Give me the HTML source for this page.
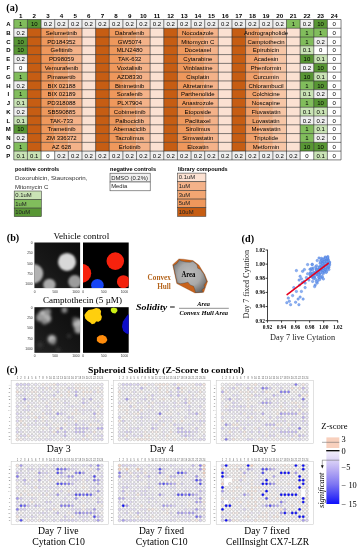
<!DOCTYPE html>
<html lang="en">
<head>
<meta charset="utf-8">
<title>Spheroid solidity screening figure</title>
<style>
html,body{margin:0;padding:0;background:#fff;}
svg{display:block;}
.s{font-family:"Liberation Sans",sans-serif;}
.r{font-family:"Liberation Serif",serif;}
</style>
</head>
<body>
<svg width="359" height="550" viewBox="0 0 359 550">
<rect width="359" height="550" fill="#fff"/>
<g id="panel-a">
<text x="6.30" y="10.60" class="r" font-size="10.2" font-weight="bold" fill="#000">(a)</text>
<text x="20.62" y="17.90" class="s" font-size="6.2" font-weight="bold" text-anchor="middle">1</text>
<text x="34.25" y="17.90" class="s" font-size="6.2" font-weight="bold" text-anchor="middle">2</text>
<text x="47.89" y="17.90" class="s" font-size="6.2" font-weight="bold" text-anchor="middle">3</text>
<text x="61.52" y="17.90" class="s" font-size="6.2" font-weight="bold" text-anchor="middle">4</text>
<text x="75.16" y="17.90" class="s" font-size="6.2" font-weight="bold" text-anchor="middle">5</text>
<text x="88.79" y="17.90" class="s" font-size="6.2" font-weight="bold" text-anchor="middle">6</text>
<text x="102.43" y="17.90" class="s" font-size="6.2" font-weight="bold" text-anchor="middle">7</text>
<text x="116.06" y="17.90" class="s" font-size="6.2" font-weight="bold" text-anchor="middle">8</text>
<text x="129.70" y="17.90" class="s" font-size="6.2" font-weight="bold" text-anchor="middle">9</text>
<text x="143.33" y="17.90" class="s" font-size="6.2" font-weight="bold" text-anchor="middle">10</text>
<text x="156.97" y="17.90" class="s" font-size="6.2" font-weight="bold" text-anchor="middle">11</text>
<text x="170.60" y="17.90" class="s" font-size="6.2" font-weight="bold" text-anchor="middle">12</text>
<text x="184.24" y="17.90" class="s" font-size="6.2" font-weight="bold" text-anchor="middle">13</text>
<text x="197.87" y="17.90" class="s" font-size="6.2" font-weight="bold" text-anchor="middle">14</text>
<text x="211.51" y="17.90" class="s" font-size="6.2" font-weight="bold" text-anchor="middle">15</text>
<text x="225.14" y="17.90" class="s" font-size="6.2" font-weight="bold" text-anchor="middle">16</text>
<text x="238.78" y="17.90" class="s" font-size="6.2" font-weight="bold" text-anchor="middle">17</text>
<text x="252.41" y="17.90" class="s" font-size="6.2" font-weight="bold" text-anchor="middle">18</text>
<text x="266.05" y="17.90" class="s" font-size="6.2" font-weight="bold" text-anchor="middle">19</text>
<text x="279.68" y="17.90" class="s" font-size="6.2" font-weight="bold" text-anchor="middle">20</text>
<text x="293.32" y="17.90" class="s" font-size="6.2" font-weight="bold" text-anchor="middle">21</text>
<text x="306.95" y="17.90" class="s" font-size="6.2" font-weight="bold" text-anchor="middle">22</text>
<text x="320.59" y="17.90" class="s" font-size="6.2" font-weight="bold" text-anchor="middle">23</text>
<text x="334.22" y="17.90" class="s" font-size="6.2" font-weight="bold" text-anchor="middle">24</text>
<text x="8.30" y="26.14" class="s" font-size="6.0" font-weight="bold" text-anchor="middle">A</text>
<text x="8.30" y="34.91" class="s" font-size="6.0" font-weight="bold" text-anchor="middle">B</text>
<text x="8.30" y="43.69" class="s" font-size="6.0" font-weight="bold" text-anchor="middle">C</text>
<text x="8.30" y="52.46" class="s" font-size="6.0" font-weight="bold" text-anchor="middle">D</text>
<text x="8.30" y="61.24" class="s" font-size="6.0" font-weight="bold" text-anchor="middle">E</text>
<text x="8.30" y="70.01" class="s" font-size="6.0" font-weight="bold" text-anchor="middle">F</text>
<text x="8.30" y="78.79" class="s" font-size="6.0" font-weight="bold" text-anchor="middle">G</text>
<text x="8.30" y="87.56" class="s" font-size="6.0" font-weight="bold" text-anchor="middle">H</text>
<text x="8.30" y="96.34" class="s" font-size="6.0" font-weight="bold" text-anchor="middle">I</text>
<text x="8.30" y="105.11" class="s" font-size="6.0" font-weight="bold" text-anchor="middle">J</text>
<text x="8.30" y="113.89" class="s" font-size="6.0" font-weight="bold" text-anchor="middle">K</text>
<text x="8.30" y="122.66" class="s" font-size="6.0" font-weight="bold" text-anchor="middle">L</text>
<text x="8.30" y="131.44" class="s" font-size="6.0" font-weight="bold" text-anchor="middle">M</text>
<text x="8.30" y="140.21" class="s" font-size="6.0" font-weight="bold" text-anchor="middle">N</text>
<text x="8.30" y="148.99" class="s" font-size="6.0" font-weight="bold" text-anchor="middle">O</text>
<text x="8.30" y="157.76" class="s" font-size="6.0" font-weight="bold" text-anchor="middle">P</text>
<rect x="13.80" y="19.50" width="13.69" height="8.83" fill="#81bd5c"/>
<rect x="27.44" y="19.50" width="13.69" height="8.83" fill="#589634"/>
<rect x="41.07" y="19.50" width="13.69" height="8.83" fill="#efefef"/>
<rect x="54.70" y="19.50" width="13.69" height="8.83" fill="#efefef"/>
<rect x="68.34" y="19.50" width="13.69" height="8.83" fill="#efefef"/>
<rect x="81.97" y="19.50" width="13.69" height="8.83" fill="#efefef"/>
<rect x="95.61" y="19.50" width="13.69" height="8.83" fill="#efefef"/>
<rect x="109.24" y="19.50" width="13.69" height="8.83" fill="#efefef"/>
<rect x="122.88" y="19.50" width="13.69" height="8.83" fill="#efefef"/>
<rect x="136.52" y="19.50" width="13.69" height="8.83" fill="#efefef"/>
<rect x="150.15" y="19.50" width="13.69" height="8.83" fill="#efefef"/>
<rect x="163.78" y="19.50" width="13.69" height="8.83" fill="#efefef"/>
<rect x="177.42" y="19.50" width="13.69" height="8.83" fill="#efefef"/>
<rect x="191.06" y="19.50" width="13.69" height="8.83" fill="#efefef"/>
<rect x="204.69" y="19.50" width="13.69" height="8.83" fill="#efefef"/>
<rect x="218.33" y="19.50" width="13.69" height="8.83" fill="#efefef"/>
<rect x="231.96" y="19.50" width="13.69" height="8.83" fill="#efefef"/>
<rect x="245.59" y="19.50" width="13.69" height="8.83" fill="#efefef"/>
<rect x="259.23" y="19.50" width="13.69" height="8.83" fill="#efefef"/>
<rect x="272.87" y="19.50" width="13.69" height="8.83" fill="#efefef"/>
<rect x="286.50" y="19.50" width="13.69" height="8.83" fill="#81bd5c"/>
<rect x="300.13" y="19.50" width="13.69" height="8.83" fill="#efefef"/>
<rect x="313.77" y="19.50" width="13.69" height="8.83" fill="#589634"/>
<rect x="327.41" y="19.50" width="13.69" height="8.83" fill="#ffffff"/>
<rect x="13.80" y="28.27" width="13.69" height="8.83" fill="#efefef"/>
<rect x="27.44" y="28.27" width="13.69" height="8.83" fill="#c65d13"/>
<rect x="41.07" y="28.27" width="13.69" height="8.83" fill="#ef985c"/>
<rect x="54.70" y="28.27" width="13.69" height="8.83" fill="#f2a672"/>
<rect x="68.34" y="28.27" width="13.69" height="8.83" fill="#f4b289"/>
<rect x="81.97" y="28.27" width="13.69" height="8.83" fill="#fbe1d2"/>
<rect x="95.61" y="28.27" width="13.69" height="8.83" fill="#c65d13"/>
<rect x="109.24" y="28.27" width="13.69" height="8.83" fill="#ef985c"/>
<rect x="122.88" y="28.27" width="13.69" height="8.83" fill="#f2a672"/>
<rect x="136.52" y="28.27" width="13.69" height="8.83" fill="#f4b289"/>
<rect x="150.15" y="28.27" width="13.69" height="8.83" fill="#fbe1d2"/>
<rect x="163.78" y="28.27" width="13.69" height="8.83" fill="#c65d13"/>
<rect x="177.42" y="28.27" width="13.69" height="8.83" fill="#ef985c"/>
<rect x="191.06" y="28.27" width="13.69" height="8.83" fill="#f2a672"/>
<rect x="204.69" y="28.27" width="13.69" height="8.83" fill="#f4b289"/>
<rect x="218.33" y="28.27" width="13.69" height="8.83" fill="#fbe1d2"/>
<rect x="231.96" y="28.27" width="13.69" height="8.83" fill="#c65d13"/>
<rect x="245.59" y="28.27" width="13.69" height="8.83" fill="#f0a06a"/>
<rect x="259.23" y="28.27" width="13.69" height="8.83" fill="#f4b48a"/>
<rect x="272.87" y="28.27" width="13.69" height="8.83" fill="#f7c6a6"/>
<rect x="286.50" y="28.27" width="13.69" height="8.83" fill="#fbe1d2"/>
<rect x="300.13" y="28.27" width="13.69" height="8.83" fill="#81bd5c"/>
<rect x="313.77" y="28.27" width="13.69" height="8.83" fill="#81bd5c"/>
<rect x="327.41" y="28.27" width="13.69" height="8.83" fill="#ffffff"/>
<rect x="13.80" y="37.05" width="13.69" height="8.83" fill="#589634"/>
<rect x="27.44" y="37.05" width="13.69" height="8.83" fill="#c65d13"/>
<rect x="41.07" y="37.05" width="13.69" height="8.83" fill="#ef985c"/>
<rect x="54.70" y="37.05" width="13.69" height="8.83" fill="#f2a672"/>
<rect x="68.34" y="37.05" width="13.69" height="8.83" fill="#f4b289"/>
<rect x="81.97" y="37.05" width="13.69" height="8.83" fill="#fbe1d2"/>
<rect x="95.61" y="37.05" width="13.69" height="8.83" fill="#c65d13"/>
<rect x="109.24" y="37.05" width="13.69" height="8.83" fill="#ef985c"/>
<rect x="122.88" y="37.05" width="13.69" height="8.83" fill="#f2a672"/>
<rect x="136.52" y="37.05" width="13.69" height="8.83" fill="#f4b289"/>
<rect x="150.15" y="37.05" width="13.69" height="8.83" fill="#fbe1d2"/>
<rect x="163.78" y="37.05" width="13.69" height="8.83" fill="#c65d13"/>
<rect x="177.42" y="37.05" width="13.69" height="8.83" fill="#ef985c"/>
<rect x="191.06" y="37.05" width="13.69" height="8.83" fill="#f2a672"/>
<rect x="204.69" y="37.05" width="13.69" height="8.83" fill="#f4b289"/>
<rect x="218.33" y="37.05" width="13.69" height="8.83" fill="#fbe1d2"/>
<rect x="231.96" y="37.05" width="13.69" height="8.83" fill="#c65d13"/>
<rect x="245.59" y="37.05" width="13.69" height="8.83" fill="#f0a06a"/>
<rect x="259.23" y="37.05" width="13.69" height="8.83" fill="#f4b48a"/>
<rect x="272.87" y="37.05" width="13.69" height="8.83" fill="#f7c6a6"/>
<rect x="286.50" y="37.05" width="13.69" height="8.83" fill="#fbe1d2"/>
<rect x="300.13" y="37.05" width="13.69" height="8.83" fill="#81bd5c"/>
<rect x="313.77" y="37.05" width="13.69" height="8.83" fill="#efefef"/>
<rect x="327.41" y="37.05" width="13.69" height="8.83" fill="#ffffff"/>
<rect x="13.80" y="45.83" width="13.69" height="8.83" fill="#589634"/>
<rect x="27.44" y="45.83" width="13.69" height="8.83" fill="#c65d13"/>
<rect x="41.07" y="45.83" width="13.69" height="8.83" fill="#ef985c"/>
<rect x="54.70" y="45.83" width="13.69" height="8.83" fill="#f2a672"/>
<rect x="68.34" y="45.83" width="13.69" height="8.83" fill="#f4b289"/>
<rect x="81.97" y="45.83" width="13.69" height="8.83" fill="#fbe1d2"/>
<rect x="95.61" y="45.83" width="13.69" height="8.83" fill="#c65d13"/>
<rect x="109.24" y="45.83" width="13.69" height="8.83" fill="#ef985c"/>
<rect x="122.88" y="45.83" width="13.69" height="8.83" fill="#f2a672"/>
<rect x="136.52" y="45.83" width="13.69" height="8.83" fill="#f4b289"/>
<rect x="150.15" y="45.83" width="13.69" height="8.83" fill="#fbe1d2"/>
<rect x="163.78" y="45.83" width="13.69" height="8.83" fill="#c65d13"/>
<rect x="177.42" y="45.83" width="13.69" height="8.83" fill="#ef985c"/>
<rect x="191.06" y="45.83" width="13.69" height="8.83" fill="#f2a672"/>
<rect x="204.69" y="45.83" width="13.69" height="8.83" fill="#f4b289"/>
<rect x="218.33" y="45.83" width="13.69" height="8.83" fill="#fbe1d2"/>
<rect x="231.96" y="45.83" width="13.69" height="8.83" fill="#c65d13"/>
<rect x="245.59" y="45.83" width="13.69" height="8.83" fill="#f0a06a"/>
<rect x="259.23" y="45.83" width="13.69" height="8.83" fill="#f4b48a"/>
<rect x="272.87" y="45.83" width="13.69" height="8.83" fill="#f7c6a6"/>
<rect x="286.50" y="45.83" width="13.69" height="8.83" fill="#fbe1d2"/>
<rect x="300.13" y="45.83" width="13.69" height="8.83" fill="#c9e3b5"/>
<rect x="313.77" y="45.83" width="13.69" height="8.83" fill="#ffffff"/>
<rect x="327.41" y="45.83" width="13.69" height="8.83" fill="#ffffff"/>
<rect x="13.80" y="54.60" width="13.69" height="8.83" fill="#efefef"/>
<rect x="27.44" y="54.60" width="13.69" height="8.83" fill="#c65d13"/>
<rect x="41.07" y="54.60" width="13.69" height="8.83" fill="#ef985c"/>
<rect x="54.70" y="54.60" width="13.69" height="8.83" fill="#f2a672"/>
<rect x="68.34" y="54.60" width="13.69" height="8.83" fill="#f4b289"/>
<rect x="81.97" y="54.60" width="13.69" height="8.83" fill="#fbe1d2"/>
<rect x="95.61" y="54.60" width="13.69" height="8.83" fill="#c65d13"/>
<rect x="109.24" y="54.60" width="13.69" height="8.83" fill="#ef985c"/>
<rect x="122.88" y="54.60" width="13.69" height="8.83" fill="#f2a672"/>
<rect x="136.52" y="54.60" width="13.69" height="8.83" fill="#f4b289"/>
<rect x="150.15" y="54.60" width="13.69" height="8.83" fill="#fbe1d2"/>
<rect x="163.78" y="54.60" width="13.69" height="8.83" fill="#c65d13"/>
<rect x="177.42" y="54.60" width="13.69" height="8.83" fill="#ef985c"/>
<rect x="191.06" y="54.60" width="13.69" height="8.83" fill="#f2a672"/>
<rect x="204.69" y="54.60" width="13.69" height="8.83" fill="#f4b289"/>
<rect x="218.33" y="54.60" width="13.69" height="8.83" fill="#fbe1d2"/>
<rect x="231.96" y="54.60" width="13.69" height="8.83" fill="#c65d13"/>
<rect x="245.59" y="54.60" width="13.69" height="8.83" fill="#f0a06a"/>
<rect x="259.23" y="54.60" width="13.69" height="8.83" fill="#f4b48a"/>
<rect x="272.87" y="54.60" width="13.69" height="8.83" fill="#f7c6a6"/>
<rect x="286.50" y="54.60" width="13.69" height="8.83" fill="#fbe1d2"/>
<rect x="300.13" y="54.60" width="13.69" height="8.83" fill="#589634"/>
<rect x="313.77" y="54.60" width="13.69" height="8.83" fill="#c9e3b5"/>
<rect x="327.41" y="54.60" width="13.69" height="8.83" fill="#ffffff"/>
<rect x="13.80" y="63.38" width="13.69" height="8.83" fill="#ffffff"/>
<rect x="27.44" y="63.38" width="13.69" height="8.83" fill="#c65d13"/>
<rect x="41.07" y="63.38" width="13.69" height="8.83" fill="#ef985c"/>
<rect x="54.70" y="63.38" width="13.69" height="8.83" fill="#f2a672"/>
<rect x="68.34" y="63.38" width="13.69" height="8.83" fill="#f4b289"/>
<rect x="81.97" y="63.38" width="13.69" height="8.83" fill="#fbe1d2"/>
<rect x="95.61" y="63.38" width="13.69" height="8.83" fill="#c65d13"/>
<rect x="109.24" y="63.38" width="13.69" height="8.83" fill="#ef985c"/>
<rect x="122.88" y="63.38" width="13.69" height="8.83" fill="#f2a672"/>
<rect x="136.52" y="63.38" width="13.69" height="8.83" fill="#f4b289"/>
<rect x="150.15" y="63.38" width="13.69" height="8.83" fill="#fbe1d2"/>
<rect x="163.78" y="63.38" width="13.69" height="8.83" fill="#c65d13"/>
<rect x="177.42" y="63.38" width="13.69" height="8.83" fill="#ef985c"/>
<rect x="191.06" y="63.38" width="13.69" height="8.83" fill="#f2a672"/>
<rect x="204.69" y="63.38" width="13.69" height="8.83" fill="#f4b289"/>
<rect x="218.33" y="63.38" width="13.69" height="8.83" fill="#fbe1d2"/>
<rect x="231.96" y="63.38" width="13.69" height="8.83" fill="#c65d13"/>
<rect x="245.59" y="63.38" width="13.69" height="8.83" fill="#f0a06a"/>
<rect x="259.23" y="63.38" width="13.69" height="8.83" fill="#f4b48a"/>
<rect x="272.87" y="63.38" width="13.69" height="8.83" fill="#f7c6a6"/>
<rect x="286.50" y="63.38" width="13.69" height="8.83" fill="#fbe1d2"/>
<rect x="300.13" y="63.38" width="13.69" height="8.83" fill="#efefef"/>
<rect x="313.77" y="63.38" width="13.69" height="8.83" fill="#589634"/>
<rect x="327.41" y="63.38" width="13.69" height="8.83" fill="#ffffff"/>
<rect x="13.80" y="72.15" width="13.69" height="8.83" fill="#81bd5c"/>
<rect x="27.44" y="72.15" width="13.69" height="8.83" fill="#c65d13"/>
<rect x="41.07" y="72.15" width="13.69" height="8.83" fill="#ef985c"/>
<rect x="54.70" y="72.15" width="13.69" height="8.83" fill="#f2a672"/>
<rect x="68.34" y="72.15" width="13.69" height="8.83" fill="#f4b289"/>
<rect x="81.97" y="72.15" width="13.69" height="8.83" fill="#fbe1d2"/>
<rect x="95.61" y="72.15" width="13.69" height="8.83" fill="#c65d13"/>
<rect x="109.24" y="72.15" width="13.69" height="8.83" fill="#ef985c"/>
<rect x="122.88" y="72.15" width="13.69" height="8.83" fill="#f2a672"/>
<rect x="136.52" y="72.15" width="13.69" height="8.83" fill="#f4b289"/>
<rect x="150.15" y="72.15" width="13.69" height="8.83" fill="#fbe1d2"/>
<rect x="163.78" y="72.15" width="13.69" height="8.83" fill="#c65d13"/>
<rect x="177.42" y="72.15" width="13.69" height="8.83" fill="#ef985c"/>
<rect x="191.06" y="72.15" width="13.69" height="8.83" fill="#f2a672"/>
<rect x="204.69" y="72.15" width="13.69" height="8.83" fill="#f4b289"/>
<rect x="218.33" y="72.15" width="13.69" height="8.83" fill="#fbe1d2"/>
<rect x="231.96" y="72.15" width="13.69" height="8.83" fill="#c65d13"/>
<rect x="245.59" y="72.15" width="13.69" height="8.83" fill="#f0a06a"/>
<rect x="259.23" y="72.15" width="13.69" height="8.83" fill="#f4b48a"/>
<rect x="272.87" y="72.15" width="13.69" height="8.83" fill="#f7c6a6"/>
<rect x="286.50" y="72.15" width="13.69" height="8.83" fill="#fbe1d2"/>
<rect x="300.13" y="72.15" width="13.69" height="8.83" fill="#589634"/>
<rect x="313.77" y="72.15" width="13.69" height="8.83" fill="#c9e3b5"/>
<rect x="327.41" y="72.15" width="13.69" height="8.83" fill="#ffffff"/>
<rect x="13.80" y="80.93" width="13.69" height="8.83" fill="#efefef"/>
<rect x="27.44" y="80.93" width="13.69" height="8.83" fill="#c65d13"/>
<rect x="41.07" y="80.93" width="13.69" height="8.83" fill="#ef985c"/>
<rect x="54.70" y="80.93" width="13.69" height="8.83" fill="#f2a672"/>
<rect x="68.34" y="80.93" width="13.69" height="8.83" fill="#f4b289"/>
<rect x="81.97" y="80.93" width="13.69" height="8.83" fill="#fbe1d2"/>
<rect x="95.61" y="80.93" width="13.69" height="8.83" fill="#c65d13"/>
<rect x="109.24" y="80.93" width="13.69" height="8.83" fill="#ef985c"/>
<rect x="122.88" y="80.93" width="13.69" height="8.83" fill="#f2a672"/>
<rect x="136.52" y="80.93" width="13.69" height="8.83" fill="#f4b289"/>
<rect x="150.15" y="80.93" width="13.69" height="8.83" fill="#fbe1d2"/>
<rect x="163.78" y="80.93" width="13.69" height="8.83" fill="#c65d13"/>
<rect x="177.42" y="80.93" width="13.69" height="8.83" fill="#ef985c"/>
<rect x="191.06" y="80.93" width="13.69" height="8.83" fill="#f2a672"/>
<rect x="204.69" y="80.93" width="13.69" height="8.83" fill="#f4b289"/>
<rect x="218.33" y="80.93" width="13.69" height="8.83" fill="#fbe1d2"/>
<rect x="231.96" y="80.93" width="13.69" height="8.83" fill="#c65d13"/>
<rect x="245.59" y="80.93" width="13.69" height="8.83" fill="#f0a06a"/>
<rect x="259.23" y="80.93" width="13.69" height="8.83" fill="#f4b48a"/>
<rect x="272.87" y="80.93" width="13.69" height="8.83" fill="#f7c6a6"/>
<rect x="286.50" y="80.93" width="13.69" height="8.83" fill="#fbe1d2"/>
<rect x="300.13" y="80.93" width="13.69" height="8.83" fill="#81bd5c"/>
<rect x="313.77" y="80.93" width="13.69" height="8.83" fill="#589634"/>
<rect x="327.41" y="80.93" width="13.69" height="8.83" fill="#ffffff"/>
<rect x="13.80" y="89.70" width="13.69" height="8.83" fill="#81bd5c"/>
<rect x="27.44" y="89.70" width="13.69" height="8.83" fill="#c65d13"/>
<rect x="41.07" y="89.70" width="13.69" height="8.83" fill="#ef985c"/>
<rect x="54.70" y="89.70" width="13.69" height="8.83" fill="#f2a672"/>
<rect x="68.34" y="89.70" width="13.69" height="8.83" fill="#f4b289"/>
<rect x="81.97" y="89.70" width="13.69" height="8.83" fill="#fbe1d2"/>
<rect x="95.61" y="89.70" width="13.69" height="8.83" fill="#c65d13"/>
<rect x="109.24" y="89.70" width="13.69" height="8.83" fill="#ef985c"/>
<rect x="122.88" y="89.70" width="13.69" height="8.83" fill="#f2a672"/>
<rect x="136.52" y="89.70" width="13.69" height="8.83" fill="#f4b289"/>
<rect x="150.15" y="89.70" width="13.69" height="8.83" fill="#fbe1d2"/>
<rect x="163.78" y="89.70" width="13.69" height="8.83" fill="#c65d13"/>
<rect x="177.42" y="89.70" width="13.69" height="8.83" fill="#ef985c"/>
<rect x="191.06" y="89.70" width="13.69" height="8.83" fill="#f2a672"/>
<rect x="204.69" y="89.70" width="13.69" height="8.83" fill="#f4b289"/>
<rect x="218.33" y="89.70" width="13.69" height="8.83" fill="#fbe1d2"/>
<rect x="231.96" y="89.70" width="13.69" height="8.83" fill="#c65d13"/>
<rect x="245.59" y="89.70" width="13.69" height="8.83" fill="#f0a06a"/>
<rect x="259.23" y="89.70" width="13.69" height="8.83" fill="#f4b48a"/>
<rect x="272.87" y="89.70" width="13.69" height="8.83" fill="#f7c6a6"/>
<rect x="286.50" y="89.70" width="13.69" height="8.83" fill="#fbe1d2"/>
<rect x="300.13" y="89.70" width="13.69" height="8.83" fill="#c9e3b5"/>
<rect x="313.77" y="89.70" width="13.69" height="8.83" fill="#efefef"/>
<rect x="327.41" y="89.70" width="13.69" height="8.83" fill="#ffffff"/>
<rect x="13.80" y="98.48" width="13.69" height="8.83" fill="#c9e3b5"/>
<rect x="27.44" y="98.48" width="13.69" height="8.83" fill="#c65d13"/>
<rect x="41.07" y="98.48" width="13.69" height="8.83" fill="#ef985c"/>
<rect x="54.70" y="98.48" width="13.69" height="8.83" fill="#f2a672"/>
<rect x="68.34" y="98.48" width="13.69" height="8.83" fill="#f4b289"/>
<rect x="81.97" y="98.48" width="13.69" height="8.83" fill="#fbe1d2"/>
<rect x="95.61" y="98.48" width="13.69" height="8.83" fill="#c65d13"/>
<rect x="109.24" y="98.48" width="13.69" height="8.83" fill="#ef985c"/>
<rect x="122.88" y="98.48" width="13.69" height="8.83" fill="#f2a672"/>
<rect x="136.52" y="98.48" width="13.69" height="8.83" fill="#f4b289"/>
<rect x="150.15" y="98.48" width="13.69" height="8.83" fill="#fbe1d2"/>
<rect x="163.78" y="98.48" width="13.69" height="8.83" fill="#c65d13"/>
<rect x="177.42" y="98.48" width="13.69" height="8.83" fill="#ef985c"/>
<rect x="191.06" y="98.48" width="13.69" height="8.83" fill="#f2a672"/>
<rect x="204.69" y="98.48" width="13.69" height="8.83" fill="#f4b289"/>
<rect x="218.33" y="98.48" width="13.69" height="8.83" fill="#fbe1d2"/>
<rect x="231.96" y="98.48" width="13.69" height="8.83" fill="#c65d13"/>
<rect x="245.59" y="98.48" width="13.69" height="8.83" fill="#f0a06a"/>
<rect x="259.23" y="98.48" width="13.69" height="8.83" fill="#f4b48a"/>
<rect x="272.87" y="98.48" width="13.69" height="8.83" fill="#f7c6a6"/>
<rect x="286.50" y="98.48" width="13.69" height="8.83" fill="#fbe1d2"/>
<rect x="300.13" y="98.48" width="13.69" height="8.83" fill="#81bd5c"/>
<rect x="313.77" y="98.48" width="13.69" height="8.83" fill="#589634"/>
<rect x="327.41" y="98.48" width="13.69" height="8.83" fill="#ffffff"/>
<rect x="13.80" y="107.25" width="13.69" height="8.83" fill="#efefef"/>
<rect x="27.44" y="107.25" width="13.69" height="8.83" fill="#c65d13"/>
<rect x="41.07" y="107.25" width="13.69" height="8.83" fill="#ef985c"/>
<rect x="54.70" y="107.25" width="13.69" height="8.83" fill="#f2a672"/>
<rect x="68.34" y="107.25" width="13.69" height="8.83" fill="#f4b289"/>
<rect x="81.97" y="107.25" width="13.69" height="8.83" fill="#fbe1d2"/>
<rect x="95.61" y="107.25" width="13.69" height="8.83" fill="#c65d13"/>
<rect x="109.24" y="107.25" width="13.69" height="8.83" fill="#ef985c"/>
<rect x="122.88" y="107.25" width="13.69" height="8.83" fill="#f2a672"/>
<rect x="136.52" y="107.25" width="13.69" height="8.83" fill="#f4b289"/>
<rect x="150.15" y="107.25" width="13.69" height="8.83" fill="#fbe1d2"/>
<rect x="163.78" y="107.25" width="13.69" height="8.83" fill="#c65d13"/>
<rect x="177.42" y="107.25" width="13.69" height="8.83" fill="#ef985c"/>
<rect x="191.06" y="107.25" width="13.69" height="8.83" fill="#f2a672"/>
<rect x="204.69" y="107.25" width="13.69" height="8.83" fill="#f4b289"/>
<rect x="218.33" y="107.25" width="13.69" height="8.83" fill="#fbe1d2"/>
<rect x="231.96" y="107.25" width="13.69" height="8.83" fill="#c65d13"/>
<rect x="245.59" y="107.25" width="13.69" height="8.83" fill="#f0a06a"/>
<rect x="259.23" y="107.25" width="13.69" height="8.83" fill="#f4b48a"/>
<rect x="272.87" y="107.25" width="13.69" height="8.83" fill="#f7c6a6"/>
<rect x="286.50" y="107.25" width="13.69" height="8.83" fill="#fbe1d2"/>
<rect x="300.13" y="107.25" width="13.69" height="8.83" fill="#c9e3b5"/>
<rect x="313.77" y="107.25" width="13.69" height="8.83" fill="#c9e3b5"/>
<rect x="327.41" y="107.25" width="13.69" height="8.83" fill="#ffffff"/>
<rect x="13.80" y="116.03" width="13.69" height="8.83" fill="#c9e3b5"/>
<rect x="27.44" y="116.03" width="13.69" height="8.83" fill="#c65d13"/>
<rect x="41.07" y="116.03" width="13.69" height="8.83" fill="#ef985c"/>
<rect x="54.70" y="116.03" width="13.69" height="8.83" fill="#f2a672"/>
<rect x="68.34" y="116.03" width="13.69" height="8.83" fill="#f4b289"/>
<rect x="81.97" y="116.03" width="13.69" height="8.83" fill="#fbe1d2"/>
<rect x="95.61" y="116.03" width="13.69" height="8.83" fill="#c65d13"/>
<rect x="109.24" y="116.03" width="13.69" height="8.83" fill="#ef985c"/>
<rect x="122.88" y="116.03" width="13.69" height="8.83" fill="#f2a672"/>
<rect x="136.52" y="116.03" width="13.69" height="8.83" fill="#f4b289"/>
<rect x="150.15" y="116.03" width="13.69" height="8.83" fill="#fbe1d2"/>
<rect x="163.78" y="116.03" width="13.69" height="8.83" fill="#c65d13"/>
<rect x="177.42" y="116.03" width="13.69" height="8.83" fill="#ef985c"/>
<rect x="191.06" y="116.03" width="13.69" height="8.83" fill="#f2a672"/>
<rect x="204.69" y="116.03" width="13.69" height="8.83" fill="#f4b289"/>
<rect x="218.33" y="116.03" width="13.69" height="8.83" fill="#fbe1d2"/>
<rect x="231.96" y="116.03" width="13.69" height="8.83" fill="#c65d13"/>
<rect x="245.59" y="116.03" width="13.69" height="8.83" fill="#f0a06a"/>
<rect x="259.23" y="116.03" width="13.69" height="8.83" fill="#f4b48a"/>
<rect x="272.87" y="116.03" width="13.69" height="8.83" fill="#f7c6a6"/>
<rect x="286.50" y="116.03" width="13.69" height="8.83" fill="#fbe1d2"/>
<rect x="300.13" y="116.03" width="13.69" height="8.83" fill="#efefef"/>
<rect x="313.77" y="116.03" width="13.69" height="8.83" fill="#efefef"/>
<rect x="327.41" y="116.03" width="13.69" height="8.83" fill="#ffffff"/>
<rect x="13.80" y="124.80" width="13.69" height="8.83" fill="#589634"/>
<rect x="27.44" y="124.80" width="13.69" height="8.83" fill="#c65d13"/>
<rect x="41.07" y="124.80" width="13.69" height="8.83" fill="#ef985c"/>
<rect x="54.70" y="124.80" width="13.69" height="8.83" fill="#f2a672"/>
<rect x="68.34" y="124.80" width="13.69" height="8.83" fill="#f4b289"/>
<rect x="81.97" y="124.80" width="13.69" height="8.83" fill="#fbe1d2"/>
<rect x="95.61" y="124.80" width="13.69" height="8.83" fill="#c65d13"/>
<rect x="109.24" y="124.80" width="13.69" height="8.83" fill="#ef985c"/>
<rect x="122.88" y="124.80" width="13.69" height="8.83" fill="#f2a672"/>
<rect x="136.52" y="124.80" width="13.69" height="8.83" fill="#f4b289"/>
<rect x="150.15" y="124.80" width="13.69" height="8.83" fill="#fbe1d2"/>
<rect x="163.78" y="124.80" width="13.69" height="8.83" fill="#c65d13"/>
<rect x="177.42" y="124.80" width="13.69" height="8.83" fill="#ef985c"/>
<rect x="191.06" y="124.80" width="13.69" height="8.83" fill="#f2a672"/>
<rect x="204.69" y="124.80" width="13.69" height="8.83" fill="#f4b289"/>
<rect x="218.33" y="124.80" width="13.69" height="8.83" fill="#fbe1d2"/>
<rect x="231.96" y="124.80" width="13.69" height="8.83" fill="#c65d13"/>
<rect x="245.59" y="124.80" width="13.69" height="8.83" fill="#f0a06a"/>
<rect x="259.23" y="124.80" width="13.69" height="8.83" fill="#f4b48a"/>
<rect x="272.87" y="124.80" width="13.69" height="8.83" fill="#f7c6a6"/>
<rect x="286.50" y="124.80" width="13.69" height="8.83" fill="#fbe1d2"/>
<rect x="300.13" y="124.80" width="13.69" height="8.83" fill="#81bd5c"/>
<rect x="313.77" y="124.80" width="13.69" height="8.83" fill="#c9e3b5"/>
<rect x="327.41" y="124.80" width="13.69" height="8.83" fill="#ffffff"/>
<rect x="13.80" y="133.57" width="13.69" height="8.83" fill="#efefef"/>
<rect x="27.44" y="133.57" width="13.69" height="8.83" fill="#c65d13"/>
<rect x="41.07" y="133.57" width="13.69" height="8.83" fill="#ef985c"/>
<rect x="54.70" y="133.57" width="13.69" height="8.83" fill="#f2a672"/>
<rect x="68.34" y="133.57" width="13.69" height="8.83" fill="#f4b289"/>
<rect x="81.97" y="133.57" width="13.69" height="8.83" fill="#fbe1d2"/>
<rect x="95.61" y="133.57" width="13.69" height="8.83" fill="#c65d13"/>
<rect x="109.24" y="133.57" width="13.69" height="8.83" fill="#ef985c"/>
<rect x="122.88" y="133.57" width="13.69" height="8.83" fill="#f2a672"/>
<rect x="136.52" y="133.57" width="13.69" height="8.83" fill="#f4b289"/>
<rect x="150.15" y="133.57" width="13.69" height="8.83" fill="#fbe1d2"/>
<rect x="163.78" y="133.57" width="13.69" height="8.83" fill="#c65d13"/>
<rect x="177.42" y="133.57" width="13.69" height="8.83" fill="#ef985c"/>
<rect x="191.06" y="133.57" width="13.69" height="8.83" fill="#f2a672"/>
<rect x="204.69" y="133.57" width="13.69" height="8.83" fill="#f4b289"/>
<rect x="218.33" y="133.57" width="13.69" height="8.83" fill="#fbe1d2"/>
<rect x="231.96" y="133.57" width="13.69" height="8.83" fill="#c65d13"/>
<rect x="245.59" y="133.57" width="13.69" height="8.83" fill="#f0a06a"/>
<rect x="259.23" y="133.57" width="13.69" height="8.83" fill="#f4b48a"/>
<rect x="272.87" y="133.57" width="13.69" height="8.83" fill="#f7c6a6"/>
<rect x="286.50" y="133.57" width="13.69" height="8.83" fill="#fbe1d2"/>
<rect x="300.13" y="133.57" width="13.69" height="8.83" fill="#81bd5c"/>
<rect x="313.77" y="133.57" width="13.69" height="8.83" fill="#efefef"/>
<rect x="327.41" y="133.57" width="13.69" height="8.83" fill="#ffffff"/>
<rect x="13.80" y="142.35" width="13.69" height="8.83" fill="#81bd5c"/>
<rect x="27.44" y="142.35" width="13.69" height="8.83" fill="#c65d13"/>
<rect x="41.07" y="142.35" width="13.69" height="8.83" fill="#ef985c"/>
<rect x="54.70" y="142.35" width="13.69" height="8.83" fill="#f2a672"/>
<rect x="68.34" y="142.35" width="13.69" height="8.83" fill="#f4b289"/>
<rect x="81.97" y="142.35" width="13.69" height="8.83" fill="#fbe1d2"/>
<rect x="95.61" y="142.35" width="13.69" height="8.83" fill="#c65d13"/>
<rect x="109.24" y="142.35" width="13.69" height="8.83" fill="#ef985c"/>
<rect x="122.88" y="142.35" width="13.69" height="8.83" fill="#f2a672"/>
<rect x="136.52" y="142.35" width="13.69" height="8.83" fill="#f4b289"/>
<rect x="150.15" y="142.35" width="13.69" height="8.83" fill="#fbe1d2"/>
<rect x="163.78" y="142.35" width="13.69" height="8.83" fill="#c65d13"/>
<rect x="177.42" y="142.35" width="13.69" height="8.83" fill="#ef985c"/>
<rect x="191.06" y="142.35" width="13.69" height="8.83" fill="#f2a672"/>
<rect x="204.69" y="142.35" width="13.69" height="8.83" fill="#f4b289"/>
<rect x="218.33" y="142.35" width="13.69" height="8.83" fill="#fbe1d2"/>
<rect x="231.96" y="142.35" width="13.69" height="8.83" fill="#c65d13"/>
<rect x="245.59" y="142.35" width="13.69" height="8.83" fill="#f0a06a"/>
<rect x="259.23" y="142.35" width="13.69" height="8.83" fill="#f4b48a"/>
<rect x="272.87" y="142.35" width="13.69" height="8.83" fill="#f7c6a6"/>
<rect x="286.50" y="142.35" width="13.69" height="8.83" fill="#fbe1d2"/>
<rect x="300.13" y="142.35" width="13.69" height="8.83" fill="#589634"/>
<rect x="313.77" y="142.35" width="13.69" height="8.83" fill="#589634"/>
<rect x="327.41" y="142.35" width="13.69" height="8.83" fill="#ffffff"/>
<rect x="13.80" y="151.12" width="13.69" height="8.83" fill="#c9e3b5"/>
<rect x="27.44" y="151.12" width="13.69" height="8.83" fill="#c9e3b5"/>
<rect x="41.07" y="151.12" width="13.69" height="8.83" fill="#ffffff"/>
<rect x="54.70" y="151.12" width="13.69" height="8.83" fill="#efefef"/>
<rect x="68.34" y="151.12" width="13.69" height="8.83" fill="#efefef"/>
<rect x="81.97" y="151.12" width="13.69" height="8.83" fill="#efefef"/>
<rect x="95.61" y="151.12" width="13.69" height="8.83" fill="#efefef"/>
<rect x="109.24" y="151.12" width="13.69" height="8.83" fill="#efefef"/>
<rect x="122.88" y="151.12" width="13.69" height="8.83" fill="#efefef"/>
<rect x="136.52" y="151.12" width="13.69" height="8.83" fill="#efefef"/>
<rect x="150.15" y="151.12" width="13.69" height="8.83" fill="#efefef"/>
<rect x="163.78" y="151.12" width="13.69" height="8.83" fill="#efefef"/>
<rect x="177.42" y="151.12" width="13.69" height="8.83" fill="#efefef"/>
<rect x="191.06" y="151.12" width="13.69" height="8.83" fill="#efefef"/>
<rect x="204.69" y="151.12" width="13.69" height="8.83" fill="#efefef"/>
<rect x="218.33" y="151.12" width="13.69" height="8.83" fill="#efefef"/>
<rect x="231.96" y="151.12" width="13.69" height="8.83" fill="#efefef"/>
<rect x="245.59" y="151.12" width="13.69" height="8.83" fill="#efefef"/>
<rect x="259.23" y="151.12" width="13.69" height="8.83" fill="#efefef"/>
<rect x="272.87" y="151.12" width="13.69" height="8.83" fill="#efefef"/>
<rect x="286.50" y="151.12" width="13.69" height="8.83" fill="#efefef"/>
<rect x="300.13" y="151.12" width="13.69" height="8.83" fill="#ffffff"/>
<rect x="313.77" y="151.12" width="13.69" height="8.83" fill="#c9e3b5"/>
<rect x="327.41" y="151.12" width="13.69" height="8.83" fill="#ffffff"/>
<path d="M13.80 19.50H341.04M13.80 28.27H341.04M13.80 37.05H341.04M13.80 45.83H341.04M13.80 54.60H341.04M13.80 63.38H341.04M13.80 72.15H341.04M13.80 80.93H341.04M13.80 89.70H341.04M13.80 98.48H341.04M13.80 107.25H341.04M13.80 116.03H341.04M13.80 124.80H341.04M13.80 133.57H341.04M13.80 142.35H341.04M13.80 151.12H341.04M13.80 159.90H341.04M13.80 19.50V159.90M27.44 19.50V159.90M41.07 19.50V159.90M54.70 19.50V28.27M54.70 151.12V159.90M68.34 19.50V28.27M68.34 151.12V159.90M81.97 19.50V159.90M95.61 19.50V159.90M109.24 19.50V159.90M122.88 19.50V28.27M122.88 151.12V159.90M136.52 19.50V28.27M136.52 151.12V159.90M150.15 19.50V159.90M163.78 19.50V159.90M177.42 19.50V159.90M191.06 19.50V28.27M191.06 151.12V159.90M204.69 19.50V28.27M204.69 151.12V159.90M218.33 19.50V159.90M231.96 19.50V159.90M245.59 19.50V159.90M259.23 19.50V28.27M259.23 151.12V159.90M272.87 19.50V28.27M272.87 151.12V159.90M286.50 19.50V159.90M300.13 19.50V159.90M313.77 19.50V159.90M327.41 19.50V159.90M341.04 19.50V159.90" stroke="#2a2a2a" stroke-width="0.6" fill="none"/>
<text x="20.62" y="26.09" class="s" font-size="6.0" text-anchor="middle">1</text>
<text x="34.25" y="26.09" class="s" font-size="6.0" text-anchor="middle">10</text>
<text x="47.89" y="26.09" class="s" font-size="6.0" text-anchor="middle">0.2</text>
<text x="61.52" y="26.09" class="s" font-size="6.0" text-anchor="middle">0.2</text>
<text x="75.16" y="26.09" class="s" font-size="6.0" text-anchor="middle">0.2</text>
<text x="88.79" y="26.09" class="s" font-size="6.0" text-anchor="middle">0.2</text>
<text x="102.43" y="26.09" class="s" font-size="6.0" text-anchor="middle">0.2</text>
<text x="116.06" y="26.09" class="s" font-size="6.0" text-anchor="middle">0.2</text>
<text x="129.70" y="26.09" class="s" font-size="6.0" text-anchor="middle">0.2</text>
<text x="143.33" y="26.09" class="s" font-size="6.0" text-anchor="middle">0.2</text>
<text x="156.97" y="26.09" class="s" font-size="6.0" text-anchor="middle">0.2</text>
<text x="170.60" y="26.09" class="s" font-size="6.0" text-anchor="middle">0.2</text>
<text x="184.24" y="26.09" class="s" font-size="6.0" text-anchor="middle">0.2</text>
<text x="197.87" y="26.09" class="s" font-size="6.0" text-anchor="middle">0.2</text>
<text x="211.51" y="26.09" class="s" font-size="6.0" text-anchor="middle">0.2</text>
<text x="225.14" y="26.09" class="s" font-size="6.0" text-anchor="middle">0.2</text>
<text x="238.78" y="26.09" class="s" font-size="6.0" text-anchor="middle">0.2</text>
<text x="252.41" y="26.09" class="s" font-size="6.0" text-anchor="middle">0.2</text>
<text x="266.05" y="26.09" class="s" font-size="6.0" text-anchor="middle">0.2</text>
<text x="279.68" y="26.09" class="s" font-size="6.0" text-anchor="middle">0.2</text>
<text x="293.32" y="26.09" class="s" font-size="6.0" text-anchor="middle">1</text>
<text x="306.95" y="26.09" class="s" font-size="6.0" text-anchor="middle">0.2</text>
<text x="320.59" y="26.09" class="s" font-size="6.0" text-anchor="middle">10</text>
<text x="334.22" y="26.09" class="s" font-size="6.0" text-anchor="middle">0</text>
<text x="20.62" y="34.86" class="s" font-size="6.0" text-anchor="middle">0.2</text>
<text x="306.95" y="34.86" class="s" font-size="6.0" text-anchor="middle">1</text>
<text x="320.59" y="34.86" class="s" font-size="6.0" text-anchor="middle">1</text>
<text x="334.22" y="34.86" class="s" font-size="6.0" text-anchor="middle">0</text>
<text x="20.62" y="43.64" class="s" font-size="6.0" text-anchor="middle">10</text>
<text x="306.95" y="43.64" class="s" font-size="6.0" text-anchor="middle">1</text>
<text x="320.59" y="43.64" class="s" font-size="6.0" text-anchor="middle">0.2</text>
<text x="334.22" y="43.64" class="s" font-size="6.0" text-anchor="middle">0</text>
<text x="20.62" y="52.41" class="s" font-size="6.0" text-anchor="middle">10</text>
<text x="306.95" y="52.41" class="s" font-size="6.0" text-anchor="middle">0.1</text>
<text x="320.59" y="52.41" class="s" font-size="6.0" text-anchor="middle">0</text>
<text x="334.22" y="52.41" class="s" font-size="6.0" text-anchor="middle">0</text>
<text x="20.62" y="61.19" class="s" font-size="6.0" text-anchor="middle">0.2</text>
<text x="306.95" y="61.19" class="s" font-size="6.0" text-anchor="middle">10</text>
<text x="320.59" y="61.19" class="s" font-size="6.0" text-anchor="middle">0.1</text>
<text x="334.22" y="61.19" class="s" font-size="6.0" text-anchor="middle">0</text>
<text x="20.62" y="69.96" class="s" font-size="6.0" text-anchor="middle">0</text>
<text x="306.95" y="69.96" class="s" font-size="6.0" text-anchor="middle">0.2</text>
<text x="320.59" y="69.96" class="s" font-size="6.0" text-anchor="middle">10</text>
<text x="334.22" y="69.96" class="s" font-size="6.0" text-anchor="middle">0</text>
<text x="20.62" y="78.74" class="s" font-size="6.0" text-anchor="middle">1</text>
<text x="306.95" y="78.74" class="s" font-size="6.0" text-anchor="middle">10</text>
<text x="320.59" y="78.74" class="s" font-size="6.0" text-anchor="middle">0.1</text>
<text x="334.22" y="78.74" class="s" font-size="6.0" text-anchor="middle">0</text>
<text x="20.62" y="87.51" class="s" font-size="6.0" text-anchor="middle">0.2</text>
<text x="306.95" y="87.51" class="s" font-size="6.0" text-anchor="middle">1</text>
<text x="320.59" y="87.51" class="s" font-size="6.0" text-anchor="middle">10</text>
<text x="334.22" y="87.51" class="s" font-size="6.0" text-anchor="middle">0</text>
<text x="20.62" y="96.29" class="s" font-size="6.0" text-anchor="middle">1</text>
<text x="306.95" y="96.29" class="s" font-size="6.0" text-anchor="middle">0.1</text>
<text x="320.59" y="96.29" class="s" font-size="6.0" text-anchor="middle">0.2</text>
<text x="334.22" y="96.29" class="s" font-size="6.0" text-anchor="middle">0</text>
<text x="20.62" y="105.06" class="s" font-size="6.0" text-anchor="middle">0.1</text>
<text x="306.95" y="105.06" class="s" font-size="6.0" text-anchor="middle">1</text>
<text x="320.59" y="105.06" class="s" font-size="6.0" text-anchor="middle">10</text>
<text x="334.22" y="105.06" class="s" font-size="6.0" text-anchor="middle">0</text>
<text x="20.62" y="113.84" class="s" font-size="6.0" text-anchor="middle">0.2</text>
<text x="306.95" y="113.84" class="s" font-size="6.0" text-anchor="middle">0.1</text>
<text x="320.59" y="113.84" class="s" font-size="6.0" text-anchor="middle">0.1</text>
<text x="334.22" y="113.84" class="s" font-size="6.0" text-anchor="middle">0</text>
<text x="20.62" y="122.61" class="s" font-size="6.0" text-anchor="middle">0.1</text>
<text x="306.95" y="122.61" class="s" font-size="6.0" text-anchor="middle">0.2</text>
<text x="320.59" y="122.61" class="s" font-size="6.0" text-anchor="middle">0.2</text>
<text x="334.22" y="122.61" class="s" font-size="6.0" text-anchor="middle">0</text>
<text x="20.62" y="131.39" class="s" font-size="6.0" text-anchor="middle">10</text>
<text x="306.95" y="131.39" class="s" font-size="6.0" text-anchor="middle">1</text>
<text x="320.59" y="131.39" class="s" font-size="6.0" text-anchor="middle">0.1</text>
<text x="334.22" y="131.39" class="s" font-size="6.0" text-anchor="middle">0</text>
<text x="20.62" y="140.16" class="s" font-size="6.0" text-anchor="middle">0.2</text>
<text x="306.95" y="140.16" class="s" font-size="6.0" text-anchor="middle">1</text>
<text x="320.59" y="140.16" class="s" font-size="6.0" text-anchor="middle">0.2</text>
<text x="334.22" y="140.16" class="s" font-size="6.0" text-anchor="middle">0</text>
<text x="20.62" y="148.94" class="s" font-size="6.0" text-anchor="middle">1</text>
<text x="306.95" y="148.94" class="s" font-size="6.0" text-anchor="middle">10</text>
<text x="320.59" y="148.94" class="s" font-size="6.0" text-anchor="middle">10</text>
<text x="334.22" y="148.94" class="s" font-size="6.0" text-anchor="middle">0</text>
<text x="20.62" y="157.71" class="s" font-size="6.0" text-anchor="middle">0.1</text>
<text x="34.25" y="157.71" class="s" font-size="6.0" text-anchor="middle">0.1</text>
<text x="47.89" y="157.71" class="s" font-size="6.0" text-anchor="middle">0</text>
<text x="61.52" y="157.71" class="s" font-size="6.0" text-anchor="middle">0.2</text>
<text x="75.16" y="157.71" class="s" font-size="6.0" text-anchor="middle">0.2</text>
<text x="88.79" y="157.71" class="s" font-size="6.0" text-anchor="middle">0.2</text>
<text x="102.43" y="157.71" class="s" font-size="6.0" text-anchor="middle">0.2</text>
<text x="116.06" y="157.71" class="s" font-size="6.0" text-anchor="middle">0.2</text>
<text x="129.70" y="157.71" class="s" font-size="6.0" text-anchor="middle">0.2</text>
<text x="143.33" y="157.71" class="s" font-size="6.0" text-anchor="middle">0.2</text>
<text x="156.97" y="157.71" class="s" font-size="6.0" text-anchor="middle">0.2</text>
<text x="170.60" y="157.71" class="s" font-size="6.0" text-anchor="middle">0.2</text>
<text x="184.24" y="157.71" class="s" font-size="6.0" text-anchor="middle">0.2</text>
<text x="197.87" y="157.71" class="s" font-size="6.0" text-anchor="middle">0.2</text>
<text x="211.51" y="157.71" class="s" font-size="6.0" text-anchor="middle">0.2</text>
<text x="225.14" y="157.71" class="s" font-size="6.0" text-anchor="middle">0.2</text>
<text x="238.78" y="157.71" class="s" font-size="6.0" text-anchor="middle">0.2</text>
<text x="252.41" y="157.71" class="s" font-size="6.0" text-anchor="middle">0.2</text>
<text x="266.05" y="157.71" class="s" font-size="6.0" text-anchor="middle">0.2</text>
<text x="279.68" y="157.71" class="s" font-size="6.0" text-anchor="middle">0.2</text>
<text x="293.32" y="157.71" class="s" font-size="6.0" text-anchor="middle">0.2</text>
<text x="306.95" y="157.71" class="s" font-size="6.0" text-anchor="middle">0</text>
<text x="320.59" y="157.71" class="s" font-size="6.0" text-anchor="middle">0.1</text>
<text x="334.22" y="157.71" class="s" font-size="6.0" text-anchor="middle">0</text>
<text x="61.52" y="34.86" class="s" font-size="6.0" text-anchor="middle">Selumetinib</text>
<text x="61.52" y="43.64" class="s" font-size="6.0" text-anchor="middle">PD184352</text>
<text x="61.52" y="52.41" class="s" font-size="6.0" text-anchor="middle">Gefitinib</text>
<text x="61.52" y="61.19" class="s" font-size="6.0" text-anchor="middle">PD98059</text>
<text x="61.52" y="69.96" class="s" font-size="6.0" text-anchor="middle">Vemurafenib</text>
<text x="61.52" y="78.74" class="s" font-size="6.0" text-anchor="middle">Pimasertib</text>
<text x="61.52" y="87.51" class="s" font-size="6.0" text-anchor="middle">BIX 02188</text>
<text x="61.52" y="96.29" class="s" font-size="6.0" text-anchor="middle">BIX 02189</text>
<text x="61.52" y="105.06" class="s" font-size="6.0" text-anchor="middle">PD318088</text>
<text x="61.52" y="113.84" class="s" font-size="6.0" text-anchor="middle">SB590885</text>
<text x="61.52" y="122.61" class="s" font-size="6.0" text-anchor="middle">TAK-733</text>
<text x="61.52" y="131.39" class="s" font-size="6.0" text-anchor="middle">Trametinib</text>
<text x="61.52" y="140.16" class="s" font-size="6.0" text-anchor="middle">ZM 336372</text>
<text x="61.52" y="148.94" class="s" font-size="6.0" text-anchor="middle">AZ 628</text>
<text x="129.70" y="34.86" class="s" font-size="6.0" text-anchor="middle">Dabrafenib</text>
<text x="129.70" y="43.64" class="s" font-size="6.0" text-anchor="middle">GW5074</text>
<text x="129.70" y="52.41" class="s" font-size="6.0" text-anchor="middle">MLN2480</text>
<text x="129.70" y="61.19" class="s" font-size="6.0" text-anchor="middle">TAK-632</text>
<text x="129.70" y="69.96" class="s" font-size="6.0" text-anchor="middle">Voxtalisib</text>
<text x="129.70" y="78.74" class="s" font-size="6.0" text-anchor="middle">AZD8330</text>
<text x="129.70" y="87.51" class="s" font-size="6.0" text-anchor="middle">Binimetinib</text>
<text x="129.70" y="96.29" class="s" font-size="6.0" text-anchor="middle">Sorafenib</text>
<text x="129.70" y="105.06" class="s" font-size="6.0" text-anchor="middle">PLX7904</text>
<text x="129.70" y="113.84" class="s" font-size="6.0" text-anchor="middle">Cobimetinib</text>
<text x="129.70" y="122.61" class="s" font-size="6.0" text-anchor="middle">Palbociclib</text>
<text x="129.70" y="131.39" class="s" font-size="6.0" text-anchor="middle">Abemaciclib</text>
<text x="129.70" y="140.16" class="s" font-size="6.0" text-anchor="middle">Tacrolimus</text>
<text x="129.70" y="148.94" class="s" font-size="6.0" text-anchor="middle">Erlotinib</text>
<text x="197.87" y="34.86" class="s" font-size="6.0" text-anchor="middle">Nocodazole</text>
<text x="197.87" y="43.64" class="s" font-size="6.0" text-anchor="middle">Mitomycin C</text>
<text x="197.87" y="52.41" class="s" font-size="6.0" text-anchor="middle">Docetaxel</text>
<text x="197.87" y="61.19" class="s" font-size="6.0" text-anchor="middle">Cytarabine</text>
<text x="197.87" y="69.96" class="s" font-size="6.0" text-anchor="middle">Vinblastine</text>
<text x="197.87" y="78.74" class="s" font-size="6.0" text-anchor="middle">Cisplatin</text>
<text x="197.87" y="87.51" class="s" font-size="6.0" text-anchor="middle">Altretamine</text>
<text x="197.87" y="96.29" class="s" font-size="6.0" text-anchor="middle">Parthenolide</text>
<text x="197.87" y="105.06" class="s" font-size="6.0" text-anchor="middle">Anastrozole</text>
<text x="197.87" y="113.84" class="s" font-size="6.0" text-anchor="middle">Etoposide</text>
<text x="197.87" y="122.61" class="s" font-size="6.0" text-anchor="middle">Paclitaxel</text>
<text x="197.87" y="131.39" class="s" font-size="6.0" text-anchor="middle">Sirolimus</text>
<text x="197.87" y="140.16" class="s" font-size="6.0" text-anchor="middle">Simvastatin</text>
<text x="197.87" y="148.94" class="s" font-size="6.0" text-anchor="middle">Eloxatin</text>
<text x="266.05" y="34.86" class="s" font-size="6.0" text-anchor="middle">Andrographolide</text>
<text x="266.05" y="43.64" class="s" font-size="6.0" text-anchor="middle">Camptothecin</text>
<text x="266.05" y="52.41" class="s" font-size="6.0" text-anchor="middle">Epirubicin</text>
<text x="266.05" y="61.19" class="s" font-size="6.0" text-anchor="middle">Acadesin</text>
<text x="266.05" y="69.96" class="s" font-size="6.0" text-anchor="middle">Phenformin</text>
<text x="266.05" y="78.74" class="s" font-size="6.0" text-anchor="middle">Curcumin</text>
<text x="266.05" y="87.51" class="s" font-size="6.0" text-anchor="middle">Chlorambucil</text>
<text x="266.05" y="96.29" class="s" font-size="6.0" text-anchor="middle">Colchicine</text>
<text x="266.05" y="105.06" class="s" font-size="6.0" text-anchor="middle">Noscapine</text>
<text x="266.05" y="113.84" class="s" font-size="6.0" text-anchor="middle">Fluvastatin</text>
<text x="266.05" y="122.61" class="s" font-size="6.0" text-anchor="middle">Lovastatin</text>
<text x="266.05" y="131.39" class="s" font-size="6.0" text-anchor="middle">Mevastatin</text>
<text x="266.05" y="140.16" class="s" font-size="6.0" text-anchor="middle">Triptolide</text>
<text x="266.05" y="148.94" class="s" font-size="6.0" text-anchor="middle">Metformin</text>
</g>
<g id="legends">
<text x="15.00" y="171.20" class="s" font-size="5.9" font-weight="bold" textLength="44.2" lengthAdjust="spacingAndGlyphs">positive controls</text>
<text x="15.00" y="179.80" class="s" font-size="5.9" fill="#333" textLength="72.5" lengthAdjust="spacingAndGlyphs">Doxorubicin, Staurosporin,</text>
<text x="15.00" y="188.80" class="s" font-size="5.9" fill="#333" textLength="33.5" lengthAdjust="spacingAndGlyphs">Mitomycin C</text>
<rect x="14.2" y="191.00" width="27.2" height="8.55" fill="#c9e3b5" stroke="#3a3a3a" stroke-width="0.55"/>
<text x="15.30" y="197.33" class="s" font-size="5.9" fill="#222">0.1uM</text>
<rect x="14.2" y="199.55" width="27.2" height="8.55" fill="#81bd5c" stroke="#3a3a3a" stroke-width="0.55"/>
<text x="15.30" y="205.88" class="s" font-size="5.9" fill="#222">1uM</text>
<rect x="14.2" y="208.10" width="27.2" height="8.55" fill="#589634" stroke="#3a3a3a" stroke-width="0.55"/>
<text x="15.30" y="214.43" class="s" font-size="5.9" fill="#222">10uM</text>
<text x="110.00" y="171.20" class="s" font-size="5.9" font-weight="bold" textLength="46.0" lengthAdjust="spacingAndGlyphs">negative controls</text>
<rect x="110" y="173.20" width="40.2" height="8.8" fill="#f1f1f1" stroke="#3a3a3a" stroke-width="0.55"/>
<text x="111.20" y="179.65" class="s" font-size="5.9" fill="#222">DMSO (0.2%)</text>
<rect x="110" y="182.00" width="40.2" height="8.8" fill="#ffffff" stroke="#3a3a3a" stroke-width="0.55"/>
<text x="111.20" y="188.45" class="s" font-size="5.9" fill="#222">Media</text>
<text x="178.00" y="171.20" class="s" font-size="5.9" font-weight="bold" textLength="49.7" lengthAdjust="spacingAndGlyphs">library compounds</text>
<rect x="177.6" y="173.10" width="28.3" height="8.66" fill="#fbe1d2" stroke="#3a3a3a" stroke-width="0.55"/>
<text x="178.80" y="179.48" class="s" font-size="5.9" fill="#222">0.1uM</text>
<rect x="177.6" y="181.76" width="28.3" height="8.66" fill="#f4b289" stroke="#3a3a3a" stroke-width="0.55"/>
<text x="178.80" y="188.14" class="s" font-size="5.9" fill="#222">1uM</text>
<rect x="177.6" y="190.42" width="28.3" height="8.66" fill="#f2a672" stroke="#3a3a3a" stroke-width="0.55"/>
<text x="178.80" y="196.80" class="s" font-size="5.9" fill="#222">3uM</text>
<rect x="177.6" y="199.08" width="28.3" height="8.66" fill="#ef985c" stroke="#3a3a3a" stroke-width="0.55"/>
<text x="178.80" y="205.46" class="s" font-size="5.9" fill="#222">5uM</text>
<rect x="177.6" y="207.74" width="28.3" height="8.66" fill="#c65d13" stroke="#3a3a3a" stroke-width="0.55"/>
<text x="178.80" y="214.12" class="s" font-size="5.9" fill="#222">10uM</text>
</g>
<g id="panel-b">
<text x="6.80" y="240.60" class="r" font-size="10.2" font-weight="bold" fill="#000">(b)</text>
<text x="81.30" y="238.90" class="r" font-size="8.6" text-anchor="middle" textLength="55.8" lengthAdjust="spacingAndGlyphs">Vehicle control</text>
<text x="82.40" y="302.60" class="r" font-size="8.6" text-anchor="middle" textLength="79.0" lengthAdjust="spacingAndGlyphs">Camptothecin (5 µM)</text>
<defs>
<filter id="b1" x="-30%" y="-30%" width="160%" height="160%"><feGaussianBlur stdDeviation="0.9"/></filter>
<filter id="b2" x="-30%" y="-30%" width="160%" height="160%"><feGaussianBlur stdDeviation="1.4"/></filter>
<filter id="b0" x="-30%" y="-30%" width="160%" height="160%"><feGaussianBlur stdDeviation="0.35"/></filter>
<linearGradient id="bg" x1="1" y1="0" x2="0" y2="1"><stop offset="0" stop-color="#0c0c0c"/><stop offset="0.6" stop-color="#171717"/><stop offset="1" stop-color="#242424"/></linearGradient>
<clipPath id="c1"><rect x="34.4" y="242.5" width="45.7" height="45.6"/></clipPath>
<clipPath id="c2"><rect x="83.0" y="242.5" width="45.7" height="45.6"/></clipPath>
<clipPath id="c3"><rect x="34.4" y="307.2" width="45.7" height="45.6"/></clipPath>
<clipPath id="c4"><rect x="83.0" y="307.2" width="45.7" height="45.6"/></clipPath>
</defs>
<rect x="34.4" y="242.5" width="45.7" height="45.6" fill="url(#bg)"/>
<g clip-path="url(#c1)"><g filter="url(#b1)">
<circle cx="67.0" cy="261.9" r="9.0" fill="#d8d8d8"/>
<circle cx="33.6" cy="273.6" r="9.6" fill="#b2b2b2"/>
<circle cx="49.4" cy="284.9" r="6.2" fill="#aaaaaa"/>
<circle cx="74.8" cy="281.7" r="6.6" fill="#9c9c9c"/>
</g></g>
<rect x="83.0" y="242.5" width="45.7" height="45.6" fill="#000"/>
<g clip-path="url(#c2)" filter="url(#b0)">
<circle cx="115.3" cy="261.1" r="8.8" fill="#f7200f"/>
<circle cx="81.6" cy="273.3" r="9.6" fill="#f7200f"/>
<circle cx="97.4" cy="285.2" r="6.3" fill="#1444f5"/>
<circle cx="123.4" cy="281.7" r="6.5" fill="#f2200f"/>
</g>
<rect x="34.4" y="307.2" width="45.7" height="45.6" fill="url(#bg)"/>
<g clip-path="url(#c3)"><g filter="url(#b2)">
<circle cx="43.6" cy="315.2" r="5.2" fill="#c4c4c4"/>
<circle cx="46.6" cy="318.6" r="4.6" fill="#b4b4b4"/>
<circle cx="40.2" cy="317.6" r="4.0" fill="#9a9a9a"/>
<circle cx="47.5" cy="311.8" r="3.4" fill="#8e8e8e"/>
<circle cx="44.5" cy="321.5" r="3.0" fill="#8a8a8a"/>
<circle cx="64.5" cy="310.0" r="2.9" fill="#8c8c8c"/>
<circle cx="77.6" cy="323.6" r="5.0" fill="#b8b8b8"/>
<circle cx="78.4" cy="329.4" r="4.0" fill="#a0a0a0"/>
<circle cx="75.0" cy="319.5" r="2.6" fill="#6c6c6c"/>
<circle cx="51.9" cy="339.3" r="4.2" fill="#bcbcbc"/>
<circle cx="53.0" cy="341.8" r="2.8" fill="#8c8c8c"/>
<circle cx="69" cy="336" r="2.0" fill="#363636"/>
<circle cx="58" cy="350" r="2.4" fill="#343434"/>
<circle cx="40" cy="345" r="3.0" fill="#303030"/>
</g></g>
<rect x="83.0" y="307.2" width="45.7" height="45.6" fill="#000"/>
<g clip-path="url(#c4)" filter="url(#b0)">
<path d="M86.0 312.5 L88.5 310.0 L92.7 309.2 L96.1 308.0 L99.4 308.7 L101.1 310.9 L100.7 314.2 L101.9 316.7 L101.1 320.1 L98.6 321.7 L96.1 321.4 L94.7 323.4 L91.9 324.2 L90.2 322.6 L87.7 320.9 L85.2 318.4 L84.4 315.1 Z" fill="#ffcf0a"/>
<path d="M110.8 308.4 L113.6 307.5 L117.0 308.4 L117.5 310.9 L115.3 313.4 L112.5 313.0 L110.8 310.9 Z" fill="#cdf014"/>
<path d="M126.2 316.7 L128.2 314.2 L130.3 314.2 L130.3 334.3 L126.2 333.4 L123.2 330.9 L122.0 326.8 L122.8 321.7 L124.5 319.2 Z" fill="#0c0cc8"/>
<path d="M96.9 337.6 L99.4 335.5 L102.8 335.1 L106.1 336.8 L107.4 340.1 L105.8 342.6 L102.8 343.8 L99.4 343.1 L96.9 341.0 Z" fill="#ff8c0a"/>
</g>
<text x="32.70" y="243.90" class="s" font-size="3.3" text-anchor="end" fill="#333">0</text>
<text x="32.70" y="254.20" class="s" font-size="3.3" text-anchor="end" fill="#333">250</text>
<text x="32.70" y="264.50" class="s" font-size="3.3" text-anchor="end" fill="#333">500</text>
<text x="32.70" y="274.80" class="s" font-size="3.3" text-anchor="end" fill="#333">750</text>
<text x="32.70" y="285.10" class="s" font-size="3.3" text-anchor="end" fill="#333">1000</text>
<text x="34.60" y="292.70" class="s" font-size="3.3" text-anchor="middle" fill="#333">0</text>
<text x="55.20" y="292.70" class="s" font-size="3.3" text-anchor="middle" fill="#333">500</text>
<text x="75.80" y="292.70" class="s" font-size="3.3" text-anchor="middle" fill="#333">1000</text>
<text x="83.20" y="292.70" class="s" font-size="3.3" text-anchor="middle" fill="#333">0</text>
<text x="103.80" y="292.70" class="s" font-size="3.3" text-anchor="middle" fill="#333">500</text>
<text x="124.40" y="292.70" class="s" font-size="3.3" text-anchor="middle" fill="#333">1000</text>
<text x="32.70" y="308.60" class="s" font-size="3.3" text-anchor="end" fill="#333">0</text>
<text x="32.70" y="318.90" class="s" font-size="3.3" text-anchor="end" fill="#333">250</text>
<text x="32.70" y="329.20" class="s" font-size="3.3" text-anchor="end" fill="#333">500</text>
<text x="32.70" y="339.50" class="s" font-size="3.3" text-anchor="end" fill="#333">750</text>
<text x="32.70" y="349.80" class="s" font-size="3.3" text-anchor="end" fill="#333">1000</text>
<text x="34.60" y="357.40" class="s" font-size="3.3" text-anchor="middle" fill="#333">0</text>
<text x="55.20" y="357.40" class="s" font-size="3.3" text-anchor="middle" fill="#333">500</text>
<text x="75.80" y="357.40" class="s" font-size="3.3" text-anchor="middle" fill="#333">1000</text>
<text x="83.20" y="357.40" class="s" font-size="3.3" text-anchor="middle" fill="#333">0</text>
<text x="103.80" y="357.40" class="s" font-size="3.3" text-anchor="middle" fill="#333">500</text>
<text x="124.40" y="357.40" class="s" font-size="3.3" text-anchor="middle" fill="#333">1000</text>
<defs><radialGradient id="gr" cx="0.48" cy="0.45" r="0.62"><stop offset="0" stop-color="#bcbcbc"/><stop offset="0.55" stop-color="#a9a9a9"/><stop offset="1" stop-color="#676767"/></radialGradient></defs>
<g filter="url(#b0)">
<path d="M178.9 258.9 L183.1 259.2 L192.9 260.6 L198.8 265.0 L204.7 274.5 L207.5 281.5 L203.7 292.3 L194.9 292.9 L176.8 283.6 L172.7 264.7 Z" fill="#c8621a" stroke="#7a3a10" stroke-width="0.3"/>
<path d="M179.5 259.7 L180.9 260.8 L185.9 262.0 L190.1 262.2 L192.9 261.3 L197.0 264.7 L197.7 268.2 L200.5 269.6 L202.6 272.4 L203.7 273.8 L206.6 281.2 L206.1 282.3 L204.0 284.9 L204.7 287.7 L201.9 289.8 L202.6 292.2 L195.5 292.5 L194.9 289.8 L193.6 286.3 L190.1 284.9 L188.0 282.2 L184.5 283.0 L180.3 283.7 L177.3 283.0 L173.4 265.6 L176.8 263.6 Z" fill="url(#gr)" stroke="#3c3c3c" stroke-width="0.35"/>
</g>
<text x="188.40" y="276.90" class="r" font-size="7.2" font-weight="bold" text-anchor="middle" fill="#000" textLength="14.0" lengthAdjust="spacingAndGlyphs">Area</text>
<text x="170.80" y="279.80" class="r" font-size="7.6" font-weight="bold" text-anchor="end" fill="#b5651d" textLength="23.2" lengthAdjust="spacingAndGlyphs">Convex</text>
<text x="170.80" y="288.60" class="r" font-size="7.6" font-weight="bold" text-anchor="end" fill="#b5651d" textLength="13.6" lengthAdjust="spacingAndGlyphs">Hull</text>
<text x="136.00" y="310.30" class="r" font-size="8.2" font-weight="bold" font-style="italic" textLength="39.3" lengthAdjust="spacingAndGlyphs">Solidity =</text>
<text x="203.60" y="306.20" class="r" font-size="5.4" font-weight="bold" font-style="italic" text-anchor="middle" textLength="12.6" lengthAdjust="spacingAndGlyphs">Area</text>
<path d="M179 308.3H228.8" stroke="#222" stroke-width="0.5"/>
<text x="203.80" y="315.20" class="r" font-size="5.4" font-weight="bold" font-style="italic" text-anchor="middle" textLength="48.6" lengthAdjust="spacingAndGlyphs">Convex Hull Area</text>
</g>
<g id="panel-d">
<text x="241.60" y="241.60" class="r" font-size="10.2" font-weight="bold" fill="#000">(d)</text>
<g fill="#729fee" fill-opacity="0.82" stroke="#4778dc" stroke-width="0.4" stroke-opacity="0.9"><circle cx="286.8" cy="302.7" r="1.25"/><circle cx="289.3" cy="301.2" r="1.25"/><circle cx="290.6" cy="304.7" r="1.25"/><circle cx="288.3" cy="298.1" r="1.25"/><circle cx="292.6" cy="295.6" r="1.25"/><circle cx="295.6" cy="302.2" r="1.25"/><circle cx="298.9" cy="304.7" r="1.25"/><circle cx="298.1" cy="299.1" r="1.25"/><circle cx="300.1" cy="297.1" r="1.25"/><circle cx="303.1" cy="299.1" r="1.25"/><circle cx="296.4" cy="291.4" r="1.25"/><circle cx="301.4" cy="291.4" r="1.25"/><circle cx="293.8" cy="287.6" r="1.25"/><circle cx="299.6" cy="285.1" r="1.25"/><circle cx="305.1" cy="287.6" r="1.25"/><circle cx="296.4" cy="270.6" r="1.25"/><circle cx="302.6" cy="271.3" r="1.25"/><circle cx="307.6" cy="264.6" r="1.25"/><circle cx="304.4" cy="269.6" r="1.25"/><circle cx="300.1" cy="276.3" r="1.25"/><circle cx="301.4" cy="278.8" r="1.25"/><circle cx="303.9" cy="281.4" r="1.25"/><circle cx="306.4" cy="277.6" r="1.25"/><circle cx="308.9" cy="280.1" r="1.25"/><circle cx="307.6" cy="273.8" r="1.25"/><circle cx="310.6" cy="272.6" r="1.25"/><circle cx="311.4" cy="276.3" r="1.25"/><circle cx="312.6" cy="281.4" r="1.25"/><circle cx="315.2" cy="285.1" r="1.25"/><circle cx="314.6" cy="286.6" r="1.25"/><circle cx="317.2" cy="283.1" r="1.25"/><circle cx="319.7" cy="279.6" r="1.25"/><circle cx="322.2" cy="277.6" r="1.25"/><circle cx="299.1" cy="280.1" r="1.25"/><circle cx="302.1" cy="282.6" r="1.25"/><circle cx="305.1" cy="283.1" r="1.25"/><circle cx="321.9" cy="271.1" r="1.25"/><circle cx="310.3" cy="273.0" r="1.25"/><circle cx="311.9" cy="275.0" r="1.25"/><circle cx="321.6" cy="269.0" r="1.25"/><circle cx="320.4" cy="269.4" r="1.25"/><circle cx="310.0" cy="269.3" r="1.25"/><circle cx="319.0" cy="258.0" r="1.25"/><circle cx="313.0" cy="278.1" r="1.25"/><circle cx="317.0" cy="274.8" r="1.25"/><circle cx="329.6" cy="262.1" r="1.25"/><circle cx="322.6" cy="261.3" r="1.25"/><circle cx="314.7" cy="277.0" r="1.25"/><circle cx="323.0" cy="261.5" r="1.25"/><circle cx="321.2" cy="263.1" r="1.25"/><circle cx="325.1" cy="262.3" r="1.25"/><circle cx="317.2" cy="260.6" r="1.25"/><circle cx="326.6" cy="258.5" r="1.25"/><circle cx="311.1" cy="269.4" r="1.25"/><circle cx="314.1" cy="272.7" r="1.25"/><circle cx="323.3" cy="265.9" r="1.25"/><circle cx="327.7" cy="257.8" r="1.25"/><circle cx="320.1" cy="263.3" r="1.25"/><circle cx="329.6" cy="264.8" r="1.25"/><circle cx="328.8" cy="267.5" r="1.25"/><circle cx="328.9" cy="269.6" r="1.25"/><circle cx="315.7" cy="266.7" r="1.25"/><circle cx="310.2" cy="275.0" r="1.25"/><circle cx="318.9" cy="277.9" r="1.25"/><circle cx="315.5" cy="273.0" r="1.25"/><circle cx="324.7" cy="271.1" r="1.25"/><circle cx="328.2" cy="259.5" r="1.25"/><circle cx="322.2" cy="276.3" r="1.25"/><circle cx="316.4" cy="273.7" r="1.25"/><circle cx="313.2" cy="268.1" r="1.25"/><circle cx="319.9" cy="274.0" r="1.25"/><circle cx="312.2" cy="264.2" r="1.25"/><circle cx="321.0" cy="260.2" r="1.25"/><circle cx="328.2" cy="267.1" r="1.25"/><circle cx="319.0" cy="267.5" r="1.25"/><circle cx="324.9" cy="265.5" r="1.25"/><circle cx="318.2" cy="272.8" r="1.25"/><circle cx="314.0" cy="277.4" r="1.25"/><circle cx="313.5" cy="274.0" r="1.25"/><circle cx="326.2" cy="260.2" r="1.25"/><circle cx="316.4" cy="269.1" r="1.25"/><circle cx="316.3" cy="281.8" r="1.25"/><circle cx="319.9" cy="266.3" r="1.25"/><circle cx="313.3" cy="272.7" r="1.25"/><circle cx="327.5" cy="261.7" r="1.25"/><circle cx="327.4" cy="258.4" r="1.25"/><circle cx="325.7" cy="269.3" r="1.25"/><circle cx="316.6" cy="269.7" r="1.25"/><circle cx="321.3" cy="258.3" r="1.25"/><circle cx="321.2" cy="268.9" r="1.25"/><circle cx="326.0" cy="262.4" r="1.25"/><circle cx="321.7" cy="266.0" r="1.25"/><circle cx="312.2" cy="275.3" r="1.25"/><circle cx="327.3" cy="266.9" r="1.25"/><circle cx="320.2" cy="268.9" r="1.25"/><circle cx="318.3" cy="272.2" r="1.25"/><circle cx="328.7" cy="263.2" r="1.25"/><circle cx="324.1" cy="265.2" r="1.25"/><circle cx="327.2" cy="269.3" r="1.25"/><circle cx="324.2" cy="261.1" r="1.25"/><circle cx="325.7" cy="258.2" r="1.25"/><circle cx="327.8" cy="256.6" r="1.25"/><circle cx="328.0" cy="260.2" r="1.25"/><circle cx="319.5" cy="275.6" r="1.25"/><circle cx="327.2" cy="258.8" r="1.25"/><circle cx="322.9" cy="266.3" r="1.25"/><circle cx="326.3" cy="258.6" r="1.25"/><circle cx="328.3" cy="261.4" r="1.25"/><circle cx="319.4" cy="269.5" r="1.25"/><circle cx="316.2" cy="269.8" r="1.25"/><circle cx="327.5" cy="257.7" r="1.25"/><circle cx="324.6" cy="268.5" r="1.25"/><circle cx="325.2" cy="257.0" r="1.25"/><circle cx="324.9" cy="269.3" r="1.25"/><circle cx="320.3" cy="277.6" r="1.25"/><circle cx="311.4" cy="268.5" r="1.25"/><circle cx="322.3" cy="263.4" r="1.25"/><circle cx="322.3" cy="266.8" r="1.25"/><circle cx="323.5" cy="265.1" r="1.25"/><circle cx="322.7" cy="259.1" r="1.25"/><circle cx="327.7" cy="265.8" r="1.25"/><circle cx="320.3" cy="261.9" r="1.25"/><circle cx="322.1" cy="260.2" r="1.25"/><circle cx="324.4" cy="271.8" r="1.25"/><circle cx="329.4" cy="263.2" r="1.25"/><circle cx="326.6" cy="271.5" r="1.25"/><circle cx="317.4" cy="275.1" r="1.25"/><circle cx="313.5" cy="275.0" r="1.25"/><circle cx="323.4" cy="267.6" r="1.25"/><circle cx="312.5" cy="274.1" r="1.25"/><circle cx="317.9" cy="280.8" r="1.25"/><circle cx="318.5" cy="275.0" r="1.25"/><circle cx="326.2" cy="272.4" r="1.25"/><circle cx="312.7" cy="269.8" r="1.25"/><circle cx="320.3" cy="269.7" r="1.25"/><circle cx="328.8" cy="266.6" r="1.25"/><circle cx="323.0" cy="270.3" r="1.25"/><circle cx="322.7" cy="263.9" r="1.25"/><circle cx="328.3" cy="263.7" r="1.25"/><circle cx="314.0" cy="274.2" r="1.25"/><circle cx="326.6" cy="261.7" r="1.25"/><circle cx="323.3" cy="273.6" r="1.25"/><circle cx="322.5" cy="273.0" r="1.25"/><circle cx="322.0" cy="265.8" r="1.25"/><circle cx="310.5" cy="275.7" r="1.25"/><circle cx="315.8" cy="279.4" r="1.25"/><circle cx="313.8" cy="278.3" r="1.25"/><circle cx="312.2" cy="264.7" r="1.25"/><circle cx="320.5" cy="272.5" r="1.25"/><circle cx="318.3" cy="272.5" r="1.25"/><circle cx="314.0" cy="275.7" r="1.25"/><circle cx="317.2" cy="271.4" r="1.25"/><circle cx="323.5" cy="267.2" r="1.25"/><circle cx="311.6" cy="276.7" r="1.25"/><circle cx="323.7" cy="261.7" r="1.25"/><circle cx="322.1" cy="268.7" r="1.25"/><circle cx="324.6" cy="258.4" r="1.25"/><circle cx="325.5" cy="258.2" r="1.25"/><circle cx="327.0" cy="266.4" r="1.25"/><circle cx="324.6" cy="262.0" r="1.25"/><circle cx="319.7" cy="267.8" r="1.25"/><circle cx="319.0" cy="277.2" r="1.25"/><circle cx="318.0" cy="271.6" r="1.25"/><circle cx="328.7" cy="265.4" r="1.25"/><circle cx="318.6" cy="270.1" r="1.25"/><circle cx="323.4" cy="268.3" r="1.25"/><circle cx="323.4" cy="278.9" r="1.25"/><circle cx="325.4" cy="263.7" r="1.25"/><circle cx="318.1" cy="270.2" r="1.25"/><circle cx="316.6" cy="265.7" r="1.25"/><circle cx="315.7" cy="272.2" r="1.25"/></g>
<path d="M287.1 294.6L328.2 263.3" stroke="#e6001e" stroke-width="1.6" stroke-linecap="round"/>
<path d="M267.5 249.70V320.7H338.00M267.5 320.70h-2M267.50 320.7v2M267.5 306.56h-2M281.54 320.7v2M267.5 292.42h-2M295.58 320.7v2M267.5 278.28h-2M309.62 320.7v2M267.5 264.14h-2M323.66 320.7v2M267.5 250.00h-2M337.70 320.7v2" stroke="#111" stroke-width="0.8" fill="none"/>
<text x="264.90" y="322.50" class="r" font-size="5.4" font-weight="bold" text-anchor="end">0.92</text>
<text x="267.50" y="329.00" class="r" font-size="5.4" font-weight="bold" text-anchor="middle">0.92</text>
<text x="264.90" y="308.36" class="r" font-size="5.4" font-weight="bold" text-anchor="end">0.94</text>
<text x="281.54" y="329.00" class="r" font-size="5.4" font-weight="bold" text-anchor="middle">0.94</text>
<text x="264.90" y="294.22" class="r" font-size="5.4" font-weight="bold" text-anchor="end">0.96</text>
<text x="295.58" y="329.00" class="r" font-size="5.4" font-weight="bold" text-anchor="middle">0.96</text>
<text x="264.90" y="280.08" class="r" font-size="5.4" font-weight="bold" text-anchor="end">0.98</text>
<text x="309.62" y="329.00" class="r" font-size="5.4" font-weight="bold" text-anchor="middle">0.98</text>
<text x="264.90" y="265.94" class="r" font-size="5.4" font-weight="bold" text-anchor="end">1.00</text>
<text x="323.66" y="329.00" class="r" font-size="5.4" font-weight="bold" text-anchor="middle">1.00</text>
<text x="264.90" y="251.80" class="r" font-size="5.4" font-weight="bold" text-anchor="end">1.02</text>
<text x="337.70" y="329.00" class="r" font-size="5.4" font-weight="bold" text-anchor="middle">1.02</text>
<text x="302.60" y="340.40" class="r" font-size="8.3" text-anchor="middle" fill="#222" textLength="65.0" lengthAdjust="spacingAndGlyphs">Day 7 live Cytation</text>
<g transform="translate(248.6 284.2) rotate(-90)">
<text x="0.00" y="0.00" class="r" font-size="8.3" text-anchor="middle" fill="#222" textLength="68.5" lengthAdjust="spacingAndGlyphs">Day 7 fixed Cytation</text>
</g>
</g>
<g id="panel-c">
<text x="6.40" y="372.80" class="r" font-size="10.2" font-weight="bold" fill="#000">(c)</text>
<text x="166.00" y="372.80" class="r" font-size="9" font-weight="bold" text-anchor="middle" fill="#000" textLength="156.0" lengthAdjust="spacingAndGlyphs">Spheroid Solidity (Z-Score to control)</text>
<rect x="11.15" y="380.30" width="97.1" height="63.2" fill="#fff" stroke="#c4c4c4" stroke-width="0.5"/>
<g stroke="#a4a4a4" stroke-width="0.44">
<g fill="#dad2f6"><circle cx="17.40" cy="384.60" r="1.45"/><circle cx="21.07" cy="384.60" r="1.45"/><circle cx="24.74" cy="384.60" r="1.45"/><circle cx="28.41" cy="384.60" r="1.45"/><circle cx="57.77" cy="391.90" r="1.45"/><circle cx="54.10" cy="395.55" r="1.45"/><circle cx="83.46" cy="399.20" r="1.45"/><circle cx="61.44" cy="413.80" r="1.45"/><circle cx="68.78" cy="417.45" r="1.45"/><circle cx="83.46" cy="435.70" r="1.45"/></g>
<g fill="#f9f7fd"><circle cx="32.08" cy="384.60" r="1.45"/><circle cx="39.42" cy="384.60" r="1.45"/><circle cx="61.44" cy="406.50" r="1.45"/><circle cx="21.07" cy="428.40" r="1.45"/><circle cx="72.45" cy="435.70" r="1.45"/></g>
<g fill="#ebe6f9"><circle cx="35.75" cy="384.60" r="1.45"/><circle cx="39.42" cy="388.25" r="1.45"/><circle cx="57.77" cy="402.85" r="1.45"/><circle cx="68.78" cy="406.50" r="1.45"/><circle cx="90.80" cy="428.40" r="1.45"/><circle cx="21.07" cy="432.05" r="1.45"/></g>
<g fill="#faeeea"><circle cx="43.09" cy="384.60" r="1.45"/><circle cx="28.41" cy="402.85" r="1.45"/><circle cx="76.12" cy="413.80" r="1.45"/><circle cx="98.14" cy="424.75" r="1.45"/><circle cx="90.80" cy="439.35" r="1.45"/></g>
<g fill="#f2eefb"><circle cx="46.76" cy="384.60" r="1.45"/><circle cx="90.80" cy="388.25" r="1.45"/><circle cx="54.10" cy="391.90" r="1.45"/><circle cx="65.11" cy="406.50" r="1.45"/><circle cx="76.12" cy="406.50" r="1.45"/><circle cx="90.80" cy="406.50" r="1.45"/><circle cx="24.74" cy="417.45" r="1.45"/><circle cx="57.77" cy="421.10" r="1.45"/><circle cx="72.45" cy="421.10" r="1.45"/><circle cx="94.47" cy="428.40" r="1.45"/></g>
<g fill="#faf1ef"><circle cx="50.43" cy="384.60" r="1.45"/><circle cx="21.07" cy="439.35" r="1.45"/></g>
<g fill="#fae9e3"><circle cx="54.10" cy="384.60" r="1.45"/></g>
<g fill="#e0d9f7"><circle cx="57.77" cy="384.60" r="1.45"/><circle cx="65.11" cy="402.85" r="1.45"/></g>
<g fill="#f5f2fc"><circle cx="61.44" cy="384.60" r="1.45"/><circle cx="65.11" cy="395.55" r="1.45"/><circle cx="101.81" cy="402.85" r="1.45"/><circle cx="21.07" cy="406.50" r="1.45"/><circle cx="87.13" cy="406.50" r="1.45"/></g>
<g fill="#eee9fa"><circle cx="65.11" cy="384.60" r="1.45"/><circle cx="32.08" cy="399.20" r="1.45"/><circle cx="17.40" cy="417.45" r="1.45"/></g>
<g fill="#fbf6f5"><circle cx="68.78" cy="384.60" r="1.45"/><circle cx="57.77" cy="395.55" r="1.45"/><circle cx="72.45" cy="399.20" r="1.45"/><circle cx="61.44" cy="402.85" r="1.45"/></g>
<g fill="#f4f0fb"><circle cx="72.45" cy="384.60" r="1.45"/><circle cx="21.07" cy="388.25" r="1.45"/><circle cx="32.08" cy="395.55" r="1.45"/><circle cx="87.13" cy="395.55" r="1.45"/><circle cx="72.45" cy="410.15" r="1.45"/><circle cx="35.75" cy="413.80" r="1.45"/><circle cx="57.77" cy="439.35" r="1.45"/></g>
<g fill="#faf2f0"><circle cx="76.12" cy="384.60" r="1.45"/><circle cx="61.44" cy="388.25" r="1.45"/><circle cx="21.07" cy="391.90" r="1.45"/><circle cx="101.81" cy="391.90" r="1.45"/><circle cx="54.10" cy="413.80" r="1.45"/></g>
<g fill="#faefeb"><circle cx="79.79" cy="384.60" r="1.45"/><circle cx="54.10" cy="406.50" r="1.45"/><circle cx="101.81" cy="406.50" r="1.45"/><circle cx="43.09" cy="421.10" r="1.45"/></g>
<g fill="#fbf6f6"><circle cx="83.46" cy="384.60" r="1.45"/><circle cx="50.43" cy="399.20" r="1.45"/><circle cx="54.10" cy="402.85" r="1.45"/></g>
<g fill="#faf8fd"><circle cx="87.13" cy="384.60" r="1.45"/><circle cx="90.80" cy="384.60" r="1.45"/><circle cx="98.14" cy="399.20" r="1.45"/></g>
<g fill="#f6f3fc"><circle cx="94.47" cy="384.60" r="1.45"/><circle cx="98.14" cy="384.60" r="1.45"/><circle cx="61.44" cy="399.20" r="1.45"/><circle cx="43.09" cy="402.85" r="1.45"/><circle cx="101.81" cy="417.45" r="1.45"/><circle cx="24.74" cy="428.40" r="1.45"/><circle cx="35.75" cy="432.05" r="1.45"/><circle cx="68.78" cy="432.05" r="1.45"/><circle cx="57.77" cy="435.70" r="1.45"/></g>
<g fill="#f0ecfa"><circle cx="101.81" cy="384.60" r="1.45"/><circle cx="90.80" cy="395.55" r="1.45"/><circle cx="50.43" cy="406.50" r="1.45"/><circle cx="79.79" cy="406.50" r="1.45"/></g>
<g fill="#f6f2fc"><circle cx="17.40" cy="388.25" r="1.45"/><circle cx="68.78" cy="435.70" r="1.45"/></g>
<g fill="#eae4f8"><circle cx="24.74" cy="388.25" r="1.45"/><circle cx="28.41" cy="388.25" r="1.45"/><circle cx="43.09" cy="388.25" r="1.45"/><circle cx="28.41" cy="399.20" r="1.45"/><circle cx="43.09" cy="399.20" r="1.45"/><circle cx="21.07" cy="402.85" r="1.45"/><circle cx="46.76" cy="421.10" r="1.45"/><circle cx="65.11" cy="421.10" r="1.45"/><circle cx="83.46" cy="421.10" r="1.45"/><circle cx="94.47" cy="421.10" r="1.45"/><circle cx="35.75" cy="424.75" r="1.45"/></g>
<g fill="#f3effb"><circle cx="32.08" cy="388.25" r="1.45"/><circle cx="17.40" cy="395.55" r="1.45"/><circle cx="32.08" cy="402.85" r="1.45"/><circle cx="39.42" cy="421.10" r="1.45"/><circle cx="61.44" cy="421.10" r="1.45"/><circle cx="43.09" cy="435.70" r="1.45"/></g>
<g fill="#faf3f1"><circle cx="35.75" cy="388.25" r="1.45"/><circle cx="61.44" cy="391.90" r="1.45"/><circle cx="79.79" cy="395.55" r="1.45"/><circle cx="79.79" cy="413.80" r="1.45"/><circle cx="61.44" cy="417.45" r="1.45"/><circle cx="98.14" cy="417.45" r="1.45"/><circle cx="57.77" cy="424.75" r="1.45"/></g>
<g fill="#faece7"><circle cx="46.76" cy="388.25" r="1.45"/><circle cx="79.79" cy="388.25" r="1.45"/><circle cx="68.78" cy="395.55" r="1.45"/><circle cx="35.75" cy="399.20" r="1.45"/><circle cx="43.09" cy="413.80" r="1.45"/><circle cx="98.14" cy="413.80" r="1.45"/></g>
<g fill="#e7e0f8"><circle cx="50.43" cy="388.25" r="1.45"/></g>
<g fill="#faf1ee"><circle cx="54.10" cy="388.25" r="1.45"/><circle cx="39.42" cy="435.70" r="1.45"/></g>
<g fill="#f1edfa"><circle cx="57.77" cy="388.25" r="1.45"/><circle cx="39.42" cy="406.50" r="1.45"/><circle cx="17.40" cy="410.15" r="1.45"/><circle cx="79.79" cy="421.10" r="1.45"/><circle cx="90.80" cy="421.10" r="1.45"/><circle cx="43.09" cy="424.75" r="1.45"/><circle cx="87.13" cy="424.75" r="1.45"/></g>
<g fill="#fbf5f4"><circle cx="65.11" cy="388.25" r="1.45"/><circle cx="94.47" cy="388.25" r="1.45"/><circle cx="43.09" cy="395.55" r="1.45"/><circle cx="94.47" cy="399.20" r="1.45"/><circle cx="94.47" cy="406.50" r="1.45"/><circle cx="83.46" cy="417.45" r="1.45"/><circle cx="46.76" cy="428.40" r="1.45"/><circle cx="101.81" cy="432.05" r="1.45"/><circle cx="90.80" cy="435.70" r="1.45"/></g>
<g fill="#e4ddf7"><circle cx="68.78" cy="388.25" r="1.45"/><circle cx="28.41" cy="406.50" r="1.45"/><circle cx="28.41" cy="410.15" r="1.45"/></g>
<g fill="#ebe5f9"><circle cx="72.45" cy="388.25" r="1.45"/><circle cx="94.47" cy="402.85" r="1.45"/><circle cx="83.46" cy="413.80" r="1.45"/><circle cx="46.76" cy="439.35" r="1.45"/></g>
<g fill="#faeae5"><circle cx="76.12" cy="388.25" r="1.45"/><circle cx="98.14" cy="391.90" r="1.45"/><circle cx="72.45" cy="413.80" r="1.45"/><circle cx="43.09" cy="417.45" r="1.45"/></g>
<g fill="#faefec"><circle cx="83.46" cy="388.25" r="1.45"/><circle cx="101.81" cy="399.20" r="1.45"/><circle cx="46.76" cy="402.85" r="1.45"/><circle cx="32.08" cy="413.80" r="1.45"/><circle cx="17.40" cy="435.70" r="1.45"/></g>
<g fill="#faf2ef"><circle cx="87.13" cy="388.25" r="1.45"/><circle cx="28.41" cy="395.55" r="1.45"/></g>
<g fill="#faf0ec"><circle cx="98.14" cy="388.25" r="1.45"/><circle cx="54.10" cy="424.75" r="1.45"/></g>
<g fill="#efeafa"><circle cx="101.81" cy="388.25" r="1.45"/><circle cx="46.76" cy="395.55" r="1.45"/><circle cx="98.14" cy="402.85" r="1.45"/><circle cx="39.42" cy="424.75" r="1.45"/><circle cx="79.79" cy="424.75" r="1.45"/><circle cx="87.13" cy="432.05" r="1.45"/><circle cx="32.08" cy="435.70" r="1.45"/><circle cx="98.14" cy="439.35" r="1.45"/></g>
<g fill="#f9e6df"><circle cx="17.40" cy="391.90" r="1.45"/><circle cx="94.47" cy="432.05" r="1.45"/></g>
<g fill="#e8e2f8"><circle cx="24.74" cy="391.90" r="1.45"/><circle cx="24.74" cy="402.85" r="1.45"/><circle cx="65.11" cy="413.80" r="1.45"/><circle cx="28.41" cy="417.45" r="1.45"/><circle cx="50.43" cy="439.35" r="1.45"/></g>
<g fill="#f4f1fb"><circle cx="28.41" cy="391.90" r="1.45"/><circle cx="79.79" cy="391.90" r="1.45"/><circle cx="94.47" cy="395.55" r="1.45"/><circle cx="68.78" cy="399.20" r="1.45"/><circle cx="17.40" cy="402.85" r="1.45"/><circle cx="57.77" cy="406.50" r="1.45"/><circle cx="24.74" cy="413.80" r="1.45"/><circle cx="65.11" cy="417.45" r="1.45"/><circle cx="61.44" cy="424.75" r="1.45"/><circle cx="28.41" cy="432.05" r="1.45"/><circle cx="76.12" cy="435.70" r="1.45"/><circle cx="35.75" cy="439.35" r="1.45"/></g>
<g fill="#faede8"><circle cx="32.08" cy="391.90" r="1.45"/></g>
<g fill="#faece8"><circle cx="35.75" cy="391.90" r="1.45"/><circle cx="57.77" cy="399.20" r="1.45"/></g>
<g fill="#f8f5fc"><circle cx="39.42" cy="391.90" r="1.45"/><circle cx="28.41" cy="421.10" r="1.45"/><circle cx="32.08" cy="421.10" r="1.45"/></g>
<g fill="#ece6f9"><circle cx="43.09" cy="391.90" r="1.45"/><circle cx="46.76" cy="410.15" r="1.45"/><circle cx="101.81" cy="410.15" r="1.45"/><circle cx="94.47" cy="435.70" r="1.45"/></g>
<g fill="#f3f0fb"><circle cx="46.76" cy="391.90" r="1.45"/><circle cx="101.81" cy="395.55" r="1.45"/><circle cx="39.42" cy="399.20" r="1.45"/><circle cx="79.79" cy="402.85" r="1.45"/><circle cx="21.07" cy="410.15" r="1.45"/><circle cx="54.10" cy="421.10" r="1.45"/><circle cx="87.13" cy="421.10" r="1.45"/><circle cx="35.75" cy="428.40" r="1.45"/><circle cx="98.14" cy="432.05" r="1.45"/></g>
<g fill="#fbf4f2"><circle cx="50.43" cy="391.90" r="1.45"/><circle cx="35.75" cy="410.15" r="1.45"/></g>
<g fill="#f5f1fb"><circle cx="65.11" cy="391.90" r="1.45"/><circle cx="54.10" cy="428.40" r="1.45"/><circle cx="28.41" cy="439.35" r="1.45"/><circle cx="43.09" cy="439.35" r="1.45"/></g>
<g fill="#f9e7df"><circle cx="68.78" cy="391.90" r="1.45"/><circle cx="83.46" cy="391.90" r="1.45"/><circle cx="21.07" cy="421.10" r="1.45"/></g>
<g fill="#eee9f9"><circle cx="72.45" cy="391.90" r="1.45"/><circle cx="50.43" cy="395.55" r="1.45"/><circle cx="46.76" cy="399.20" r="1.45"/></g>
<g fill="#c9bef4"><circle cx="76.12" cy="391.90" r="1.45"/><circle cx="90.80" cy="399.20" r="1.45"/><circle cx="83.46" cy="402.85" r="1.45"/><circle cx="76.12" cy="424.75" r="1.45"/><circle cx="76.12" cy="428.40" r="1.45"/><circle cx="79.79" cy="428.40" r="1.45"/><circle cx="83.46" cy="428.40" r="1.45"/><circle cx="87.13" cy="428.40" r="1.45"/><circle cx="57.77" cy="432.05" r="1.45"/><circle cx="65.11" cy="432.05" r="1.45"/><circle cx="76.12" cy="432.05" r="1.45"/><circle cx="79.79" cy="432.05" r="1.45"/><circle cx="83.46" cy="432.05" r="1.45"/><circle cx="65.11" cy="435.70" r="1.45"/></g>
<g fill="#faebe5"><circle cx="87.13" cy="391.90" r="1.45"/></g>
<g fill="#fae9e2"><circle cx="90.80" cy="391.90" r="1.45"/></g>
<g fill="#e7e1f8"><circle cx="94.47" cy="391.90" r="1.45"/><circle cx="21.07" cy="395.55" r="1.45"/><circle cx="87.13" cy="439.35" r="1.45"/></g>
<g fill="#e5def7"><circle cx="24.74" cy="395.55" r="1.45"/><circle cx="17.40" cy="406.50" r="1.45"/><circle cx="72.45" cy="406.50" r="1.45"/><circle cx="83.46" cy="410.15" r="1.45"/><circle cx="90.80" cy="432.05" r="1.45"/></g>
<g fill="#faf0ed"><circle cx="35.75" cy="395.55" r="1.45"/><circle cx="17.40" cy="424.75" r="1.45"/><circle cx="61.44" cy="439.35" r="1.45"/></g>
<g fill="#e3dcf7"><circle cx="39.42" cy="395.55" r="1.45"/><circle cx="46.76" cy="413.80" r="1.45"/><circle cx="39.42" cy="417.45" r="1.45"/><circle cx="54.10" cy="417.45" r="1.45"/><circle cx="94.47" cy="417.45" r="1.45"/></g>
<g fill="#f9e7e0"><circle cx="61.44" cy="395.55" r="1.45"/><circle cx="76.12" cy="421.10" r="1.45"/><circle cx="24.74" cy="424.75" r="1.45"/><circle cx="65.11" cy="424.75" r="1.45"/><circle cx="90.80" cy="424.75" r="1.45"/><circle cx="57.77" cy="428.40" r="1.45"/></g>
<g fill="#fbf8f8"><circle cx="72.45" cy="395.55" r="1.45"/><circle cx="57.77" cy="410.15" r="1.45"/><circle cx="32.08" cy="439.35" r="1.45"/></g>
<g fill="#beb2f3"><circle cx="76.12" cy="395.55" r="1.45"/><circle cx="94.47" cy="413.80" r="1.45"/><circle cx="61.44" cy="428.40" r="1.45"/><circle cx="98.14" cy="428.40" r="1.45"/><circle cx="101.81" cy="428.40" r="1.45"/></g>
<g fill="#faede9"><circle cx="83.46" cy="395.55" r="1.45"/><circle cx="72.45" cy="439.35" r="1.45"/></g>
<g fill="#fbf9fa"><circle cx="98.14" cy="395.55" r="1.45"/><circle cx="76.12" cy="399.20" r="1.45"/><circle cx="57.77" cy="417.45" r="1.45"/><circle cx="79.79" cy="417.45" r="1.45"/><circle cx="32.08" cy="432.05" r="1.45"/></g>
<g fill="#fbf7f7"><circle cx="17.40" cy="399.20" r="1.45"/><circle cx="72.45" cy="402.85" r="1.45"/><circle cx="43.09" cy="406.50" r="1.45"/><circle cx="32.08" cy="410.15" r="1.45"/><circle cx="98.14" cy="410.15" r="1.45"/><circle cx="24.74" cy="421.10" r="1.45"/></g>
<g fill="#ede8f9"><circle cx="21.07" cy="399.20" r="1.45"/><circle cx="68.78" cy="402.85" r="1.45"/><circle cx="65.11" cy="410.15" r="1.45"/><circle cx="32.08" cy="424.75" r="1.45"/><circle cx="72.45" cy="424.75" r="1.45"/><circle cx="28.41" cy="428.40" r="1.45"/><circle cx="72.45" cy="432.05" r="1.45"/><circle cx="39.42" cy="439.35" r="1.45"/><circle cx="76.12" cy="439.35" r="1.45"/><circle cx="79.79" cy="439.35" r="1.45"/><circle cx="94.47" cy="439.35" r="1.45"/></g>
<g fill="#a89cf1"><circle cx="24.74" cy="399.20" r="1.45"/><circle cx="57.77" cy="413.80" r="1.45"/></g>
<g fill="#faeae4"><circle cx="54.10" cy="399.20" r="1.45"/><circle cx="43.09" cy="428.40" r="1.45"/><circle cx="83.46" cy="439.35" r="1.45"/></g>
<g fill="#ece7f9"><circle cx="65.11" cy="399.20" r="1.45"/><circle cx="50.43" cy="402.85" r="1.45"/><circle cx="35.75" cy="406.50" r="1.45"/><circle cx="61.44" cy="410.15" r="1.45"/><circle cx="79.79" cy="410.15" r="1.45"/><circle cx="87.13" cy="410.15" r="1.45"/><circle cx="94.47" cy="410.15" r="1.45"/><circle cx="90.80" cy="417.45" r="1.45"/><circle cx="68.78" cy="421.10" r="1.45"/><circle cx="68.78" cy="424.75" r="1.45"/></g>
<g fill="#faf3f2"><circle cx="79.79" cy="399.20" r="1.45"/><circle cx="39.42" cy="402.85" r="1.45"/><circle cx="50.43" cy="421.10" r="1.45"/></g>
<g fill="#efebfa"><circle cx="87.13" cy="399.20" r="1.45"/></g>
<g fill="#f5f2fb"><circle cx="35.75" cy="402.85" r="1.45"/><circle cx="90.80" cy="413.80" r="1.45"/><circle cx="46.76" cy="432.05" r="1.45"/></g>
<g fill="#fbf4f3"><circle cx="76.12" cy="402.85" r="1.45"/><circle cx="32.08" cy="417.45" r="1.45"/><circle cx="72.45" cy="428.40" r="1.45"/><circle cx="46.76" cy="435.70" r="1.45"/></g>
<g fill="#e6dff8"><circle cx="87.13" cy="402.85" r="1.45"/><circle cx="21.07" cy="417.45" r="1.45"/><circle cx="50.43" cy="432.05" r="1.45"/></g>
<g fill="#fbf5f5"><circle cx="90.80" cy="402.85" r="1.45"/><circle cx="87.13" cy="417.45" r="1.45"/><circle cx="39.42" cy="428.40" r="1.45"/><circle cx="24.74" cy="432.05" r="1.45"/></g>
<g fill="#faeeeb"><circle cx="24.74" cy="406.50" r="1.45"/><circle cx="28.41" cy="413.80" r="1.45"/><circle cx="94.47" cy="424.75" r="1.45"/></g>
<g fill="#faf0ee"><circle cx="32.08" cy="406.50" r="1.45"/></g>
<g fill="#e2daf7"><circle cx="46.76" cy="406.50" r="1.45"/><circle cx="50.43" cy="410.15" r="1.45"/></g>
<g fill="#f9e8e1"><circle cx="83.46" cy="406.50" r="1.45"/><circle cx="54.10" cy="432.05" r="1.45"/><circle cx="87.13" cy="435.70" r="1.45"/></g>
<g fill="#e9e3f8"><circle cx="98.14" cy="406.50" r="1.45"/><circle cx="28.41" cy="424.75" r="1.45"/></g>
<g fill="#e1daf7"><circle cx="24.74" cy="410.15" r="1.45"/><circle cx="17.40" cy="413.80" r="1.45"/><circle cx="98.14" cy="421.10" r="1.45"/><circle cx="83.46" cy="424.75" r="1.45"/><circle cx="24.74" cy="435.70" r="1.45"/><circle cx="101.81" cy="435.70" r="1.45"/><circle cx="101.81" cy="439.35" r="1.45"/></g>
<g fill="#fbf8f9"><circle cx="39.42" cy="410.15" r="1.45"/><circle cx="32.08" cy="428.40" r="1.45"/></g>
<g fill="#f0ebfa"><circle cx="43.09" cy="410.15" r="1.45"/><circle cx="24.74" cy="439.35" r="1.45"/></g>
<g fill="#faeee9"><circle cx="54.10" cy="410.15" r="1.45"/></g>
<g fill="#f7f4fc"><circle cx="68.78" cy="410.15" r="1.45"/><circle cx="79.79" cy="435.70" r="1.45"/><circle cx="65.11" cy="439.35" r="1.45"/><circle cx="68.78" cy="439.35" r="1.45"/></g>
<g fill="#f9e8e2"><circle cx="76.12" cy="410.15" r="1.45"/></g>
<g fill="#e0d8f7"><circle cx="90.80" cy="410.15" r="1.45"/><circle cx="50.43" cy="413.80" r="1.45"/><circle cx="35.75" cy="421.10" r="1.45"/><circle cx="46.76" cy="424.75" r="1.45"/></g>
<g fill="#eae5f8"><circle cx="21.07" cy="413.80" r="1.45"/><circle cx="50.43" cy="417.45" r="1.45"/><circle cx="17.40" cy="428.40" r="1.45"/><circle cx="39.42" cy="432.05" r="1.45"/></g>
<g fill="#f6f4fc"><circle cx="39.42" cy="413.80" r="1.45"/></g>
<g fill="#faf7fd"><circle cx="68.78" cy="413.80" r="1.45"/></g>
<g fill="#f7f5fc"><circle cx="87.13" cy="413.80" r="1.45"/><circle cx="54.10" cy="439.35" r="1.45"/></g>
<g fill="#ede7f9"><circle cx="101.81" cy="413.80" r="1.45"/><circle cx="43.09" cy="432.05" r="1.45"/></g>
<g fill="#f9e6de"><circle cx="35.75" cy="417.45" r="1.45"/></g>
<g fill="#fbf5f3"><circle cx="46.76" cy="417.45" r="1.45"/></g>
<g fill="#e2dbf7"><circle cx="72.45" cy="417.45" r="1.45"/><circle cx="17.40" cy="421.10" r="1.45"/><circle cx="17.40" cy="432.05" r="1.45"/><circle cx="21.07" cy="435.70" r="1.45"/></g>
<g fill="#fbf7f8"><circle cx="76.12" cy="417.45" r="1.45"/></g>
<g fill="#f8f6fc"><circle cx="101.81" cy="421.10" r="1.45"/><circle cx="65.11" cy="428.40" r="1.45"/><circle cx="35.75" cy="435.70" r="1.45"/></g>
<g fill="#eeeafa"><circle cx="21.07" cy="424.75" r="1.45"/><circle cx="61.44" cy="432.05" r="1.45"/><circle cx="50.43" cy="435.70" r="1.45"/></g>
<g fill="#f1ecfa"><circle cx="50.43" cy="424.75" r="1.45"/></g>
<g fill="#e1d9f7"><circle cx="101.81" cy="424.75" r="1.45"/><circle cx="50.43" cy="428.40" r="1.45"/></g>
<g fill="#e6e0f8"><circle cx="68.78" cy="428.40" r="1.45"/></g>
<g fill="#faebe6"><circle cx="28.41" cy="435.70" r="1.45"/><circle cx="17.40" cy="439.35" r="1.45"/></g>
<g fill="#e5dff7"><circle cx="54.10" cy="435.70" r="1.45"/></g>
<g fill="#e9e4f8"><circle cx="61.44" cy="435.70" r="1.45"/></g>
<g fill="#e8e1f8"><circle cx="98.14" cy="435.70" r="1.45"/></g>
</g>
<text x="17.40" y="379.40" class="s" font-size="2.6" text-anchor="middle" fill="#585858">1</text>
<text x="21.07" y="379.40" class="s" font-size="2.6" text-anchor="middle" fill="#585858">2</text>
<text x="24.74" y="379.40" class="s" font-size="2.6" text-anchor="middle" fill="#585858">3</text>
<text x="28.41" y="379.40" class="s" font-size="2.6" text-anchor="middle" fill="#585858">4</text>
<text x="32.08" y="379.40" class="s" font-size="2.6" text-anchor="middle" fill="#585858">5</text>
<text x="35.75" y="379.40" class="s" font-size="2.6" text-anchor="middle" fill="#585858">6</text>
<text x="39.42" y="379.40" class="s" font-size="2.6" text-anchor="middle" fill="#585858">7</text>
<text x="43.09" y="379.40" class="s" font-size="2.6" text-anchor="middle" fill="#585858">8</text>
<text x="46.76" y="379.40" class="s" font-size="2.6" text-anchor="middle" fill="#585858">9</text>
<text x="50.43" y="379.40" class="s" font-size="2.6" text-anchor="middle" fill="#585858">10</text>
<text x="54.10" y="379.40" class="s" font-size="2.6" text-anchor="middle" fill="#585858">11</text>
<text x="57.77" y="379.40" class="s" font-size="2.6" text-anchor="middle" fill="#585858">12</text>
<text x="61.44" y="379.40" class="s" font-size="2.6" text-anchor="middle" fill="#585858">13</text>
<text x="65.11" y="379.40" class="s" font-size="2.6" text-anchor="middle" fill="#585858">14</text>
<text x="68.78" y="379.40" class="s" font-size="2.6" text-anchor="middle" fill="#585858">15</text>
<text x="72.45" y="379.40" class="s" font-size="2.6" text-anchor="middle" fill="#585858">16</text>
<text x="76.12" y="379.40" class="s" font-size="2.6" text-anchor="middle" fill="#585858">17</text>
<text x="79.79" y="379.40" class="s" font-size="2.6" text-anchor="middle" fill="#585858">18</text>
<text x="83.46" y="379.40" class="s" font-size="2.6" text-anchor="middle" fill="#585858">19</text>
<text x="87.13" y="379.40" class="s" font-size="2.6" text-anchor="middle" fill="#585858">20</text>
<text x="90.80" y="379.40" class="s" font-size="2.6" text-anchor="middle" fill="#585858">21</text>
<text x="94.47" y="379.40" class="s" font-size="2.6" text-anchor="middle" fill="#585858">22</text>
<text x="98.14" y="379.40" class="s" font-size="2.6" text-anchor="middle" fill="#585858">23</text>
<text x="101.81" y="379.40" class="s" font-size="2.6" text-anchor="middle" fill="#585858">24</text>
<text x="10.35" y="385.55" class="s" font-size="2.5" text-anchor="end" fill="#666">A</text>
<text x="10.35" y="389.20" class="s" font-size="2.5" text-anchor="end" fill="#666">B</text>
<text x="10.35" y="392.85" class="s" font-size="2.5" text-anchor="end" fill="#666">C</text>
<text x="10.35" y="396.50" class="s" font-size="2.5" text-anchor="end" fill="#666">D</text>
<text x="10.35" y="400.15" class="s" font-size="2.5" text-anchor="end" fill="#666">E</text>
<text x="10.35" y="403.80" class="s" font-size="2.5" text-anchor="end" fill="#666">F</text>
<text x="10.35" y="407.45" class="s" font-size="2.5" text-anchor="end" fill="#666">G</text>
<text x="10.35" y="411.10" class="s" font-size="2.5" text-anchor="end" fill="#666">H</text>
<text x="10.35" y="414.75" class="s" font-size="2.5" text-anchor="end" fill="#666">I</text>
<text x="10.35" y="418.40" class="s" font-size="2.5" text-anchor="end" fill="#666">J</text>
<text x="10.35" y="422.05" class="s" font-size="2.5" text-anchor="end" fill="#666">K</text>
<text x="10.35" y="425.70" class="s" font-size="2.5" text-anchor="end" fill="#666">L</text>
<text x="10.35" y="429.35" class="s" font-size="2.5" text-anchor="end" fill="#666">M</text>
<text x="10.35" y="433.00" class="s" font-size="2.5" text-anchor="end" fill="#666">N</text>
<text x="10.35" y="436.65" class="s" font-size="2.5" text-anchor="end" fill="#666">O</text>
<text x="10.35" y="440.30" class="s" font-size="2.5" text-anchor="end" fill="#666">P</text>
<text x="58.70" y="451.90" class="r" font-size="9.7" text-anchor="middle" textLength="23.9" lengthAdjust="spacingAndGlyphs">Day 3</text>
<rect x="113.50" y="380.30" width="97.1" height="63.2" fill="#fff" stroke="#c4c4c4" stroke-width="0.5"/>
<g stroke="#a4a4a4" stroke-width="0.44">
<g fill="#faf8fd"><circle cx="119.60" cy="384.60" r="1.45"/><circle cx="189.33" cy="388.25" r="1.45"/><circle cx="163.64" cy="391.90" r="1.45"/><circle cx="156.30" cy="406.50" r="1.45"/><circle cx="181.99" cy="413.80" r="1.45"/></g>
<g fill="#dad2f6"><circle cx="123.27" cy="384.60" r="1.45"/><circle cx="126.94" cy="384.60" r="1.45"/><circle cx="130.61" cy="384.60" r="1.45"/><circle cx="137.95" cy="384.60" r="1.45"/><circle cx="178.32" cy="391.90" r="1.45"/><circle cx="152.63" cy="395.55" r="1.45"/><circle cx="170.98" cy="395.55" r="1.45"/><circle cx="145.29" cy="399.20" r="1.45"/><circle cx="185.66" cy="399.20" r="1.45"/><circle cx="130.61" cy="406.50" r="1.45"/><circle cx="189.33" cy="406.50" r="1.45"/><circle cx="189.33" cy="410.15" r="1.45"/><circle cx="119.60" cy="417.45" r="1.45"/><circle cx="141.62" cy="417.45" r="1.45"/><circle cx="123.27" cy="421.10" r="1.45"/><circle cx="200.34" cy="421.10" r="1.45"/><circle cx="174.65" cy="424.75" r="1.45"/><circle cx="196.67" cy="428.40" r="1.45"/><circle cx="126.94" cy="432.05" r="1.45"/><circle cx="130.61" cy="432.05" r="1.45"/><circle cx="189.33" cy="435.70" r="1.45"/></g>
<g fill="#e3dcf7"><circle cx="134.28" cy="384.60" r="1.45"/><circle cx="200.34" cy="406.50" r="1.45"/><circle cx="152.63" cy="424.75" r="1.45"/><circle cx="156.30" cy="424.75" r="1.45"/><circle cx="193.00" cy="432.05" r="1.45"/><circle cx="134.28" cy="435.70" r="1.45"/><circle cx="141.62" cy="435.70" r="1.45"/><circle cx="193.00" cy="435.70" r="1.45"/></g>
<g fill="#faf0ed"><circle cx="141.62" cy="384.60" r="1.45"/></g>
<g fill="#fae9e3"><circle cx="145.29" cy="384.60" r="1.45"/><circle cx="163.64" cy="384.60" r="1.45"/><circle cx="204.01" cy="384.60" r="1.45"/><circle cx="200.34" cy="413.80" r="1.45"/></g>
<g fill="#eee9f9"><circle cx="148.96" cy="384.60" r="1.45"/><circle cx="137.95" cy="395.55" r="1.45"/><circle cx="141.62" cy="402.85" r="1.45"/><circle cx="156.30" cy="402.85" r="1.45"/><circle cx="145.29" cy="406.50" r="1.45"/><circle cx="145.29" cy="413.80" r="1.45"/><circle cx="141.62" cy="432.05" r="1.45"/></g>
<g fill="#efebfa"><circle cx="152.63" cy="384.60" r="1.45"/><circle cx="134.28" cy="388.25" r="1.45"/><circle cx="145.29" cy="388.25" r="1.45"/><circle cx="123.27" cy="399.20" r="1.45"/><circle cx="196.67" cy="399.20" r="1.45"/><circle cx="174.65" cy="410.15" r="1.45"/><circle cx="204.01" cy="413.80" r="1.45"/><circle cx="163.64" cy="428.40" r="1.45"/></g>
<g fill="#faefeb"><circle cx="156.30" cy="384.60" r="1.45"/><circle cx="193.00" cy="388.25" r="1.45"/><circle cx="170.98" cy="399.20" r="1.45"/><circle cx="178.32" cy="399.20" r="1.45"/><circle cx="123.27" cy="417.45" r="1.45"/></g>
<g fill="#f9e7e0"><circle cx="159.97" cy="384.60" r="1.45"/><circle cx="178.32" cy="384.60" r="1.45"/><circle cx="119.60" cy="391.90" r="1.45"/><circle cx="167.31" cy="391.90" r="1.45"/><circle cx="181.99" cy="391.90" r="1.45"/><circle cx="163.64" cy="399.20" r="1.45"/><circle cx="141.62" cy="410.15" r="1.45"/><circle cx="181.99" cy="421.10" r="1.45"/><circle cx="126.94" cy="435.70" r="1.45"/><circle cx="185.66" cy="439.35" r="1.45"/></g>
<g fill="#faebe6"><circle cx="167.31" cy="384.60" r="1.45"/><circle cx="148.96" cy="406.50" r="1.45"/><circle cx="126.94" cy="410.15" r="1.45"/><circle cx="145.29" cy="439.35" r="1.45"/></g>
<g fill="#f7f5fc"><circle cx="170.98" cy="384.60" r="1.45"/><circle cx="119.60" cy="388.25" r="1.45"/><circle cx="170.98" cy="402.85" r="1.45"/><circle cx="193.00" cy="406.50" r="1.45"/><circle cx="178.32" cy="421.10" r="1.45"/><circle cx="167.31" cy="432.05" r="1.45"/></g>
<g fill="#e0d8f7"><circle cx="174.65" cy="384.60" r="1.45"/><circle cx="137.95" cy="410.15" r="1.45"/><circle cx="204.01" cy="421.10" r="1.45"/><circle cx="126.94" cy="439.35" r="1.45"/></g>
<g fill="#f4f1fb"><circle cx="181.99" cy="384.60" r="1.45"/><circle cx="126.94" cy="391.90" r="1.45"/><circle cx="159.97" cy="395.55" r="1.45"/><circle cx="167.31" cy="395.55" r="1.45"/><circle cx="130.61" cy="421.10" r="1.45"/><circle cx="137.95" cy="421.10" r="1.45"/><circle cx="145.29" cy="424.75" r="1.45"/></g>
<g fill="#f5f1fb"><circle cx="185.66" cy="384.60" r="1.45"/><circle cx="126.94" cy="402.85" r="1.45"/><circle cx="200.34" cy="402.85" r="1.45"/></g>
<g fill="#faefec"><circle cx="189.33" cy="384.60" r="1.45"/><circle cx="167.31" cy="388.25" r="1.45"/><circle cx="159.97" cy="399.20" r="1.45"/><circle cx="134.28" cy="413.80" r="1.45"/><circle cx="126.94" cy="424.75" r="1.45"/><circle cx="159.97" cy="428.40" r="1.45"/><circle cx="152.63" cy="432.05" r="1.45"/></g>
<g fill="#faf1ee"><circle cx="193.00" cy="384.60" r="1.45"/><circle cx="148.96" cy="399.20" r="1.45"/><circle cx="123.27" cy="406.50" r="1.45"/><circle cx="141.62" cy="406.50" r="1.45"/><circle cx="170.98" cy="413.80" r="1.45"/></g>
<g fill="#e4ddf7"><circle cx="196.67" cy="384.60" r="1.45"/><circle cx="170.98" cy="391.90" r="1.45"/><circle cx="174.65" cy="402.85" r="1.45"/><circle cx="141.62" cy="413.80" r="1.45"/><circle cx="196.67" cy="432.05" r="1.45"/><circle cx="123.27" cy="435.70" r="1.45"/><circle cx="204.01" cy="439.35" r="1.45"/></g>
<g fill="#e1d9f7"><circle cx="200.34" cy="384.60" r="1.45"/><circle cx="137.95" cy="428.40" r="1.45"/></g>
<g fill="#ece6f9"><circle cx="123.27" cy="388.25" r="1.45"/><circle cx="178.32" cy="406.50" r="1.45"/><circle cx="137.95" cy="417.45" r="1.45"/><circle cx="189.33" cy="428.40" r="1.45"/><circle cx="119.60" cy="435.70" r="1.45"/></g>
<g fill="#f4f0fb"><circle cx="126.94" cy="388.25" r="1.45"/><circle cx="134.28" cy="395.55" r="1.45"/><circle cx="196.67" cy="417.45" r="1.45"/><circle cx="189.33" cy="421.10" r="1.45"/><circle cx="174.65" cy="428.40" r="1.45"/><circle cx="170.98" cy="439.35" r="1.45"/></g>
<g fill="#f5f2fc"><circle cx="130.61" cy="388.25" r="1.45"/><circle cx="123.27" cy="391.90" r="1.45"/><circle cx="126.94" cy="395.55" r="1.45"/><circle cx="137.95" cy="399.20" r="1.45"/><circle cx="137.95" cy="406.50" r="1.45"/><circle cx="130.61" cy="410.15" r="1.45"/><circle cx="145.29" cy="410.15" r="1.45"/><circle cx="200.34" cy="410.15" r="1.45"/><circle cx="145.29" cy="421.10" r="1.45"/><circle cx="167.31" cy="424.75" r="1.45"/><circle cx="196.67" cy="435.70" r="1.45"/></g>
<g fill="#f7f4fc"><circle cx="137.95" cy="388.25" r="1.45"/><circle cx="141.62" cy="395.55" r="1.45"/><circle cx="123.27" cy="402.85" r="1.45"/><circle cx="167.31" cy="402.85" r="1.45"/><circle cx="193.00" cy="410.15" r="1.45"/><circle cx="152.63" cy="413.80" r="1.45"/><circle cx="174.65" cy="413.80" r="1.45"/><circle cx="152.63" cy="417.45" r="1.45"/><circle cx="119.60" cy="428.40" r="1.45"/></g>
<g fill="#c9bef4"><circle cx="141.62" cy="388.25" r="1.45"/><circle cx="178.32" cy="395.55" r="1.45"/><circle cx="185.66" cy="402.85" r="1.45"/><circle cx="152.63" cy="428.40" r="1.45"/><circle cx="178.32" cy="428.40" r="1.45"/><circle cx="181.99" cy="428.40" r="1.45"/><circle cx="178.32" cy="432.05" r="1.45"/><circle cx="181.99" cy="432.05" r="1.45"/><circle cx="185.66" cy="432.05" r="1.45"/><circle cx="189.33" cy="432.05" r="1.45"/><circle cx="185.66" cy="435.70" r="1.45"/></g>
<g fill="#faf2f0"><circle cx="148.96" cy="388.25" r="1.45"/><circle cx="178.32" cy="402.85" r="1.45"/><circle cx="123.27" cy="410.15" r="1.45"/><circle cx="178.32" cy="410.15" r="1.45"/><circle cx="134.28" cy="421.10" r="1.45"/><circle cx="204.01" cy="432.05" r="1.45"/></g>
<g fill="#f8f6fd"><circle cx="152.63" cy="388.25" r="1.45"/><circle cx="163.64" cy="388.25" r="1.45"/><circle cx="170.98" cy="406.50" r="1.45"/><circle cx="185.66" cy="413.80" r="1.45"/></g>
<g fill="#ece7f9"><circle cx="156.30" cy="388.25" r="1.45"/><circle cx="181.99" cy="402.85" r="1.45"/><circle cx="159.97" cy="406.50" r="1.45"/><circle cx="163.64" cy="417.45" r="1.45"/><circle cx="119.60" cy="432.05" r="1.45"/><circle cx="163.64" cy="432.05" r="1.45"/><circle cx="137.95" cy="435.70" r="1.45"/></g>
<g fill="#fae9e2"><circle cx="159.97" cy="388.25" r="1.45"/><circle cx="189.33" cy="402.85" r="1.45"/><circle cx="119.60" cy="421.10" r="1.45"/><circle cx="163.64" cy="424.75" r="1.45"/><circle cx="167.31" cy="435.70" r="1.45"/></g>
<g fill="#fbf7f7"><circle cx="170.98" cy="388.25" r="1.45"/><circle cx="152.63" cy="391.90" r="1.45"/><circle cx="134.28" cy="424.75" r="1.45"/><circle cx="123.27" cy="439.35" r="1.45"/></g>
<g fill="#faede9"><circle cx="174.65" cy="388.25" r="1.45"/><circle cx="189.33" cy="395.55" r="1.45"/><circle cx="189.33" cy="399.20" r="1.45"/><circle cx="130.61" cy="402.85" r="1.45"/><circle cx="126.94" cy="413.80" r="1.45"/><circle cx="156.30" cy="421.10" r="1.45"/><circle cx="145.29" cy="435.70" r="1.45"/></g>
<g fill="#beb2f3"><circle cx="178.32" cy="388.25" r="1.45"/><circle cx="196.67" cy="413.80" r="1.45"/></g>
<g fill="#faebe5"><circle cx="181.99" cy="388.25" r="1.45"/><circle cx="148.96" cy="395.55" r="1.45"/><circle cx="134.28" cy="406.50" r="1.45"/></g>
<g fill="#faf2ef"><circle cx="185.66" cy="388.25" r="1.45"/><circle cx="196.67" cy="388.25" r="1.45"/><circle cx="130.61" cy="391.90" r="1.45"/><circle cx="156.30" cy="435.70" r="1.45"/><circle cx="167.31" cy="439.35" r="1.45"/></g>
<g fill="#fbf4f3"><circle cx="200.34" cy="388.25" r="1.45"/><circle cx="204.01" cy="388.25" r="1.45"/><circle cx="204.01" cy="406.50" r="1.45"/><circle cx="170.98" cy="410.15" r="1.45"/><circle cx="200.34" cy="417.45" r="1.45"/><circle cx="141.62" cy="428.40" r="1.45"/><circle cx="148.96" cy="428.40" r="1.45"/><circle cx="159.97" cy="439.35" r="1.45"/></g>
<g fill="#e9e3f8"><circle cx="134.28" cy="391.90" r="1.45"/><circle cx="130.61" cy="399.20" r="1.45"/><circle cx="141.62" cy="399.20" r="1.45"/><circle cx="204.01" cy="399.20" r="1.45"/><circle cx="167.31" cy="410.15" r="1.45"/><circle cx="170.98" cy="417.45" r="1.45"/><circle cx="141.62" cy="424.75" r="1.45"/><circle cx="200.34" cy="424.75" r="1.45"/></g>
<g fill="#fbf6f6"><circle cx="137.95" cy="391.90" r="1.45"/><circle cx="126.94" cy="417.45" r="1.45"/><circle cx="181.99" cy="439.35" r="1.45"/></g>
<g fill="#faece7"><circle cx="141.62" cy="391.90" r="1.45"/><circle cx="152.63" cy="402.85" r="1.45"/><circle cx="156.30" cy="432.05" r="1.45"/></g>
<g fill="#f6f3fc"><circle cx="145.29" cy="391.90" r="1.45"/><circle cx="193.00" cy="391.90" r="1.45"/><circle cx="204.01" cy="391.90" r="1.45"/><circle cx="156.30" cy="399.20" r="1.45"/><circle cx="119.60" cy="413.80" r="1.45"/><circle cx="193.00" cy="417.45" r="1.45"/><circle cx="123.27" cy="424.75" r="1.45"/><circle cx="163.64" cy="439.35" r="1.45"/></g>
<g fill="#f3f0fb"><circle cx="148.96" cy="391.90" r="1.45"/><circle cx="174.65" cy="417.45" r="1.45"/><circle cx="137.95" cy="424.75" r="1.45"/><circle cx="185.66" cy="428.40" r="1.45"/><circle cx="159.97" cy="435.70" r="1.45"/><circle cx="152.63" cy="439.35" r="1.45"/><circle cx="178.32" cy="439.35" r="1.45"/></g>
<g fill="#efeafa"><circle cx="156.30" cy="391.90" r="1.45"/><circle cx="134.28" cy="417.45" r="1.45"/><circle cx="174.65" cy="432.05" r="1.45"/><circle cx="196.67" cy="439.35" r="1.45"/></g>
<g fill="#faeee9"><circle cx="159.97" cy="391.90" r="1.45"/><circle cx="159.97" cy="417.45" r="1.45"/></g>
<g fill="#fbf5f5"><circle cx="174.65" cy="391.90" r="1.45"/><circle cx="134.28" cy="402.85" r="1.45"/><circle cx="145.29" cy="402.85" r="1.45"/><circle cx="148.96" cy="424.75" r="1.45"/></g>
<g fill="#fbf8f9"><circle cx="185.66" cy="391.90" r="1.45"/><circle cx="119.60" cy="399.20" r="1.45"/><circle cx="167.31" cy="399.20" r="1.45"/></g>
<g fill="#e5dff7"><circle cx="189.33" cy="391.90" r="1.45"/></g>
<g fill="#f0ebfa"><circle cx="196.67" cy="391.90" r="1.45"/><circle cx="181.99" cy="395.55" r="1.45"/><circle cx="181.99" cy="406.50" r="1.45"/><circle cx="185.66" cy="406.50" r="1.45"/><circle cx="130.61" cy="435.70" r="1.45"/></g>
<g fill="#f9e8e1"><circle cx="200.34" cy="391.90" r="1.45"/><circle cx="119.60" cy="406.50" r="1.45"/><circle cx="137.95" cy="439.35" r="1.45"/></g>
<g fill="#faf3f2"><circle cx="119.60" cy="395.55" r="1.45"/><circle cx="126.94" cy="406.50" r="1.45"/><circle cx="126.94" cy="428.40" r="1.45"/><circle cx="159.97" cy="432.05" r="1.45"/><circle cx="119.60" cy="439.35" r="1.45"/><circle cx="156.30" cy="439.35" r="1.45"/></g>
<g fill="#eeeafa"><circle cx="123.27" cy="395.55" r="1.45"/><circle cx="185.66" cy="395.55" r="1.45"/></g>
<g fill="#eae5f8"><circle cx="130.61" cy="395.55" r="1.45"/><circle cx="159.97" cy="402.85" r="1.45"/><circle cx="148.96" cy="410.15" r="1.45"/><circle cx="189.33" cy="417.45" r="1.45"/></g>
<g fill="#ede8f9"><circle cx="145.29" cy="395.55" r="1.45"/><circle cx="200.34" cy="399.20" r="1.45"/><circle cx="204.01" cy="410.15" r="1.45"/><circle cx="193.00" cy="421.10" r="1.45"/><circle cx="123.27" cy="428.40" r="1.45"/><circle cx="204.01" cy="435.70" r="1.45"/></g>
<g fill="#f2eefb"><circle cx="156.30" cy="395.55" r="1.45"/><circle cx="163.64" cy="395.55" r="1.45"/><circle cx="193.00" cy="402.85" r="1.45"/><circle cx="178.32" cy="417.45" r="1.45"/><circle cx="152.63" cy="421.10" r="1.45"/><circle cx="185.66" cy="424.75" r="1.45"/></g>
<g fill="#f6f4fc"><circle cx="174.65" cy="395.55" r="1.45"/></g>
<g fill="#eae4f8"><circle cx="193.00" cy="395.55" r="1.45"/><circle cx="193.00" cy="399.20" r="1.45"/><circle cx="167.31" cy="406.50" r="1.45"/><circle cx="148.96" cy="413.80" r="1.45"/><circle cx="148.96" cy="417.45" r="1.45"/><circle cx="193.00" cy="439.35" r="1.45"/></g>
<g fill="#faf0ec"><circle cx="196.67" cy="395.55" r="1.45"/><circle cx="167.31" cy="413.80" r="1.45"/><circle cx="170.98" cy="424.75" r="1.45"/></g>
<g fill="#fbf9fa"><circle cx="200.34" cy="395.55" r="1.45"/></g>
<g fill="#fbf5f4"><circle cx="204.01" cy="395.55" r="1.45"/><circle cx="119.60" cy="410.15" r="1.45"/><circle cx="156.30" cy="410.15" r="1.45"/><circle cx="170.98" cy="428.40" r="1.45"/><circle cx="200.34" cy="428.40" r="1.45"/><circle cx="204.01" cy="428.40" r="1.45"/><circle cx="152.63" cy="435.70" r="1.45"/><circle cx="178.32" cy="435.70" r="1.45"/><circle cx="134.28" cy="439.35" r="1.45"/></g>
<g fill="#a89cf1"><circle cx="126.94" cy="399.20" r="1.45"/></g>
<g fill="#faeeea"><circle cx="134.28" cy="399.20" r="1.45"/><circle cx="174.65" cy="421.10" r="1.45"/><circle cx="204.01" cy="424.75" r="1.45"/></g>
<g fill="#dfd8f7"><circle cx="152.63" cy="399.20" r="1.45"/><circle cx="181.99" cy="435.70" r="1.45"/></g>
<g fill="#f3effb"><circle cx="174.65" cy="399.20" r="1.45"/><circle cx="167.31" cy="421.10" r="1.45"/><circle cx="137.95" cy="432.05" r="1.45"/><circle cx="189.33" cy="439.35" r="1.45"/></g>
<g fill="#f2effb"><circle cx="181.99" cy="399.20" r="1.45"/><circle cx="204.01" cy="402.85" r="1.45"/></g>
<g fill="#e8e2f8"><circle cx="119.60" cy="402.85" r="1.45"/><circle cx="148.96" cy="402.85" r="1.45"/><circle cx="152.63" cy="410.15" r="1.45"/><circle cx="134.28" cy="428.40" r="1.45"/></g>
<g fill="#e7e1f8"><circle cx="137.95" cy="402.85" r="1.45"/><circle cx="174.65" cy="406.50" r="1.45"/><circle cx="178.32" cy="424.75" r="1.45"/><circle cx="189.33" cy="424.75" r="1.45"/></g>
<g fill="#e7e0f8"><circle cx="163.64" cy="402.85" r="1.45"/></g>
<g fill="#fbf8f8"><circle cx="196.67" cy="402.85" r="1.45"/><circle cx="181.99" cy="410.15" r="1.45"/></g>
<g fill="#ebe5f9"><circle cx="152.63" cy="406.50" r="1.45"/><circle cx="170.98" cy="421.10" r="1.45"/></g>
<g fill="#ebe6f9"><circle cx="163.64" cy="406.50" r="1.45"/><circle cx="145.29" cy="417.45" r="1.45"/><circle cx="123.27" cy="432.05" r="1.45"/></g>
<g fill="#f1edfa"><circle cx="196.67" cy="406.50" r="1.45"/><circle cx="134.28" cy="410.15" r="1.45"/><circle cx="163.64" cy="410.15" r="1.45"/><circle cx="185.66" cy="410.15" r="1.45"/><circle cx="130.61" cy="413.80" r="1.45"/><circle cx="156.30" cy="417.45" r="1.45"/><circle cx="148.96" cy="421.10" r="1.45"/><circle cx="130.61" cy="424.75" r="1.45"/><circle cx="167.31" cy="428.40" r="1.45"/></g>
<g fill="#f5f2fb"><circle cx="159.97" cy="410.15" r="1.45"/><circle cx="204.01" cy="417.45" r="1.45"/><circle cx="148.96" cy="432.05" r="1.45"/></g>
<g fill="#f6f2fc"><circle cx="196.67" cy="410.15" r="1.45"/></g>
<g fill="#f9f7fd"><circle cx="123.27" cy="413.80" r="1.45"/><circle cx="185.66" cy="421.10" r="1.45"/><circle cx="200.34" cy="432.05" r="1.45"/></g>
<g fill="#faeae4"><circle cx="137.95" cy="413.80" r="1.45"/><circle cx="174.65" cy="439.35" r="1.45"/></g>
<g fill="#e9e2f8"><circle cx="156.30" cy="413.80" r="1.45"/></g>
<g fill="#887df1"><circle cx="159.97" cy="413.80" r="1.45"/></g>
<g fill="#f8f5fc"><circle cx="163.64" cy="413.80" r="1.45"/></g>
<g fill="#e8e1f8"><circle cx="178.32" cy="413.80" r="1.45"/><circle cx="130.61" cy="428.40" r="1.45"/></g>
<g fill="#e1daf7"><circle cx="189.33" cy="413.80" r="1.45"/><circle cx="156.30" cy="428.40" r="1.45"/></g>
<g fill="#e2dbf7"><circle cx="193.00" cy="413.80" r="1.45"/><circle cx="159.97" cy="421.10" r="1.45"/><circle cx="200.34" cy="439.35" r="1.45"/></g>
<g fill="#faf3f1"><circle cx="130.61" cy="417.45" r="1.45"/><circle cx="193.00" cy="428.40" r="1.45"/><circle cx="170.98" cy="435.70" r="1.45"/></g>
<g fill="#eee9fa"><circle cx="167.31" cy="417.45" r="1.45"/></g>
<g fill="#fbf4f2"><circle cx="181.99" cy="417.45" r="1.45"/><circle cx="130.61" cy="439.35" r="1.45"/></g>
<g fill="#e3ddf7"><circle cx="185.66" cy="417.45" r="1.45"/></g>
<g fill="#f8f6fc"><circle cx="126.94" cy="421.10" r="1.45"/></g>
<g fill="#ede7f9"><circle cx="141.62" cy="421.10" r="1.45"/><circle cx="119.60" cy="424.75" r="1.45"/><circle cx="159.97" cy="424.75" r="1.45"/></g>
<g fill="#e4def7"><circle cx="163.64" cy="421.10" r="1.45"/></g>
<g fill="#e9e4f8"><circle cx="196.67" cy="421.10" r="1.45"/></g>
<g fill="#f0ecfa"><circle cx="181.99" cy="424.75" r="1.45"/><circle cx="145.29" cy="428.40" r="1.45"/><circle cx="134.28" cy="432.05" r="1.45"/></g>
<g fill="#ebe5f8"><circle cx="193.00" cy="424.75" r="1.45"/><circle cx="163.64" cy="435.70" r="1.45"/></g>
<g fill="#fbf6f5"><circle cx="196.67" cy="424.75" r="1.45"/><circle cx="174.65" cy="435.70" r="1.45"/></g>
<g fill="#faeeeb"><circle cx="145.29" cy="432.05" r="1.45"/></g>
<g fill="#f9e7df"><circle cx="170.98" cy="432.05" r="1.45"/></g>
<g fill="#f9e8e2"><circle cx="148.96" cy="435.70" r="1.45"/></g>
<g fill="#fbf5f3"><circle cx="200.34" cy="435.70" r="1.45"/></g>
<g fill="#faeae5"><circle cx="141.62" cy="439.35" r="1.45"/></g>
<g fill="#faece8"><circle cx="148.96" cy="439.35" r="1.45"/></g>
</g>
<text x="119.60" y="379.40" class="s" font-size="2.6" text-anchor="middle" fill="#585858">1</text>
<text x="123.27" y="379.40" class="s" font-size="2.6" text-anchor="middle" fill="#585858">2</text>
<text x="126.94" y="379.40" class="s" font-size="2.6" text-anchor="middle" fill="#585858">3</text>
<text x="130.61" y="379.40" class="s" font-size="2.6" text-anchor="middle" fill="#585858">4</text>
<text x="134.28" y="379.40" class="s" font-size="2.6" text-anchor="middle" fill="#585858">5</text>
<text x="137.95" y="379.40" class="s" font-size="2.6" text-anchor="middle" fill="#585858">6</text>
<text x="141.62" y="379.40" class="s" font-size="2.6" text-anchor="middle" fill="#585858">7</text>
<text x="145.29" y="379.40" class="s" font-size="2.6" text-anchor="middle" fill="#585858">8</text>
<text x="148.96" y="379.40" class="s" font-size="2.6" text-anchor="middle" fill="#585858">9</text>
<text x="152.63" y="379.40" class="s" font-size="2.6" text-anchor="middle" fill="#585858">10</text>
<text x="156.30" y="379.40" class="s" font-size="2.6" text-anchor="middle" fill="#585858">11</text>
<text x="159.97" y="379.40" class="s" font-size="2.6" text-anchor="middle" fill="#585858">12</text>
<text x="163.64" y="379.40" class="s" font-size="2.6" text-anchor="middle" fill="#585858">13</text>
<text x="167.31" y="379.40" class="s" font-size="2.6" text-anchor="middle" fill="#585858">14</text>
<text x="170.98" y="379.40" class="s" font-size="2.6" text-anchor="middle" fill="#585858">15</text>
<text x="174.65" y="379.40" class="s" font-size="2.6" text-anchor="middle" fill="#585858">16</text>
<text x="178.32" y="379.40" class="s" font-size="2.6" text-anchor="middle" fill="#585858">17</text>
<text x="181.99" y="379.40" class="s" font-size="2.6" text-anchor="middle" fill="#585858">18</text>
<text x="185.66" y="379.40" class="s" font-size="2.6" text-anchor="middle" fill="#585858">19</text>
<text x="189.33" y="379.40" class="s" font-size="2.6" text-anchor="middle" fill="#585858">20</text>
<text x="193.00" y="379.40" class="s" font-size="2.6" text-anchor="middle" fill="#585858">21</text>
<text x="196.67" y="379.40" class="s" font-size="2.6" text-anchor="middle" fill="#585858">22</text>
<text x="200.34" y="379.40" class="s" font-size="2.6" text-anchor="middle" fill="#585858">23</text>
<text x="204.01" y="379.40" class="s" font-size="2.6" text-anchor="middle" fill="#585858">24</text>
<text x="112.70" y="385.55" class="s" font-size="2.5" text-anchor="end" fill="#666">A</text>
<text x="112.70" y="389.20" class="s" font-size="2.5" text-anchor="end" fill="#666">B</text>
<text x="112.70" y="392.85" class="s" font-size="2.5" text-anchor="end" fill="#666">C</text>
<text x="112.70" y="396.50" class="s" font-size="2.5" text-anchor="end" fill="#666">D</text>
<text x="112.70" y="400.15" class="s" font-size="2.5" text-anchor="end" fill="#666">E</text>
<text x="112.70" y="403.80" class="s" font-size="2.5" text-anchor="end" fill="#666">F</text>
<text x="112.70" y="407.45" class="s" font-size="2.5" text-anchor="end" fill="#666">G</text>
<text x="112.70" y="411.10" class="s" font-size="2.5" text-anchor="end" fill="#666">H</text>
<text x="112.70" y="414.75" class="s" font-size="2.5" text-anchor="end" fill="#666">I</text>
<text x="112.70" y="418.40" class="s" font-size="2.5" text-anchor="end" fill="#666">J</text>
<text x="112.70" y="422.05" class="s" font-size="2.5" text-anchor="end" fill="#666">K</text>
<text x="112.70" y="425.70" class="s" font-size="2.5" text-anchor="end" fill="#666">L</text>
<text x="112.70" y="429.35" class="s" font-size="2.5" text-anchor="end" fill="#666">M</text>
<text x="112.70" y="433.00" class="s" font-size="2.5" text-anchor="end" fill="#666">N</text>
<text x="112.70" y="436.65" class="s" font-size="2.5" text-anchor="end" fill="#666">O</text>
<text x="112.70" y="440.30" class="s" font-size="2.5" text-anchor="end" fill="#666">P</text>
<text x="161.70" y="451.90" class="r" font-size="9.7" text-anchor="middle" textLength="23.9" lengthAdjust="spacingAndGlyphs">Day 4</text>
<rect x="216.20" y="380.30" width="97.1" height="63.2" fill="#fff" stroke="#c4c4c4" stroke-width="0.5"/>
<g stroke="#a4a4a4" stroke-width="0.44">
<g fill="#fbf9fa"><circle cx="222.50" cy="384.60" r="1.45"/><circle cx="229.84" cy="395.55" r="1.45"/></g>
<g fill="#f3effb"><circle cx="226.17" cy="384.60" r="1.45"/><circle cx="277.55" cy="388.25" r="1.45"/><circle cx="262.87" cy="399.20" r="1.45"/><circle cx="222.50" cy="406.50" r="1.45"/><circle cx="306.91" cy="432.05" r="1.45"/><circle cx="244.52" cy="439.35" r="1.45"/><circle cx="277.55" cy="439.35" r="1.45"/></g>
<g fill="#faf2f0"><circle cx="229.84" cy="384.60" r="1.45"/><circle cx="233.51" cy="384.60" r="1.45"/><circle cx="244.52" cy="391.90" r="1.45"/><circle cx="233.51" cy="399.20" r="1.45"/><circle cx="248.19" cy="402.85" r="1.45"/><circle cx="226.17" cy="413.80" r="1.45"/><circle cx="262.87" cy="428.40" r="1.45"/></g>
<g fill="#e3dcf7"><circle cx="237.18" cy="384.60" r="1.45"/><circle cx="226.17" cy="399.20" r="1.45"/><circle cx="237.18" cy="399.20" r="1.45"/><circle cx="237.18" cy="406.50" r="1.45"/><circle cx="288.56" cy="435.70" r="1.45"/><circle cx="299.57" cy="439.35" r="1.45"/></g>
<g fill="#e5dff7"><circle cx="240.85" cy="384.60" r="1.45"/></g>
<g fill="#f8f5fc"><circle cx="244.52" cy="384.60" r="1.45"/><circle cx="281.22" cy="384.60" r="1.45"/><circle cx="226.17" cy="388.25" r="1.45"/><circle cx="292.23" cy="395.55" r="1.45"/><circle cx="226.17" cy="421.10" r="1.45"/><circle cx="262.87" cy="421.10" r="1.45"/><circle cx="284.89" cy="428.40" r="1.45"/><circle cx="237.18" cy="432.05" r="1.45"/><circle cx="306.91" cy="439.35" r="1.45"/></g>
<g fill="#eee9f9"><circle cx="248.19" cy="384.60" r="1.45"/><circle cx="229.84" cy="391.90" r="1.45"/><circle cx="255.53" cy="406.50" r="1.45"/><circle cx="292.23" cy="417.45" r="1.45"/><circle cx="226.17" cy="432.05" r="1.45"/><circle cx="222.50" cy="435.70" r="1.45"/></g>
<g fill="#faf2ef"><circle cx="251.86" cy="384.60" r="1.45"/></g>
<g fill="#f9e8e1"><circle cx="255.53" cy="384.60" r="1.45"/><circle cx="244.52" cy="432.05" r="1.45"/><circle cx="281.22" cy="439.35" r="1.45"/></g>
<g fill="#f2eefb"><circle cx="259.20" cy="384.60" r="1.45"/><circle cx="266.54" cy="384.60" r="1.45"/><circle cx="288.56" cy="384.60" r="1.45"/><circle cx="288.56" cy="388.25" r="1.45"/><circle cx="299.57" cy="399.20" r="1.45"/><circle cx="284.89" cy="406.50" r="1.45"/><circle cx="237.18" cy="413.80" r="1.45"/><circle cx="299.57" cy="417.45" r="1.45"/><circle cx="266.54" cy="428.40" r="1.45"/><circle cx="295.90" cy="428.40" r="1.45"/></g>
<g fill="#f1edfa"><circle cx="262.87" cy="384.60" r="1.45"/><circle cx="273.88" cy="384.60" r="1.45"/><circle cx="299.57" cy="384.60" r="1.45"/><circle cx="273.88" cy="402.85" r="1.45"/><circle cx="222.50" cy="410.15" r="1.45"/><circle cx="270.21" cy="410.15" r="1.45"/><circle cx="248.19" cy="421.10" r="1.45"/><circle cx="251.86" cy="421.10" r="1.45"/><circle cx="281.22" cy="435.70" r="1.45"/></g>
<g fill="#fbf6f5"><circle cx="270.21" cy="384.60" r="1.45"/><circle cx="288.56" cy="399.20" r="1.45"/><circle cx="255.53" cy="402.85" r="1.45"/></g>
<g fill="#ebe5f8"><circle cx="277.55" cy="384.60" r="1.45"/><circle cx="229.84" cy="406.50" r="1.45"/><circle cx="273.88" cy="406.50" r="1.45"/><circle cx="255.53" cy="413.80" r="1.45"/><circle cx="281.22" cy="421.10" r="1.45"/><circle cx="284.89" cy="435.70" r="1.45"/></g>
<g fill="#f4f1fb"><circle cx="284.89" cy="384.60" r="1.45"/><circle cx="259.20" cy="388.25" r="1.45"/><circle cx="259.20" cy="391.90" r="1.45"/><circle cx="251.86" cy="399.20" r="1.45"/><circle cx="255.53" cy="399.20" r="1.45"/><circle cx="284.89" cy="399.20" r="1.45"/><circle cx="248.19" cy="410.15" r="1.45"/><circle cx="226.17" cy="417.45" r="1.45"/><circle cx="229.84" cy="417.45" r="1.45"/><circle cx="255.53" cy="424.75" r="1.45"/><circle cx="226.17" cy="428.40" r="1.45"/><circle cx="262.87" cy="439.35" r="1.45"/></g>
<g fill="#f0ebfa"><circle cx="292.23" cy="384.60" r="1.45"/><circle cx="288.56" cy="406.50" r="1.45"/><circle cx="233.51" cy="435.70" r="1.45"/><circle cx="255.53" cy="435.70" r="1.45"/></g>
<g fill="#887df1"><circle cx="295.90" cy="384.60" r="1.45"/><circle cx="262.87" cy="388.25" r="1.45"/><circle cx="281.22" cy="391.90" r="1.45"/><circle cx="284.89" cy="391.90" r="1.45"/><circle cx="288.56" cy="391.90" r="1.45"/><circle cx="303.24" cy="399.20" r="1.45"/><circle cx="299.57" cy="428.40" r="1.45"/><circle cx="226.17" cy="439.35" r="1.45"/></g>
<g fill="#faebe6"><circle cx="303.24" cy="384.60" r="1.45"/><circle cx="240.85" cy="391.90" r="1.45"/><circle cx="292.23" cy="439.35" r="1.45"/></g>
<g fill="#f5f2fc"><circle cx="306.91" cy="384.60" r="1.45"/><circle cx="299.57" cy="391.90" r="1.45"/><circle cx="262.87" cy="410.15" r="1.45"/><circle cx="288.56" cy="410.15" r="1.45"/><circle cx="284.89" cy="424.75" r="1.45"/><circle cx="299.57" cy="424.75" r="1.45"/><circle cx="306.91" cy="428.40" r="1.45"/><circle cx="277.55" cy="432.05" r="1.45"/><circle cx="240.85" cy="435.70" r="1.45"/><circle cx="255.53" cy="439.35" r="1.45"/><circle cx="288.56" cy="439.35" r="1.45"/><circle cx="295.90" cy="439.35" r="1.45"/><circle cx="303.24" cy="439.35" r="1.45"/></g>
<g fill="#faeee9"><circle cx="222.50" cy="388.25" r="1.45"/></g>
<g fill="#eae4f8"><circle cx="229.84" cy="388.25" r="1.45"/><circle cx="255.53" cy="388.25" r="1.45"/><circle cx="226.17" cy="410.15" r="1.45"/><circle cx="251.86" cy="410.15" r="1.45"/><circle cx="306.91" cy="417.45" r="1.45"/></g>
<g fill="#dad2f6"><circle cx="233.51" cy="388.25" r="1.45"/><circle cx="248.19" cy="388.25" r="1.45"/><circle cx="270.21" cy="388.25" r="1.45"/><circle cx="262.87" cy="391.90" r="1.45"/><circle cx="266.54" cy="399.20" r="1.45"/><circle cx="233.51" cy="402.85" r="1.45"/><circle cx="240.85" cy="406.50" r="1.45"/><circle cx="229.84" cy="410.15" r="1.45"/><circle cx="299.57" cy="410.15" r="1.45"/><circle cx="303.24" cy="413.80" r="1.45"/><circle cx="281.22" cy="417.45" r="1.45"/><circle cx="237.18" cy="421.10" r="1.45"/><circle cx="303.24" cy="421.10" r="1.45"/><circle cx="229.84" cy="424.75" r="1.45"/><circle cx="222.50" cy="428.40" r="1.45"/><circle cx="244.52" cy="428.40" r="1.45"/><circle cx="259.20" cy="432.05" r="1.45"/><circle cx="303.24" cy="435.70" r="1.45"/></g>
<g fill="#faeeea"><circle cx="237.18" cy="388.25" r="1.45"/><circle cx="222.50" cy="395.55" r="1.45"/><circle cx="248.19" cy="406.50" r="1.45"/><circle cx="262.87" cy="417.45" r="1.45"/></g>
<g fill="#f6f3fc"><circle cx="240.85" cy="388.25" r="1.45"/><circle cx="237.18" cy="391.90" r="1.45"/><circle cx="240.85" cy="395.55" r="1.45"/><circle cx="266.54" cy="395.55" r="1.45"/><circle cx="295.90" cy="395.55" r="1.45"/><circle cx="259.20" cy="413.80" r="1.45"/><circle cx="251.86" cy="428.40" r="1.45"/><circle cx="292.23" cy="428.40" r="1.45"/></g>
<g fill="#faf0ed"><circle cx="244.52" cy="388.25" r="1.45"/><circle cx="303.24" cy="410.15" r="1.45"/></g>
<g fill="#faece6"><circle cx="251.86" cy="388.25" r="1.45"/><circle cx="277.55" cy="413.80" r="1.45"/></g>
<g fill="#a89cf1"><circle cx="266.54" cy="388.25" r="1.45"/><circle cx="262.87" cy="402.85" r="1.45"/><circle cx="266.54" cy="402.85" r="1.45"/><circle cx="281.22" cy="413.80" r="1.45"/><circle cx="226.17" cy="424.75" r="1.45"/></g>
<g fill="#fbf4f2"><circle cx="273.88" cy="388.25" r="1.45"/><circle cx="281.22" cy="399.20" r="1.45"/><circle cx="281.22" cy="410.15" r="1.45"/><circle cx="251.86" cy="435.70" r="1.45"/></g>
<g fill="#e4ddf7"><circle cx="281.22" cy="388.25" r="1.45"/><circle cx="240.85" cy="413.80" r="1.45"/><circle cx="251.86" cy="413.80" r="1.45"/><circle cx="277.55" cy="421.10" r="1.45"/><circle cx="233.51" cy="428.40" r="1.45"/><circle cx="259.20" cy="428.40" r="1.45"/><circle cx="277.55" cy="428.40" r="1.45"/><circle cx="226.17" cy="435.70" r="1.45"/></g>
<g fill="#fbf5f5"><circle cx="284.89" cy="388.25" r="1.45"/><circle cx="222.50" cy="424.75" r="1.45"/><circle cx="222.50" cy="439.35" r="1.45"/></g>
<g fill="#f9e8e2"><circle cx="292.23" cy="388.25" r="1.45"/><circle cx="299.57" cy="413.80" r="1.45"/></g>
<g fill="#fbf8f9"><circle cx="295.90" cy="388.25" r="1.45"/><circle cx="273.88" cy="413.80" r="1.45"/><circle cx="237.18" cy="417.45" r="1.45"/><circle cx="303.24" cy="428.40" r="1.45"/></g>
<g fill="#f9e6df"><circle cx="299.57" cy="388.25" r="1.45"/><circle cx="237.18" cy="424.75" r="1.45"/><circle cx="233.51" cy="439.35" r="1.45"/></g>
<g fill="#c9bef4"><circle cx="303.24" cy="388.25" r="1.45"/><circle cx="273.88" cy="395.55" r="1.45"/><circle cx="299.57" cy="395.55" r="1.45"/><circle cx="270.21" cy="402.85" r="1.45"/><circle cx="266.54" cy="424.75" r="1.45"/><circle cx="270.21" cy="424.75" r="1.45"/><circle cx="273.88" cy="424.75" r="1.45"/><circle cx="281.22" cy="432.05" r="1.45"/><circle cx="284.89" cy="432.05" r="1.45"/><circle cx="288.56" cy="432.05" r="1.45"/><circle cx="292.23" cy="432.05" r="1.45"/><circle cx="295.90" cy="432.05" r="1.45"/><circle cx="299.57" cy="435.70" r="1.45"/></g>
<g fill="#f0ecfa"><circle cx="306.91" cy="388.25" r="1.45"/><circle cx="222.50" cy="402.85" r="1.45"/><circle cx="233.51" cy="413.80" r="1.45"/></g>
<g fill="#beb2f3"><circle cx="222.50" cy="391.90" r="1.45"/><circle cx="229.84" cy="399.20" r="1.45"/><circle cx="262.87" cy="413.80" r="1.45"/><circle cx="284.89" cy="413.80" r="1.45"/><circle cx="288.56" cy="413.80" r="1.45"/><circle cx="292.23" cy="413.80" r="1.45"/><circle cx="295.90" cy="413.80" r="1.45"/><circle cx="303.24" cy="417.45" r="1.45"/></g>
<g fill="#faece7"><circle cx="226.17" cy="391.90" r="1.45"/><circle cx="248.19" cy="391.90" r="1.45"/><circle cx="244.52" cy="413.80" r="1.45"/><circle cx="240.85" cy="428.40" r="1.45"/><circle cx="255.53" cy="428.40" r="1.45"/><circle cx="266.54" cy="435.70" r="1.45"/></g>
<g fill="#fbf8f8"><circle cx="233.51" cy="391.90" r="1.45"/><circle cx="273.88" cy="417.45" r="1.45"/><circle cx="299.57" cy="432.05" r="1.45"/></g>
<g fill="#ede8f9"><circle cx="251.86" cy="391.90" r="1.45"/><circle cx="262.87" cy="395.55" r="1.45"/><circle cx="233.51" cy="417.45" r="1.45"/><circle cx="284.89" cy="417.45" r="1.45"/><circle cx="240.85" cy="421.10" r="1.45"/><circle cx="255.53" cy="421.10" r="1.45"/><circle cx="292.23" cy="421.10" r="1.45"/><circle cx="270.21" cy="428.40" r="1.45"/></g>
<g fill="#faefeb"><circle cx="255.53" cy="391.90" r="1.45"/><circle cx="262.87" cy="406.50" r="1.45"/></g>
<g fill="#f9e6de"><circle cx="266.54" cy="391.90" r="1.45"/></g>
<g fill="#faf1ef"><circle cx="270.21" cy="391.90" r="1.45"/></g>
<g fill="#f9f7fd"><circle cx="273.88" cy="391.90" r="1.45"/><circle cx="259.20" cy="399.20" r="1.45"/><circle cx="266.54" cy="413.80" r="1.45"/><circle cx="229.84" cy="421.10" r="1.45"/><circle cx="270.21" cy="439.35" r="1.45"/></g>
<g fill="#faeeeb"><circle cx="277.55" cy="391.90" r="1.45"/><circle cx="255.53" cy="410.15" r="1.45"/></g>
<g fill="#fbf6f6"><circle cx="292.23" cy="391.90" r="1.45"/><circle cx="259.20" cy="410.15" r="1.45"/><circle cx="233.51" cy="421.10" r="1.45"/><circle cx="237.18" cy="435.70" r="1.45"/></g>
<g fill="#faf1ee"><circle cx="295.90" cy="391.90" r="1.45"/><circle cx="229.84" cy="402.85" r="1.45"/><circle cx="277.55" cy="410.15" r="1.45"/><circle cx="277.55" cy="435.70" r="1.45"/></g>
<g fill="#ebe6f9"><circle cx="303.24" cy="391.90" r="1.45"/><circle cx="237.18" cy="402.85" r="1.45"/><circle cx="273.88" cy="421.10" r="1.45"/><circle cx="262.87" cy="424.75" r="1.45"/><circle cx="270.21" cy="432.05" r="1.45"/><circle cx="273.88" cy="432.05" r="1.45"/></g>
<g fill="#e8e1f8"><circle cx="306.91" cy="391.90" r="1.45"/></g>
<g fill="#f1ecfa"><circle cx="226.17" cy="395.55" r="1.45"/><circle cx="277.55" cy="406.50" r="1.45"/></g>
<g fill="#e6e0f8"><circle cx="233.51" cy="395.55" r="1.45"/><circle cx="251.86" cy="406.50" r="1.45"/><circle cx="295.90" cy="406.50" r="1.45"/><circle cx="306.91" cy="413.80" r="1.45"/><circle cx="306.91" cy="424.75" r="1.45"/><circle cx="281.22" cy="428.40" r="1.45"/></g>
<g fill="#e9e3f8"><circle cx="237.18" cy="395.55" r="1.45"/><circle cx="266.54" cy="406.50" r="1.45"/><circle cx="244.52" cy="410.15" r="1.45"/></g>
<g fill="#faf0ee"><circle cx="244.52" cy="395.55" r="1.45"/><circle cx="270.21" cy="421.10" r="1.45"/></g>
<g fill="#faf0ec"><circle cx="248.19" cy="395.55" r="1.45"/></g>
<g fill="#faeae4"><circle cx="251.86" cy="395.55" r="1.45"/><circle cx="226.17" cy="406.50" r="1.45"/><circle cx="295.90" cy="435.70" r="1.45"/></g>
<g fill="#dfd8f7"><circle cx="255.53" cy="395.55" r="1.45"/><circle cx="270.21" cy="435.70" r="1.45"/><circle cx="248.19" cy="439.35" r="1.45"/></g>
<g fill="#e5def7"><circle cx="259.20" cy="395.55" r="1.45"/><circle cx="284.89" cy="402.85" r="1.45"/><circle cx="262.87" cy="435.70" r="1.45"/><circle cx="229.84" cy="439.35" r="1.45"/><circle cx="251.86" cy="439.35" r="1.45"/></g>
<g fill="#f5f1fb"><circle cx="270.21" cy="395.55" r="1.45"/><circle cx="259.20" cy="417.45" r="1.45"/><circle cx="288.56" cy="417.45" r="1.45"/></g>
<g fill="#e2dbf7"><circle cx="277.55" cy="395.55" r="1.45"/><circle cx="270.21" cy="399.20" r="1.45"/><circle cx="292.23" cy="399.20" r="1.45"/><circle cx="277.55" cy="417.45" r="1.45"/><circle cx="288.56" cy="428.40" r="1.45"/><circle cx="251.86" cy="432.05" r="1.45"/></g>
<g fill="#e5dff8"><circle cx="281.22" cy="395.55" r="1.45"/><circle cx="222.50" cy="417.45" r="1.45"/></g>
<g fill="#f7f4fc"><circle cx="284.89" cy="395.55" r="1.45"/><circle cx="240.85" cy="417.45" r="1.45"/></g>
<g fill="#fbf4f3"><circle cx="288.56" cy="395.55" r="1.45"/><circle cx="251.86" cy="402.85" r="1.45"/><circle cx="299.57" cy="402.85" r="1.45"/><circle cx="295.90" cy="410.15" r="1.45"/><circle cx="259.20" cy="424.75" r="1.45"/></g>
<g fill="#faede9"><circle cx="303.24" cy="395.55" r="1.45"/><circle cx="273.88" cy="399.20" r="1.45"/></g>
<g fill="#fae9e3"><circle cx="306.91" cy="395.55" r="1.45"/><circle cx="251.86" cy="417.45" r="1.45"/><circle cx="222.50" cy="421.10" r="1.45"/><circle cx="288.56" cy="424.75" r="1.45"/><circle cx="229.84" cy="432.05" r="1.45"/></g>
<g fill="#fbf5f4"><circle cx="222.50" cy="399.20" r="1.45"/><circle cx="281.22" cy="402.85" r="1.45"/><circle cx="303.24" cy="432.05" r="1.45"/><circle cx="240.85" cy="439.35" r="1.45"/></g>
<g fill="#e9e4f8"><circle cx="240.85" cy="399.20" r="1.45"/></g>
<g fill="#fbf7f7"><circle cx="244.52" cy="399.20" r="1.45"/><circle cx="240.85" cy="402.85" r="1.45"/><circle cx="288.56" cy="421.10" r="1.45"/></g>
<g fill="#faeae5"><circle cx="248.19" cy="399.20" r="1.45"/><circle cx="299.57" cy="406.50" r="1.45"/><circle cx="281.22" cy="424.75" r="1.45"/><circle cx="273.88" cy="428.40" r="1.45"/><circle cx="259.20" cy="439.35" r="1.45"/></g>
<g fill="#ede7f9"><circle cx="277.55" cy="399.20" r="1.45"/></g>
<g fill="#f3f0fb"><circle cx="295.90" cy="399.20" r="1.45"/><circle cx="244.52" cy="402.85" r="1.45"/><circle cx="229.84" cy="413.80" r="1.45"/><circle cx="244.52" cy="417.45" r="1.45"/></g>
<g fill="#faf7fd"><circle cx="306.91" cy="399.20" r="1.45"/><circle cx="255.53" cy="432.05" r="1.45"/></g>
<g fill="#fbf7f8"><circle cx="226.17" cy="402.85" r="1.45"/></g>
<g fill="#eae5f8"><circle cx="259.20" cy="402.85" r="1.45"/><circle cx="237.18" cy="410.15" r="1.45"/><circle cx="233.51" cy="432.05" r="1.45"/></g>
<g fill="#e7e0f8"><circle cx="277.55" cy="402.85" r="1.45"/><circle cx="240.85" cy="432.05" r="1.45"/></g>
<g fill="#f8f6fc"><circle cx="288.56" cy="402.85" r="1.45"/></g>
<g fill="#faede8"><circle cx="292.23" cy="402.85" r="1.45"/><circle cx="266.54" cy="432.05" r="1.45"/><circle cx="244.52" cy="435.70" r="1.45"/></g>
<g fill="#fae9e2"><circle cx="295.90" cy="402.85" r="1.45"/><circle cx="277.55" cy="424.75" r="1.45"/></g>
<g fill="#e8e2f8"><circle cx="303.24" cy="402.85" r="1.45"/></g>
<g fill="#ece7f9"><circle cx="306.91" cy="402.85" r="1.45"/><circle cx="233.51" cy="410.15" r="1.45"/><circle cx="248.19" cy="413.80" r="1.45"/><circle cx="244.52" cy="424.75" r="1.45"/><circle cx="303.24" cy="424.75" r="1.45"/></g>
<g fill="#e0d8f7"><circle cx="233.51" cy="406.50" r="1.45"/><circle cx="270.21" cy="417.45" r="1.45"/><circle cx="292.23" cy="424.75" r="1.45"/><circle cx="273.88" cy="435.70" r="1.45"/></g>
<g fill="#e3ddf7"><circle cx="244.52" cy="406.50" r="1.45"/></g>
<g fill="#f9f6fd"><circle cx="259.20" cy="406.50" r="1.45"/><circle cx="222.50" cy="432.05" r="1.45"/></g>
<g fill="#f4f0fb"><circle cx="270.21" cy="406.50" r="1.45"/><circle cx="270.21" cy="413.80" r="1.45"/><circle cx="266.54" cy="421.10" r="1.45"/><circle cx="295.90" cy="421.10" r="1.45"/><circle cx="248.19" cy="428.40" r="1.45"/><circle cx="248.19" cy="432.05" r="1.45"/><circle cx="262.87" cy="432.05" r="1.45"/><circle cx="248.19" cy="435.70" r="1.45"/><circle cx="259.20" cy="435.70" r="1.45"/></g>
<g fill="#f9e7e0"><circle cx="281.22" cy="406.50" r="1.45"/><circle cx="284.89" cy="410.15" r="1.45"/></g>
<g fill="#efebfa"><circle cx="292.23" cy="406.50" r="1.45"/><circle cx="306.91" cy="435.70" r="1.45"/></g>
<g fill="#e1d9f7"><circle cx="303.24" cy="406.50" r="1.45"/><circle cx="284.89" cy="421.10" r="1.45"/><circle cx="237.18" cy="428.40" r="1.45"/><circle cx="292.23" cy="435.70" r="1.45"/></g>
<g fill="#eee9fa"><circle cx="306.91" cy="406.50" r="1.45"/><circle cx="306.91" cy="421.10" r="1.45"/></g>
<g fill="#ebe5f9"><circle cx="240.85" cy="410.15" r="1.45"/><circle cx="255.53" cy="417.45" r="1.45"/><circle cx="244.52" cy="421.10" r="1.45"/><circle cx="299.57" cy="421.10" r="1.45"/><circle cx="240.85" cy="424.75" r="1.45"/><circle cx="266.54" cy="439.35" r="1.45"/></g>
<g fill="#f7f5fc"><circle cx="266.54" cy="410.15" r="1.45"/></g>
<g fill="#faf3f1"><circle cx="273.88" cy="410.15" r="1.45"/><circle cx="237.18" cy="439.35" r="1.45"/><circle cx="284.89" cy="439.35" r="1.45"/></g>
<g fill="#e2daf7"><circle cx="292.23" cy="410.15" r="1.45"/><circle cx="248.19" cy="417.45" r="1.45"/></g>
<g fill="#faf3f2"><circle cx="306.91" cy="410.15" r="1.45"/></g>
<g fill="#faebe5"><circle cx="222.50" cy="413.80" r="1.45"/></g>
<g fill="#f5f2fb"><circle cx="266.54" cy="417.45" r="1.45"/></g>
<g fill="#ece6f9"><circle cx="295.90" cy="417.45" r="1.45"/></g>
<g fill="#e4def7"><circle cx="259.20" cy="421.10" r="1.45"/></g>
<g fill="#f9e7df"><circle cx="233.51" cy="424.75" r="1.45"/></g>
<g fill="#e1daf7"><circle cx="248.19" cy="424.75" r="1.45"/><circle cx="229.84" cy="428.40" r="1.45"/><circle cx="229.84" cy="435.70" r="1.45"/></g>
<g fill="#efeafa"><circle cx="251.86" cy="424.75" r="1.45"/></g>
<g fill="#e7e1f8"><circle cx="295.90" cy="424.75" r="1.45"/></g>
<g fill="#faefec"><circle cx="273.88" cy="439.35" r="1.45"/></g>
</g>
<text x="222.50" y="379.40" class="s" font-size="2.6" text-anchor="middle" fill="#585858">1</text>
<text x="226.17" y="379.40" class="s" font-size="2.6" text-anchor="middle" fill="#585858">2</text>
<text x="229.84" y="379.40" class="s" font-size="2.6" text-anchor="middle" fill="#585858">3</text>
<text x="233.51" y="379.40" class="s" font-size="2.6" text-anchor="middle" fill="#585858">4</text>
<text x="237.18" y="379.40" class="s" font-size="2.6" text-anchor="middle" fill="#585858">5</text>
<text x="240.85" y="379.40" class="s" font-size="2.6" text-anchor="middle" fill="#585858">6</text>
<text x="244.52" y="379.40" class="s" font-size="2.6" text-anchor="middle" fill="#585858">7</text>
<text x="248.19" y="379.40" class="s" font-size="2.6" text-anchor="middle" fill="#585858">8</text>
<text x="251.86" y="379.40" class="s" font-size="2.6" text-anchor="middle" fill="#585858">9</text>
<text x="255.53" y="379.40" class="s" font-size="2.6" text-anchor="middle" fill="#585858">10</text>
<text x="259.20" y="379.40" class="s" font-size="2.6" text-anchor="middle" fill="#585858">11</text>
<text x="262.87" y="379.40" class="s" font-size="2.6" text-anchor="middle" fill="#585858">12</text>
<text x="266.54" y="379.40" class="s" font-size="2.6" text-anchor="middle" fill="#585858">13</text>
<text x="270.21" y="379.40" class="s" font-size="2.6" text-anchor="middle" fill="#585858">14</text>
<text x="273.88" y="379.40" class="s" font-size="2.6" text-anchor="middle" fill="#585858">15</text>
<text x="277.55" y="379.40" class="s" font-size="2.6" text-anchor="middle" fill="#585858">16</text>
<text x="281.22" y="379.40" class="s" font-size="2.6" text-anchor="middle" fill="#585858">17</text>
<text x="284.89" y="379.40" class="s" font-size="2.6" text-anchor="middle" fill="#585858">18</text>
<text x="288.56" y="379.40" class="s" font-size="2.6" text-anchor="middle" fill="#585858">19</text>
<text x="292.23" y="379.40" class="s" font-size="2.6" text-anchor="middle" fill="#585858">20</text>
<text x="295.90" y="379.40" class="s" font-size="2.6" text-anchor="middle" fill="#585858">21</text>
<text x="299.57" y="379.40" class="s" font-size="2.6" text-anchor="middle" fill="#585858">22</text>
<text x="303.24" y="379.40" class="s" font-size="2.6" text-anchor="middle" fill="#585858">23</text>
<text x="306.91" y="379.40" class="s" font-size="2.6" text-anchor="middle" fill="#585858">24</text>
<text x="215.40" y="385.55" class="s" font-size="2.5" text-anchor="end" fill="#666">A</text>
<text x="215.40" y="389.20" class="s" font-size="2.5" text-anchor="end" fill="#666">B</text>
<text x="215.40" y="392.85" class="s" font-size="2.5" text-anchor="end" fill="#666">C</text>
<text x="215.40" y="396.50" class="s" font-size="2.5" text-anchor="end" fill="#666">D</text>
<text x="215.40" y="400.15" class="s" font-size="2.5" text-anchor="end" fill="#666">E</text>
<text x="215.40" y="403.80" class="s" font-size="2.5" text-anchor="end" fill="#666">F</text>
<text x="215.40" y="407.45" class="s" font-size="2.5" text-anchor="end" fill="#666">G</text>
<text x="215.40" y="411.10" class="s" font-size="2.5" text-anchor="end" fill="#666">H</text>
<text x="215.40" y="414.75" class="s" font-size="2.5" text-anchor="end" fill="#666">I</text>
<text x="215.40" y="418.40" class="s" font-size="2.5" text-anchor="end" fill="#666">J</text>
<text x="215.40" y="422.05" class="s" font-size="2.5" text-anchor="end" fill="#666">K</text>
<text x="215.40" y="425.70" class="s" font-size="2.5" text-anchor="end" fill="#666">L</text>
<text x="215.40" y="429.35" class="s" font-size="2.5" text-anchor="end" fill="#666">M</text>
<text x="215.40" y="433.00" class="s" font-size="2.5" text-anchor="end" fill="#666">N</text>
<text x="215.40" y="436.65" class="s" font-size="2.5" text-anchor="end" fill="#666">O</text>
<text x="215.40" y="440.30" class="s" font-size="2.5" text-anchor="end" fill="#666">P</text>
<text x="263.90" y="451.90" class="r" font-size="9.7" text-anchor="middle" textLength="23.9" lengthAdjust="spacingAndGlyphs">Day 5</text>
<rect x="11.15" y="461.40" width="97.1" height="63.2" fill="#fff" stroke="#c4c4c4" stroke-width="0.5"/>
<g stroke="#a4a4a4" stroke-width="0.44">
<g fill="#faebe5"><circle cx="17.40" cy="465.60" r="1.45"/><circle cx="90.80" cy="469.25" r="1.45"/></g>
<g fill="#a89cf1"><circle cx="21.07" cy="465.60" r="1.45"/><circle cx="98.14" cy="469.25" r="1.45"/><circle cx="39.42" cy="472.90" r="1.45"/><circle cx="61.44" cy="472.90" r="1.45"/><circle cx="83.46" cy="472.90" r="1.45"/><circle cx="68.78" cy="476.55" r="1.45"/><circle cx="72.45" cy="476.55" r="1.45"/><circle cx="98.14" cy="480.20" r="1.45"/><circle cx="98.14" cy="491.15" r="1.45"/><circle cx="57.77" cy="494.80" r="1.45"/><circle cx="17.40" cy="498.45" r="1.45"/><circle cx="76.12" cy="498.45" r="1.45"/><circle cx="94.47" cy="509.40" r="1.45"/><circle cx="76.12" cy="513.05" r="1.45"/><circle cx="83.46" cy="513.05" r="1.45"/><circle cx="87.13" cy="513.05" r="1.45"/><circle cx="90.80" cy="513.05" r="1.45"/><circle cx="98.14" cy="520.35" r="1.45"/></g>
<g fill="#f5f1fb"><circle cx="24.74" cy="465.60" r="1.45"/><circle cx="79.79" cy="469.25" r="1.45"/><circle cx="98.14" cy="476.55" r="1.45"/><circle cx="46.76" cy="498.45" r="1.45"/><circle cx="24.74" cy="502.10" r="1.45"/><circle cx="90.80" cy="502.10" r="1.45"/><circle cx="50.43" cy="505.75" r="1.45"/><circle cx="61.44" cy="513.05" r="1.45"/><circle cx="28.41" cy="516.70" r="1.45"/></g>
<g fill="#f6f3fc"><circle cx="28.41" cy="465.60" r="1.45"/><circle cx="68.78" cy="472.90" r="1.45"/><circle cx="76.12" cy="476.55" r="1.45"/><circle cx="28.41" cy="487.50" r="1.45"/><circle cx="57.77" cy="498.45" r="1.45"/><circle cx="79.79" cy="498.45" r="1.45"/><circle cx="83.46" cy="502.10" r="1.45"/><circle cx="54.10" cy="516.70" r="1.45"/><circle cx="17.40" cy="520.35" r="1.45"/></g>
<g fill="#efebfa"><circle cx="32.08" cy="465.60" r="1.45"/><circle cx="57.77" cy="465.60" r="1.45"/><circle cx="94.47" cy="505.75" r="1.45"/></g>
<g fill="#fbf9fa"><circle cx="35.75" cy="465.60" r="1.45"/><circle cx="21.07" cy="483.85" r="1.45"/></g>
<g fill="#f1edfa"><circle cx="39.42" cy="465.60" r="1.45"/><circle cx="24.74" cy="476.55" r="1.45"/><circle cx="46.76" cy="487.50" r="1.45"/><circle cx="68.78" cy="487.50" r="1.45"/><circle cx="83.46" cy="491.15" r="1.45"/><circle cx="101.81" cy="491.15" r="1.45"/><circle cx="65.11" cy="494.80" r="1.45"/><circle cx="24.74" cy="498.45" r="1.45"/><circle cx="76.12" cy="505.75" r="1.45"/><circle cx="21.07" cy="516.70" r="1.45"/><circle cx="101.81" cy="516.70" r="1.45"/></g>
<g fill="#faf2f0"><circle cx="43.09" cy="465.60" r="1.45"/></g>
<g fill="#e9e3f8"><circle cx="46.76" cy="465.60" r="1.45"/><circle cx="50.43" cy="476.55" r="1.45"/><circle cx="50.43" cy="494.80" r="1.45"/><circle cx="54.10" cy="494.80" r="1.45"/><circle cx="46.76" cy="513.05" r="1.45"/></g>
<g fill="#fbf7f6"><circle cx="50.43" cy="465.60" r="1.45"/></g>
<g fill="#e3dcf7"><circle cx="54.10" cy="465.60" r="1.45"/><circle cx="90.80" cy="476.55" r="1.45"/><circle cx="101.81" cy="476.55" r="1.45"/><circle cx="32.08" cy="516.70" r="1.45"/></g>
<g fill="#faf8fd"><circle cx="61.44" cy="465.60" r="1.45"/><circle cx="79.79" cy="487.50" r="1.45"/><circle cx="68.78" cy="498.45" r="1.45"/></g>
<g fill="#faf1ee"><circle cx="65.11" cy="465.60" r="1.45"/><circle cx="35.75" cy="472.90" r="1.45"/><circle cx="43.09" cy="509.40" r="1.45"/></g>
<g fill="#faf3f1"><circle cx="68.78" cy="465.60" r="1.45"/></g>
<g fill="#eae4f8"><circle cx="72.45" cy="465.60" r="1.45"/><circle cx="43.09" cy="494.80" r="1.45"/><circle cx="24.74" cy="516.70" r="1.45"/></g>
<g fill="#ebe5f9"><circle cx="76.12" cy="465.60" r="1.45"/><circle cx="54.10" cy="469.25" r="1.45"/><circle cx="39.42" cy="483.85" r="1.45"/><circle cx="79.79" cy="491.15" r="1.45"/><circle cx="87.13" cy="502.10" r="1.45"/></g>
<g fill="#f3f0fb"><circle cx="79.79" cy="465.60" r="1.45"/><circle cx="35.75" cy="469.25" r="1.45"/><circle cx="32.08" cy="509.40" r="1.45"/><circle cx="61.44" cy="509.40" r="1.45"/><circle cx="28.41" cy="513.05" r="1.45"/></g>
<g fill="#e2dbf7"><circle cx="83.46" cy="465.60" r="1.45"/><circle cx="28.41" cy="469.25" r="1.45"/><circle cx="39.42" cy="469.25" r="1.45"/><circle cx="43.09" cy="469.25" r="1.45"/><circle cx="72.45" cy="469.25" r="1.45"/><circle cx="76.12" cy="491.15" r="1.45"/><circle cx="50.43" cy="509.40" r="1.45"/><circle cx="90.80" cy="509.40" r="1.45"/><circle cx="94.47" cy="520.35" r="1.45"/></g>
<g fill="#efeafa"><circle cx="87.13" cy="465.60" r="1.45"/><circle cx="21.07" cy="480.20" r="1.45"/><circle cx="101.81" cy="487.50" r="1.45"/><circle cx="50.43" cy="516.70" r="1.45"/><circle cx="68.78" cy="516.70" r="1.45"/></g>
<g fill="#c9bef4"><circle cx="90.80" cy="465.60" r="1.45"/><circle cx="68.78" cy="469.25" r="1.45"/><circle cx="17.40" cy="472.90" r="1.45"/><circle cx="39.42" cy="480.20" r="1.45"/><circle cx="72.45" cy="483.85" r="1.45"/><circle cx="98.14" cy="502.10" r="1.45"/><circle cx="28.41" cy="505.75" r="1.45"/><circle cx="35.75" cy="505.75" r="1.45"/><circle cx="57.77" cy="513.05" r="1.45"/><circle cx="94.47" cy="513.05" r="1.45"/><circle cx="98.14" cy="516.70" r="1.45"/></g>
<g fill="#f4f1fb"><circle cx="94.47" cy="465.60" r="1.45"/><circle cx="54.10" cy="476.55" r="1.45"/><circle cx="32.08" cy="483.85" r="1.45"/><circle cx="101.81" cy="494.80" r="1.45"/><circle cx="28.41" cy="498.45" r="1.45"/><circle cx="43.09" cy="502.10" r="1.45"/><circle cx="54.10" cy="502.10" r="1.45"/><circle cx="57.77" cy="502.10" r="1.45"/><circle cx="46.76" cy="520.35" r="1.45"/></g>
<g fill="#887df1"><circle cx="98.14" cy="465.60" r="1.45"/><circle cx="61.44" cy="469.25" r="1.45"/><circle cx="65.11" cy="469.25" r="1.45"/><circle cx="76.12" cy="472.90" r="1.45"/><circle cx="17.40" cy="476.55" r="1.45"/><circle cx="94.47" cy="480.20" r="1.45"/><circle cx="68.78" cy="483.85" r="1.45"/><circle cx="61.44" cy="505.75" r="1.45"/><circle cx="65.11" cy="505.75" r="1.45"/><circle cx="68.78" cy="505.75" r="1.45"/><circle cx="17.40" cy="509.40" r="1.45"/><circle cx="79.79" cy="513.05" r="1.45"/></g>
<g fill="#ece7f9"><circle cx="101.81" cy="465.60" r="1.45"/><circle cx="72.45" cy="513.05" r="1.45"/></g>
<g fill="#f8f5fc"><circle cx="17.40" cy="469.25" r="1.45"/><circle cx="61.44" cy="494.80" r="1.45"/></g>
<g fill="#dad2f6"><circle cx="21.07" cy="469.25" r="1.45"/><circle cx="43.09" cy="472.90" r="1.45"/><circle cx="46.76" cy="472.90" r="1.45"/><circle cx="65.11" cy="472.90" r="1.45"/><circle cx="61.44" cy="476.55" r="1.45"/><circle cx="65.11" cy="476.55" r="1.45"/><circle cx="68.78" cy="480.20" r="1.45"/><circle cx="76.12" cy="480.20" r="1.45"/><circle cx="94.47" cy="487.50" r="1.45"/><circle cx="94.47" cy="494.80" r="1.45"/><circle cx="21.07" cy="498.45" r="1.45"/><circle cx="98.14" cy="498.45" r="1.45"/><circle cx="46.76" cy="502.10" r="1.45"/><circle cx="50.43" cy="502.10" r="1.45"/><circle cx="68.78" cy="502.10" r="1.45"/><circle cx="39.42" cy="505.75" r="1.45"/><circle cx="21.07" cy="509.40" r="1.45"/><circle cx="24.74" cy="509.40" r="1.45"/><circle cx="65.11" cy="516.70" r="1.45"/><circle cx="61.44" cy="520.35" r="1.45"/><circle cx="65.11" cy="520.35" r="1.45"/><circle cx="68.78" cy="520.35" r="1.45"/><circle cx="72.45" cy="520.35" r="1.45"/></g>
<g fill="#fbf7f7"><circle cx="24.74" cy="469.25" r="1.45"/><circle cx="83.46" cy="476.55" r="1.45"/><circle cx="21.07" cy="491.15" r="1.45"/><circle cx="65.11" cy="491.15" r="1.45"/><circle cx="50.43" cy="513.05" r="1.45"/></g>
<g fill="#e2daf7"><circle cx="32.08" cy="469.25" r="1.45"/><circle cx="79.79" cy="516.70" r="1.45"/></g>
<g fill="#f0ebfa"><circle cx="46.76" cy="469.25" r="1.45"/><circle cx="90.80" cy="483.85" r="1.45"/><circle cx="43.09" cy="487.50" r="1.45"/><circle cx="98.14" cy="487.50" r="1.45"/><circle cx="54.10" cy="498.45" r="1.45"/><circle cx="32.08" cy="520.35" r="1.45"/></g>
<g fill="#ebe6f9"><circle cx="50.43" cy="469.25" r="1.45"/><circle cx="28.41" cy="472.90" r="1.45"/><circle cx="54.10" cy="505.75" r="1.45"/></g>
<g fill="#5650f4"><circle cx="57.77" cy="469.25" r="1.45"/><circle cx="57.77" cy="472.90" r="1.45"/><circle cx="79.79" cy="472.90" r="1.45"/><circle cx="94.47" cy="476.55" r="1.45"/><circle cx="57.77" cy="483.85" r="1.45"/><circle cx="61.44" cy="483.85" r="1.45"/><circle cx="76.12" cy="494.80" r="1.45"/><circle cx="79.79" cy="494.80" r="1.45"/><circle cx="87.13" cy="494.80" r="1.45"/><circle cx="21.07" cy="505.75" r="1.45"/><circle cx="94.47" cy="516.70" r="1.45"/><circle cx="21.07" cy="520.35" r="1.45"/></g>
<g fill="#e6dff8"><circle cx="76.12" cy="469.25" r="1.45"/><circle cx="28.41" cy="483.85" r="1.45"/><circle cx="50.43" cy="487.50" r="1.45"/><circle cx="28.41" cy="502.10" r="1.45"/><circle cx="101.81" cy="502.10" r="1.45"/><circle cx="83.46" cy="516.70" r="1.45"/></g>
<g fill="#fbf4f2"><circle cx="83.46" cy="469.25" r="1.45"/><circle cx="72.45" cy="472.90" r="1.45"/><circle cx="17.40" cy="483.85" r="1.45"/><circle cx="94.47" cy="498.45" r="1.45"/><circle cx="21.07" cy="513.05" r="1.45"/></g>
<g fill="#ede8f9"><circle cx="87.13" cy="469.25" r="1.45"/><circle cx="35.75" cy="476.55" r="1.45"/><circle cx="79.79" cy="476.55" r="1.45"/><circle cx="32.08" cy="480.20" r="1.45"/><circle cx="54.10" cy="480.20" r="1.45"/><circle cx="46.76" cy="491.15" r="1.45"/><circle cx="90.80" cy="498.45" r="1.45"/><circle cx="32.08" cy="505.75" r="1.45"/><circle cx="65.11" cy="513.05" r="1.45"/><circle cx="35.75" cy="516.70" r="1.45"/></g>
<g fill="#eae5f8"><circle cx="94.47" cy="469.25" r="1.45"/><circle cx="94.47" cy="483.85" r="1.45"/><circle cx="35.75" cy="498.45" r="1.45"/><circle cx="21.07" cy="502.10" r="1.45"/></g>
<g fill="#f9f7fd"><circle cx="101.81" cy="469.25" r="1.45"/><circle cx="94.47" cy="472.90" r="1.45"/><circle cx="65.11" cy="487.50" r="1.45"/><circle cx="65.11" cy="509.40" r="1.45"/><circle cx="24.74" cy="520.35" r="1.45"/><circle cx="57.77" cy="520.35" r="1.45"/></g>
<g fill="#e7e0f8"><circle cx="21.07" cy="472.90" r="1.45"/><circle cx="90.80" cy="472.90" r="1.45"/></g>
<g fill="#f5f2fc"><circle cx="24.74" cy="472.90" r="1.45"/><circle cx="61.44" cy="480.20" r="1.45"/><circle cx="54.10" cy="483.85" r="1.45"/><circle cx="61.44" cy="498.45" r="1.45"/><circle cx="72.45" cy="498.45" r="1.45"/><circle cx="39.42" cy="502.10" r="1.45"/><circle cx="24.74" cy="513.05" r="1.45"/><circle cx="57.77" cy="516.70" r="1.45"/></g>
<g fill="#f7f4fc"><circle cx="32.08" cy="472.90" r="1.45"/><circle cx="32.08" cy="476.55" r="1.45"/><circle cx="87.13" cy="476.55" r="1.45"/><circle cx="43.09" cy="491.15" r="1.45"/><circle cx="72.45" cy="491.15" r="1.45"/><circle cx="94.47" cy="502.10" r="1.45"/><circle cx="79.79" cy="505.75" r="1.45"/><circle cx="76.12" cy="516.70" r="1.45"/></g>
<g fill="#eee9f9"><circle cx="50.43" cy="472.90" r="1.45"/><circle cx="21.07" cy="476.55" r="1.45"/><circle cx="39.42" cy="491.15" r="1.45"/></g>
<g fill="#fbf4f3"><circle cx="54.10" cy="472.90" r="1.45"/><circle cx="46.76" cy="476.55" r="1.45"/><circle cx="28.41" cy="480.20" r="1.45"/><circle cx="43.09" cy="483.85" r="1.45"/><circle cx="46.76" cy="483.85" r="1.45"/><circle cx="17.40" cy="491.15" r="1.45"/><circle cx="28.41" cy="491.15" r="1.45"/><circle cx="50.43" cy="498.45" r="1.45"/><circle cx="98.14" cy="505.75" r="1.45"/><circle cx="39.42" cy="509.40" r="1.45"/><circle cx="61.44" cy="516.70" r="1.45"/></g>
<g fill="#f6f2fc"><circle cx="87.13" cy="472.90" r="1.45"/></g>
<g fill="#e7e1f8"><circle cx="98.14" cy="472.90" r="1.45"/><circle cx="72.45" cy="502.10" r="1.45"/><circle cx="17.40" cy="505.75" r="1.45"/><circle cx="39.42" cy="513.05" r="1.45"/></g>
<g fill="#e9e4f8"><circle cx="101.81" cy="472.90" r="1.45"/></g>
<g fill="#f3effb"><circle cx="28.41" cy="476.55" r="1.45"/><circle cx="46.76" cy="480.20" r="1.45"/><circle cx="35.75" cy="483.85" r="1.45"/><circle cx="76.12" cy="483.85" r="1.45"/><circle cx="28.41" cy="509.40" r="1.45"/></g>
<g fill="#e8e2f8"><circle cx="39.42" cy="476.55" r="1.45"/><circle cx="79.79" cy="480.20" r="1.45"/><circle cx="76.12" cy="487.50" r="1.45"/><circle cx="87.13" cy="498.45" r="1.45"/><circle cx="65.11" cy="502.10" r="1.45"/><circle cx="17.40" cy="513.05" r="1.45"/><circle cx="54.10" cy="513.05" r="1.45"/></g>
<g fill="#eee9fa"><circle cx="43.09" cy="476.55" r="1.45"/></g>
<g fill="#fbf9f9"><circle cx="57.77" cy="476.55" r="1.45"/><circle cx="61.44" cy="487.50" r="1.45"/></g>
<g fill="#e5dff8"><circle cx="17.40" cy="480.20" r="1.45"/></g>
<g fill="#beb2f3"><circle cx="24.74" cy="480.20" r="1.45"/><circle cx="98.14" cy="483.85" r="1.45"/><circle cx="72.45" cy="505.75" r="1.45"/></g>
<g fill="#faf0ec"><circle cx="35.75" cy="480.20" r="1.45"/></g>
<g fill="#f8f6fc"><circle cx="43.09" cy="480.20" r="1.45"/><circle cx="72.45" cy="487.50" r="1.45"/><circle cx="87.13" cy="505.75" r="1.45"/><circle cx="35.75" cy="520.35" r="1.45"/><circle cx="79.79" cy="520.35" r="1.45"/></g>
<g fill="#faebe6"><circle cx="50.43" cy="480.20" r="1.45"/><circle cx="46.76" cy="494.80" r="1.45"/></g>
<g fill="#f9e8e1"><circle cx="57.77" cy="480.20" r="1.45"/><circle cx="35.75" cy="487.50" r="1.45"/><circle cx="21.07" cy="494.80" r="1.45"/><circle cx="32.08" cy="502.10" r="1.45"/><circle cx="72.45" cy="516.70" r="1.45"/></g>
<g fill="#f2effb"><circle cx="65.11" cy="480.20" r="1.45"/><circle cx="24.74" cy="494.80" r="1.45"/><circle cx="90.80" cy="505.75" r="1.45"/><circle cx="101.81" cy="509.40" r="1.45"/></g>
<g fill="#e1daf7"><circle cx="72.45" cy="480.20" r="1.45"/></g>
<g fill="#faf0ed"><circle cx="83.46" cy="480.20" r="1.45"/><circle cx="98.14" cy="494.80" r="1.45"/><circle cx="68.78" cy="513.05" r="1.45"/></g>
<g fill="#dfd8f7"><circle cx="87.13" cy="480.20" r="1.45"/><circle cx="24.74" cy="483.85" r="1.45"/><circle cx="17.40" cy="502.10" r="1.45"/><circle cx="43.09" cy="520.35" r="1.45"/></g>
<g fill="#f2eefb"><circle cx="90.80" cy="480.20" r="1.45"/><circle cx="50.43" cy="483.85" r="1.45"/><circle cx="87.13" cy="483.85" r="1.45"/><circle cx="32.08" cy="513.05" r="1.45"/><circle cx="35.75" cy="513.05" r="1.45"/></g>
<g fill="#ede7f9"><circle cx="101.81" cy="480.20" r="1.45"/><circle cx="87.13" cy="520.35" r="1.45"/></g>
<g fill="#766df2"><circle cx="65.11" cy="483.85" r="1.45"/><circle cx="83.46" cy="494.80" r="1.45"/><circle cx="90.80" cy="494.80" r="1.45"/><circle cx="24.74" cy="505.75" r="1.45"/></g>
<g fill="#f4f0fb"><circle cx="79.79" cy="483.85" r="1.45"/><circle cx="101.81" cy="483.85" r="1.45"/><circle cx="32.08" cy="491.15" r="1.45"/><circle cx="35.75" cy="509.40" r="1.45"/><circle cx="98.14" cy="509.40" r="1.45"/></g>
<g fill="#faefeb"><circle cx="83.46" cy="483.85" r="1.45"/></g>
<g fill="#ece6f9"><circle cx="17.40" cy="487.50" r="1.45"/><circle cx="101.81" cy="520.35" r="1.45"/></g>
<g fill="#f9f6fd"><circle cx="21.07" cy="487.50" r="1.45"/><circle cx="17.40" cy="494.80" r="1.45"/><circle cx="76.12" cy="502.10" r="1.45"/></g>
<g fill="#faf2f1"><circle cx="24.74" cy="487.50" r="1.45"/><circle cx="57.77" cy="509.40" r="1.45"/></g>
<g fill="#e6e0f8"><circle cx="32.08" cy="487.50" r="1.45"/><circle cx="90.80" cy="491.15" r="1.45"/></g>
<g fill="#e0d8f7"><circle cx="39.42" cy="487.50" r="1.45"/><circle cx="72.45" cy="494.80" r="1.45"/><circle cx="61.44" cy="502.10" r="1.45"/><circle cx="79.79" cy="502.10" r="1.45"/><circle cx="72.45" cy="509.40" r="1.45"/><circle cx="76.12" cy="509.40" r="1.45"/><circle cx="79.79" cy="509.40" r="1.45"/><circle cx="87.13" cy="509.40" r="1.45"/><circle cx="98.14" cy="513.05" r="1.45"/></g>
<g fill="#eeeafa"><circle cx="54.10" cy="487.50" r="1.45"/><circle cx="68.78" cy="509.40" r="1.45"/><circle cx="46.76" cy="516.70" r="1.45"/></g>
<g fill="#e4def7"><circle cx="57.77" cy="487.50" r="1.45"/></g>
<g fill="#f9e8e2"><circle cx="83.46" cy="487.50" r="1.45"/><circle cx="68.78" cy="491.15" r="1.45"/></g>
<g fill="#fbf5f4"><circle cx="87.13" cy="487.50" r="1.45"/><circle cx="35.75" cy="494.80" r="1.45"/><circle cx="101.81" cy="513.05" r="1.45"/></g>
<g fill="#e4ddf7"><circle cx="90.80" cy="487.50" r="1.45"/><circle cx="61.44" cy="491.15" r="1.45"/><circle cx="32.08" cy="498.45" r="1.45"/><circle cx="54.10" cy="520.35" r="1.45"/><circle cx="76.12" cy="520.35" r="1.45"/></g>
<g fill="#faeeea"><circle cx="24.74" cy="491.15" r="1.45"/><circle cx="90.80" cy="516.70" r="1.45"/></g>
<g fill="#f7f5fc"><circle cx="35.75" cy="491.15" r="1.45"/><circle cx="90.80" cy="520.35" r="1.45"/></g>
<g fill="#fbf6f6"><circle cx="50.43" cy="491.15" r="1.45"/><circle cx="39.42" cy="498.45" r="1.45"/><circle cx="101.81" cy="498.45" r="1.45"/></g>
<g fill="#ebe5f8"><circle cx="54.10" cy="491.15" r="1.45"/></g>
<g fill="#faf1ef"><circle cx="57.77" cy="491.15" r="1.45"/></g>
<g fill="#fae9e2"><circle cx="87.13" cy="491.15" r="1.45"/></g>
<g fill="#e5def7"><circle cx="94.47" cy="491.15" r="1.45"/><circle cx="46.76" cy="509.40" r="1.45"/><circle cx="83.46" cy="520.35" r="1.45"/></g>
<g fill="#faeae4"><circle cx="28.41" cy="494.80" r="1.45"/><circle cx="83.46" cy="498.45" r="1.45"/><circle cx="17.40" cy="516.70" r="1.45"/></g>
<g fill="#faede9"><circle cx="32.08" cy="494.80" r="1.45"/><circle cx="28.41" cy="520.35" r="1.45"/></g>
<g fill="#faeeeb"><circle cx="39.42" cy="494.80" r="1.45"/><circle cx="39.42" cy="520.35" r="1.45"/></g>
<g fill="#e0d9f7"><circle cx="68.78" cy="494.80" r="1.45"/><circle cx="43.09" cy="513.05" r="1.45"/></g>
<g fill="#f5f2fb"><circle cx="43.09" cy="498.45" r="1.45"/><circle cx="46.76" cy="505.75" r="1.45"/></g>
<g fill="#e3dbf7"><circle cx="65.11" cy="498.45" r="1.45"/></g>
<g fill="#f0ecfa"><circle cx="35.75" cy="502.10" r="1.45"/></g>
<g fill="#f1ecfa"><circle cx="43.09" cy="505.75" r="1.45"/></g>
<g fill="#fbf6f5"><circle cx="57.77" cy="505.75" r="1.45"/><circle cx="39.42" cy="516.70" r="1.45"/></g>
<g fill="#faeae5"><circle cx="83.46" cy="505.75" r="1.45"/></g>
<g fill="#faefec"><circle cx="101.81" cy="505.75" r="1.45"/><circle cx="83.46" cy="509.40" r="1.45"/></g>
<g fill="#f9e6de"><circle cx="54.10" cy="509.40" r="1.45"/></g>
<g fill="#fbf5f5"><circle cx="43.09" cy="516.70" r="1.45"/></g>
<g fill="#e5dff7"><circle cx="87.13" cy="516.70" r="1.45"/></g>
<g fill="#f6f4fc"><circle cx="50.43" cy="520.35" r="1.45"/></g>
</g>
<text x="17.40" y="460.50" class="s" font-size="2.6" text-anchor="middle" fill="#585858">1</text>
<text x="21.07" y="460.50" class="s" font-size="2.6" text-anchor="middle" fill="#585858">2</text>
<text x="24.74" y="460.50" class="s" font-size="2.6" text-anchor="middle" fill="#585858">3</text>
<text x="28.41" y="460.50" class="s" font-size="2.6" text-anchor="middle" fill="#585858">4</text>
<text x="32.08" y="460.50" class="s" font-size="2.6" text-anchor="middle" fill="#585858">5</text>
<text x="35.75" y="460.50" class="s" font-size="2.6" text-anchor="middle" fill="#585858">6</text>
<text x="39.42" y="460.50" class="s" font-size="2.6" text-anchor="middle" fill="#585858">7</text>
<text x="43.09" y="460.50" class="s" font-size="2.6" text-anchor="middle" fill="#585858">8</text>
<text x="46.76" y="460.50" class="s" font-size="2.6" text-anchor="middle" fill="#585858">9</text>
<text x="50.43" y="460.50" class="s" font-size="2.6" text-anchor="middle" fill="#585858">10</text>
<text x="54.10" y="460.50" class="s" font-size="2.6" text-anchor="middle" fill="#585858">11</text>
<text x="57.77" y="460.50" class="s" font-size="2.6" text-anchor="middle" fill="#585858">12</text>
<text x="61.44" y="460.50" class="s" font-size="2.6" text-anchor="middle" fill="#585858">13</text>
<text x="65.11" y="460.50" class="s" font-size="2.6" text-anchor="middle" fill="#585858">14</text>
<text x="68.78" y="460.50" class="s" font-size="2.6" text-anchor="middle" fill="#585858">15</text>
<text x="72.45" y="460.50" class="s" font-size="2.6" text-anchor="middle" fill="#585858">16</text>
<text x="76.12" y="460.50" class="s" font-size="2.6" text-anchor="middle" fill="#585858">17</text>
<text x="79.79" y="460.50" class="s" font-size="2.6" text-anchor="middle" fill="#585858">18</text>
<text x="83.46" y="460.50" class="s" font-size="2.6" text-anchor="middle" fill="#585858">19</text>
<text x="87.13" y="460.50" class="s" font-size="2.6" text-anchor="middle" fill="#585858">20</text>
<text x="90.80" y="460.50" class="s" font-size="2.6" text-anchor="middle" fill="#585858">21</text>
<text x="94.47" y="460.50" class="s" font-size="2.6" text-anchor="middle" fill="#585858">22</text>
<text x="98.14" y="460.50" class="s" font-size="2.6" text-anchor="middle" fill="#585858">23</text>
<text x="101.81" y="460.50" class="s" font-size="2.6" text-anchor="middle" fill="#585858">24</text>
<text x="10.35" y="466.55" class="s" font-size="2.5" text-anchor="end" fill="#666">A</text>
<text x="10.35" y="470.20" class="s" font-size="2.5" text-anchor="end" fill="#666">B</text>
<text x="10.35" y="473.85" class="s" font-size="2.5" text-anchor="end" fill="#666">C</text>
<text x="10.35" y="477.50" class="s" font-size="2.5" text-anchor="end" fill="#666">D</text>
<text x="10.35" y="481.15" class="s" font-size="2.5" text-anchor="end" fill="#666">E</text>
<text x="10.35" y="484.80" class="s" font-size="2.5" text-anchor="end" fill="#666">F</text>
<text x="10.35" y="488.45" class="s" font-size="2.5" text-anchor="end" fill="#666">G</text>
<text x="10.35" y="492.10" class="s" font-size="2.5" text-anchor="end" fill="#666">H</text>
<text x="10.35" y="495.75" class="s" font-size="2.5" text-anchor="end" fill="#666">I</text>
<text x="10.35" y="499.40" class="s" font-size="2.5" text-anchor="end" fill="#666">J</text>
<text x="10.35" y="503.05" class="s" font-size="2.5" text-anchor="end" fill="#666">K</text>
<text x="10.35" y="506.70" class="s" font-size="2.5" text-anchor="end" fill="#666">L</text>
<text x="10.35" y="510.35" class="s" font-size="2.5" text-anchor="end" fill="#666">M</text>
<text x="10.35" y="514.00" class="s" font-size="2.5" text-anchor="end" fill="#666">N</text>
<text x="10.35" y="517.65" class="s" font-size="2.5" text-anchor="end" fill="#666">O</text>
<text x="10.35" y="521.30" class="s" font-size="2.5" text-anchor="end" fill="#666">P</text>
<text x="58.30" y="534.00" class="r" font-size="9.7" text-anchor="middle" textLength="40.6" lengthAdjust="spacingAndGlyphs">Day 7 live</text>
<text x="58.50" y="544.60" class="r" font-size="9.7" text-anchor="middle" textLength="52.7" lengthAdjust="spacingAndGlyphs">Cytation C10</text>
<rect x="113.50" y="461.40" width="97.1" height="63.2" fill="#fff" stroke="#c4c4c4" stroke-width="0.5"/>
<g stroke="#a4a4a4" stroke-width="0.44">
<g fill="#f8d3c3"><circle cx="119.60" cy="465.60" r="1.45"/><circle cx="204.01" cy="465.60" r="1.45"/><circle cx="119.60" cy="469.25" r="1.45"/><circle cx="126.94" cy="469.25" r="1.45"/><circle cx="137.95" cy="469.25" r="1.45"/><circle cx="204.01" cy="469.25" r="1.45"/><circle cx="204.01" cy="472.90" r="1.45"/></g>
<g fill="#dad2f6"><circle cx="123.27" cy="465.60" r="1.45"/><circle cx="163.64" cy="469.25" r="1.45"/><circle cx="126.94" cy="472.90" r="1.45"/><circle cx="163.64" cy="472.90" r="1.45"/><circle cx="137.95" cy="476.55" r="1.45"/><circle cx="181.99" cy="483.85" r="1.45"/><circle cx="123.27" cy="487.50" r="1.45"/><circle cx="126.94" cy="487.50" r="1.45"/><circle cx="148.96" cy="487.50" r="1.45"/><circle cx="196.67" cy="487.50" r="1.45"/><circle cx="196.67" cy="498.45" r="1.45"/><circle cx="174.65" cy="505.75" r="1.45"/><circle cx="119.60" cy="509.40" r="1.45"/><circle cx="200.34" cy="509.40" r="1.45"/><circle cx="204.01" cy="509.40" r="1.45"/><circle cx="196.67" cy="513.05" r="1.45"/><circle cx="126.94" cy="520.35" r="1.45"/><circle cx="130.61" cy="520.35" r="1.45"/><circle cx="134.28" cy="520.35" r="1.45"/><circle cx="200.34" cy="520.35" r="1.45"/></g>
<g fill="#dfd8f7"><circle cx="126.94" cy="465.60" r="1.45"/></g>
<g fill="#e4ddf7"><circle cx="130.61" cy="465.60" r="1.45"/><circle cx="156.30" cy="469.25" r="1.45"/><circle cx="134.28" cy="472.90" r="1.45"/><circle cx="148.96" cy="483.85" r="1.45"/><circle cx="196.67" cy="483.85" r="1.45"/></g>
<g fill="#e0d8f7"><circle cx="134.28" cy="465.60" r="1.45"/><circle cx="126.94" cy="513.05" r="1.45"/></g>
<g fill="#f0ebfa"><circle cx="137.95" cy="465.60" r="1.45"/><circle cx="141.62" cy="487.50" r="1.45"/><circle cx="163.64" cy="487.50" r="1.45"/><circle cx="126.94" cy="498.45" r="1.45"/><circle cx="134.28" cy="502.10" r="1.45"/><circle cx="134.28" cy="505.75" r="1.45"/></g>
<g fill="#f6f3fc"><circle cx="141.62" cy="465.60" r="1.45"/><circle cx="185.66" cy="465.60" r="1.45"/><circle cx="152.63" cy="483.85" r="1.45"/><circle cx="152.63" cy="491.15" r="1.45"/><circle cx="159.97" cy="491.15" r="1.45"/><circle cx="163.64" cy="502.10" r="1.45"/><circle cx="170.98" cy="502.10" r="1.45"/><circle cx="193.00" cy="505.75" r="1.45"/><circle cx="163.64" cy="516.70" r="1.45"/><circle cx="167.31" cy="516.70" r="1.45"/><circle cx="163.64" cy="520.35" r="1.45"/></g>
<g fill="#f7f4fc"><circle cx="145.29" cy="465.60" r="1.45"/><circle cx="126.94" cy="476.55" r="1.45"/><circle cx="126.94" cy="491.15" r="1.45"/><circle cx="156.30" cy="494.80" r="1.45"/><circle cx="167.31" cy="494.80" r="1.45"/><circle cx="193.00" cy="516.70" r="1.45"/></g>
<g fill="#e7e1f8"><circle cx="148.96" cy="465.60" r="1.45"/><circle cx="123.27" cy="472.90" r="1.45"/></g>
<g fill="#f6f2fc"><circle cx="152.63" cy="465.60" r="1.45"/><circle cx="152.63" cy="480.20" r="1.45"/><circle cx="137.95" cy="491.15" r="1.45"/><circle cx="159.97" cy="516.70" r="1.45"/></g>
<g fill="#f3f0fb"><circle cx="156.30" cy="465.60" r="1.45"/><circle cx="185.66" cy="480.20" r="1.45"/><circle cx="170.98" cy="494.80" r="1.45"/><circle cx="145.29" cy="502.10" r="1.45"/><circle cx="178.32" cy="502.10" r="1.45"/><circle cx="178.32" cy="509.40" r="1.45"/><circle cx="159.97" cy="513.05" r="1.45"/><circle cx="200.34" cy="513.05" r="1.45"/></g>
<g fill="#e5dff8"><circle cx="159.97" cy="465.60" r="1.45"/><circle cx="189.33" cy="491.15" r="1.45"/><circle cx="134.28" cy="509.40" r="1.45"/></g>
<g fill="#ece7f9"><circle cx="163.64" cy="465.60" r="1.45"/><circle cx="123.27" cy="483.85" r="1.45"/><circle cx="130.61" cy="487.50" r="1.45"/><circle cx="137.95" cy="487.50" r="1.45"/><circle cx="130.61" cy="498.45" r="1.45"/></g>
<g fill="#f8f5fc"><circle cx="167.31" cy="465.60" r="1.45"/><circle cx="174.65" cy="498.45" r="1.45"/></g>
<g fill="#e1daf7"><circle cx="170.98" cy="465.60" r="1.45"/><circle cx="181.99" cy="469.25" r="1.45"/><circle cx="145.29" cy="491.15" r="1.45"/><circle cx="148.96" cy="502.10" r="1.45"/><circle cx="185.66" cy="509.40" r="1.45"/><circle cx="119.60" cy="520.35" r="1.45"/></g>
<g fill="#e9e3f8"><circle cx="174.65" cy="465.60" r="1.45"/><circle cx="167.31" cy="469.25" r="1.45"/><circle cx="178.32" cy="469.25" r="1.45"/><circle cx="174.65" cy="472.90" r="1.45"/><circle cx="156.30" cy="476.55" r="1.45"/><circle cx="178.32" cy="476.55" r="1.45"/><circle cx="148.96" cy="480.20" r="1.45"/><circle cx="152.63" cy="494.80" r="1.45"/><circle cx="156.30" cy="502.10" r="1.45"/><circle cx="174.65" cy="516.70" r="1.45"/><circle cx="178.32" cy="516.70" r="1.45"/></g>
<g fill="#f4f1fb"><circle cx="178.32" cy="465.60" r="1.45"/><circle cx="196.67" cy="469.25" r="1.45"/><circle cx="141.62" cy="498.45" r="1.45"/><circle cx="185.66" cy="498.45" r="1.45"/><circle cx="193.00" cy="502.10" r="1.45"/><circle cx="119.60" cy="505.75" r="1.45"/><circle cx="170.98" cy="509.40" r="1.45"/><circle cx="141.62" cy="513.05" r="1.45"/></g>
<g fill="#eae4f8"><circle cx="181.99" cy="465.60" r="1.45"/><circle cx="152.63" cy="469.25" r="1.45"/><circle cx="193.00" cy="469.25" r="1.45"/><circle cx="156.30" cy="480.20" r="1.45"/><circle cx="185.66" cy="487.50" r="1.45"/><circle cx="130.61" cy="491.15" r="1.45"/><circle cx="123.27" cy="494.80" r="1.45"/><circle cx="178.32" cy="498.45" r="1.45"/><circle cx="181.99" cy="505.75" r="1.45"/><circle cx="141.62" cy="509.40" r="1.45"/><circle cx="189.33" cy="520.35" r="1.45"/></g>
<g fill="#f5f1fb"><circle cx="189.33" cy="465.60" r="1.45"/><circle cx="159.97" cy="480.20" r="1.45"/><circle cx="163.64" cy="491.15" r="1.45"/></g>
<g fill="#c9bef4"><circle cx="193.00" cy="465.60" r="1.45"/><circle cx="148.96" cy="476.55" r="1.45"/><circle cx="170.98" cy="476.55" r="1.45"/><circle cx="174.65" cy="476.55" r="1.45"/><circle cx="123.27" cy="491.15" r="1.45"/><circle cx="200.34" cy="491.15" r="1.45"/><circle cx="196.67" cy="494.80" r="1.45"/><circle cx="170.98" cy="505.75" r="1.45"/><circle cx="137.95" cy="513.05" r="1.45"/></g>
<g fill="#fbf4f2"><circle cx="196.67" cy="465.60" r="1.45"/><circle cx="204.01" cy="505.75" r="1.45"/></g>
<g fill="#887df1"><circle cx="200.34" cy="465.60" r="1.45"/><circle cx="119.60" cy="472.90" r="1.45"/><circle cx="159.97" cy="472.90" r="1.45"/><circle cx="200.34" cy="480.20" r="1.45"/><circle cx="159.97" cy="483.85" r="1.45"/><circle cx="167.31" cy="483.85" r="1.45"/><circle cx="185.66" cy="494.80" r="1.45"/></g>
<g fill="#fbf4f3"><circle cx="123.27" cy="469.25" r="1.45"/><circle cx="141.62" cy="483.85" r="1.45"/><circle cx="178.32" cy="487.50" r="1.45"/><circle cx="170.98" cy="498.45" r="1.45"/><circle cx="148.96" cy="505.75" r="1.45"/><circle cx="163.64" cy="513.05" r="1.45"/><circle cx="193.00" cy="520.35" r="1.45"/></g>
<g fill="#f0ecfa"><circle cx="130.61" cy="469.25" r="1.45"/><circle cx="189.33" cy="472.90" r="1.45"/><circle cx="163.64" cy="476.55" r="1.45"/><circle cx="181.99" cy="480.20" r="1.45"/><circle cx="193.00" cy="487.50" r="1.45"/><circle cx="148.96" cy="491.15" r="1.45"/><circle cx="159.97" cy="502.10" r="1.45"/><circle cx="137.95" cy="505.75" r="1.45"/><circle cx="134.28" cy="513.05" r="1.45"/></g>
<g fill="#f8f6fc"><circle cx="134.28" cy="469.25" r="1.45"/><circle cx="156.30" cy="491.15" r="1.45"/></g>
<g fill="#e2dbf7"><circle cx="141.62" cy="469.25" r="1.45"/><circle cx="189.33" cy="469.25" r="1.45"/><circle cx="137.95" cy="480.20" r="1.45"/><circle cx="134.28" cy="491.15" r="1.45"/><circle cx="163.64" cy="494.80" r="1.45"/><circle cx="119.60" cy="502.10" r="1.45"/></g>
<g fill="#fbf5f5"><circle cx="145.29" cy="469.25" r="1.45"/><circle cx="156.30" cy="487.50" r="1.45"/><circle cx="134.28" cy="516.70" r="1.45"/></g>
<g fill="#f3effb"><circle cx="148.96" cy="469.25" r="1.45"/><circle cx="130.61" cy="494.80" r="1.45"/><circle cx="156.30" cy="498.45" r="1.45"/><circle cx="181.99" cy="502.10" r="1.45"/><circle cx="170.98" cy="516.70" r="1.45"/></g>
<g fill="#5650f4"><circle cx="159.97" cy="469.25" r="1.45"/><circle cx="178.32" cy="472.90" r="1.45"/><circle cx="181.99" cy="472.90" r="1.45"/><circle cx="196.67" cy="480.20" r="1.45"/><circle cx="163.64" cy="483.85" r="1.45"/><circle cx="200.34" cy="483.85" r="1.45"/><circle cx="178.32" cy="494.80" r="1.45"/><circle cx="181.99" cy="494.80" r="1.45"/><circle cx="189.33" cy="494.80" r="1.45"/></g>
<g fill="#f6f4fc"><circle cx="170.98" cy="469.25" r="1.45"/></g>
<g fill="#e8e2f8"><circle cx="174.65" cy="469.25" r="1.45"/><circle cx="193.00" cy="472.90" r="1.45"/><circle cx="145.29" cy="476.55" r="1.45"/><circle cx="145.29" cy="487.50" r="1.45"/><circle cx="204.01" cy="491.15" r="1.45"/><circle cx="130.61" cy="509.40" r="1.45"/><circle cx="130.61" cy="516.70" r="1.45"/><circle cx="174.65" cy="520.35" r="1.45"/></g>
<g fill="#f2eefb"><circle cx="185.66" cy="469.25" r="1.45"/><circle cx="196.67" cy="472.90" r="1.45"/><circle cx="200.34" cy="476.55" r="1.45"/><circle cx="170.98" cy="480.20" r="1.45"/><circle cx="185.66" cy="483.85" r="1.45"/><circle cx="189.33" cy="483.85" r="1.45"/><circle cx="204.01" cy="487.50" r="1.45"/><circle cx="178.32" cy="491.15" r="1.45"/><circle cx="204.01" cy="494.80" r="1.45"/><circle cx="163.64" cy="498.45" r="1.45"/><circle cx="185.66" cy="505.75" r="1.45"/><circle cx="141.62" cy="516.70" r="1.45"/><circle cx="152.63" cy="520.35" r="1.45"/><circle cx="156.30" cy="520.35" r="1.45"/></g>
<g fill="#a89cf1"><circle cx="200.34" cy="469.25" r="1.45"/><circle cx="185.66" cy="472.90" r="1.45"/><circle cx="119.60" cy="476.55" r="1.45"/><circle cx="196.67" cy="476.55" r="1.45"/><circle cx="170.98" cy="483.85" r="1.45"/><circle cx="159.97" cy="494.80" r="1.45"/><circle cx="193.00" cy="494.80" r="1.45"/><circle cx="200.34" cy="498.45" r="1.45"/><circle cx="196.67" cy="502.10" r="1.45"/><circle cx="126.94" cy="505.75" r="1.45"/><circle cx="163.64" cy="505.75" r="1.45"/><circle cx="196.67" cy="509.40" r="1.45"/><circle cx="178.32" cy="513.05" r="1.45"/><circle cx="181.99" cy="513.05" r="1.45"/><circle cx="189.33" cy="513.05" r="1.45"/><circle cx="193.00" cy="513.05" r="1.45"/><circle cx="200.34" cy="516.70" r="1.45"/><circle cx="123.27" cy="520.35" r="1.45"/></g>
<g fill="#f9e8e1"><circle cx="130.61" cy="472.90" r="1.45"/></g>
<g fill="#ece6f9"><circle cx="137.95" cy="472.90" r="1.45"/><circle cx="152.63" cy="505.75" r="1.45"/><circle cx="185.66" cy="516.70" r="1.45"/></g>
<g fill="#e0d9f7"><circle cx="141.62" cy="472.90" r="1.45"/><circle cx="185.66" cy="491.15" r="1.45"/><circle cx="145.29" cy="494.80" r="1.45"/></g>
<g fill="#f9e8e2"><circle cx="145.29" cy="472.90" r="1.45"/><circle cx="126.94" cy="494.80" r="1.45"/><circle cx="137.95" cy="516.70" r="1.45"/></g>
<g fill="#ebe6f9"><circle cx="148.96" cy="472.90" r="1.45"/><circle cx="141.62" cy="480.20" r="1.45"/><circle cx="126.94" cy="483.85" r="1.45"/><circle cx="156.30" cy="483.85" r="1.45"/><circle cx="159.97" cy="505.75" r="1.45"/><circle cx="137.95" cy="520.35" r="1.45"/><circle cx="145.29" cy="520.35" r="1.45"/></g>
<g fill="#eee9f9"><circle cx="152.63" cy="472.90" r="1.45"/><circle cx="130.61" cy="483.85" r="1.45"/><circle cx="196.67" cy="491.15" r="1.45"/><circle cx="148.96" cy="494.80" r="1.45"/><circle cx="167.31" cy="502.10" r="1.45"/><circle cx="189.33" cy="509.40" r="1.45"/><circle cx="148.96" cy="516.70" r="1.45"/></g>
<g fill="#e6e0f8"><circle cx="156.30" cy="472.90" r="1.45"/><circle cx="200.34" cy="505.75" r="1.45"/><circle cx="145.29" cy="509.40" r="1.45"/><circle cx="204.01" cy="516.70" r="1.45"/></g>
<g fill="#fbf6f6"><circle cx="167.31" cy="472.90" r="1.45"/><circle cx="196.67" cy="505.75" r="1.45"/><circle cx="178.32" cy="520.35" r="1.45"/></g>
<g fill="#faf8fd"><circle cx="170.98" cy="472.90" r="1.45"/><circle cx="119.60" cy="480.20" r="1.45"/><circle cx="119.60" cy="494.80" r="1.45"/><circle cx="137.95" cy="502.10" r="1.45"/><circle cx="137.95" cy="509.40" r="1.45"/><circle cx="126.94" cy="516.70" r="1.45"/></g>
<g fill="#f4f0fb"><circle cx="200.34" cy="472.90" r="1.45"/><circle cx="193.00" cy="476.55" r="1.45"/><circle cx="185.66" cy="502.10" r="1.45"/><circle cx="130.61" cy="505.75" r="1.45"/><circle cx="159.97" cy="509.40" r="1.45"/><circle cx="119.60" cy="513.05" r="1.45"/><circle cx="156.30" cy="513.05" r="1.45"/></g>
<g fill="#faebe6"><circle cx="123.27" cy="476.55" r="1.45"/></g>
<g fill="#e3dcf7"><circle cx="130.61" cy="476.55" r="1.45"/><circle cx="181.99" cy="476.55" r="1.45"/><circle cx="159.97" cy="487.50" r="1.45"/><circle cx="141.62" cy="494.80" r="1.45"/><circle cx="200.34" cy="494.80" r="1.45"/><circle cx="148.96" cy="498.45" r="1.45"/><circle cx="130.61" cy="502.10" r="1.45"/><circle cx="193.00" cy="509.40" r="1.45"/><circle cx="145.29" cy="513.05" r="1.45"/><circle cx="170.98" cy="513.05" r="1.45"/><circle cx="141.62" cy="520.35" r="1.45"/><circle cx="148.96" cy="520.35" r="1.45"/></g>
<g fill="#faf3f2"><circle cx="134.28" cy="476.55" r="1.45"/><circle cx="159.97" cy="476.55" r="1.45"/></g>
<g fill="#fbf5f4"><circle cx="141.62" cy="476.55" r="1.45"/><circle cx="159.97" cy="498.45" r="1.45"/><circle cx="204.01" cy="498.45" r="1.45"/><circle cx="189.33" cy="502.10" r="1.45"/></g>
<g fill="#f9f7fd"><circle cx="152.63" cy="476.55" r="1.45"/><circle cx="134.28" cy="480.20" r="1.45"/><circle cx="167.31" cy="487.50" r="1.45"/><circle cx="126.94" cy="502.10" r="1.45"/><circle cx="123.27" cy="516.70" r="1.45"/></g>
<g fill="#fae9e2"><circle cx="167.31" cy="476.55" r="1.45"/></g>
<g fill="#faf1ee"><circle cx="185.66" cy="476.55" r="1.45"/><circle cx="145.29" cy="483.85" r="1.45"/></g>
<g fill="#ede8f9"><circle cx="189.33" cy="476.55" r="1.45"/><circle cx="126.94" cy="480.20" r="1.45"/><circle cx="123.27" cy="509.40" r="1.45"/><circle cx="181.99" cy="516.70" r="1.45"/></g>
<g fill="#fae9e3"><circle cx="204.01" cy="476.55" r="1.45"/><circle cx="141.62" cy="505.75" r="1.45"/></g>
<g fill="#efeafa"><circle cx="123.27" cy="480.20" r="1.45"/><circle cx="193.00" cy="483.85" r="1.45"/><circle cx="181.99" cy="487.50" r="1.45"/><circle cx="145.29" cy="498.45" r="1.45"/></g>
<g fill="#e9e4f8"><circle cx="130.61" cy="480.20" r="1.45"/><circle cx="119.60" cy="483.85" r="1.45"/></g>
<g fill="#fbf8f9"><circle cx="145.29" cy="480.20" r="1.45"/><circle cx="174.65" cy="513.05" r="1.45"/><circle cx="156.30" cy="516.70" r="1.45"/></g>
<g fill="#faf3f1"><circle cx="163.64" cy="480.20" r="1.45"/></g>
<g fill="#f9e7e0"><circle cx="167.31" cy="480.20" r="1.45"/><circle cx="137.95" cy="494.80" r="1.45"/></g>
<g fill="#faece7"><circle cx="174.65" cy="480.20" r="1.45"/></g>
<g fill="#fbf9fa"><circle cx="178.32" cy="480.20" r="1.45"/><circle cx="174.65" cy="509.40" r="1.45"/></g>
<g fill="#f5f2fb"><circle cx="189.33" cy="480.20" r="1.45"/><circle cx="170.98" cy="491.15" r="1.45"/><circle cx="178.32" cy="505.75" r="1.45"/></g>
<g fill="#e1d9f7"><circle cx="193.00" cy="480.20" r="1.45"/><circle cx="174.65" cy="494.80" r="1.45"/></g>
<g fill="#eae5f8"><circle cx="204.01" cy="480.20" r="1.45"/><circle cx="134.28" cy="483.85" r="1.45"/><circle cx="134.28" cy="494.80" r="1.45"/></g>
<g fill="#f5f2fc"><circle cx="137.95" cy="483.85" r="1.45"/><circle cx="119.60" cy="487.50" r="1.45"/><circle cx="134.28" cy="487.50" r="1.45"/><circle cx="137.95" cy="498.45" r="1.45"/><circle cx="123.27" cy="502.10" r="1.45"/><circle cx="152.63" cy="502.10" r="1.45"/><circle cx="145.29" cy="516.70" r="1.45"/></g>
<g fill="#beb2f3"><circle cx="174.65" cy="483.85" r="1.45"/><circle cx="119.60" cy="498.45" r="1.45"/><circle cx="123.27" cy="498.45" r="1.45"/><circle cx="200.34" cy="502.10" r="1.45"/><circle cx="167.31" cy="505.75" r="1.45"/><circle cx="185.66" cy="513.05" r="1.45"/></g>
<g fill="#faefeb"><circle cx="178.32" cy="483.85" r="1.45"/></g>
<g fill="#ebe5f9"><circle cx="204.01" cy="483.85" r="1.45"/><circle cx="152.63" cy="487.50" r="1.45"/><circle cx="174.65" cy="502.10" r="1.45"/><circle cx="159.97" cy="520.35" r="1.45"/></g>
<g fill="#e3ddf7"><circle cx="170.98" cy="487.50" r="1.45"/></g>
<g fill="#e6dff8"><circle cx="174.65" cy="487.50" r="1.45"/><circle cx="141.62" cy="491.15" r="1.45"/><circle cx="134.28" cy="498.45" r="1.45"/><circle cx="119.60" cy="516.70" r="1.45"/></g>
<g fill="#eee9fa"><circle cx="189.33" cy="487.50" r="1.45"/><circle cx="123.27" cy="513.05" r="1.45"/></g>
<g fill="#eeeafa"><circle cx="200.34" cy="487.50" r="1.45"/><circle cx="181.99" cy="491.15" r="1.45"/><circle cx="181.99" cy="498.45" r="1.45"/><circle cx="193.00" cy="498.45" r="1.45"/><circle cx="185.66" cy="520.35" r="1.45"/></g>
<g fill="#f1edfa"><circle cx="119.60" cy="491.15" r="1.45"/><circle cx="145.29" cy="505.75" r="1.45"/><circle cx="181.99" cy="509.40" r="1.45"/><circle cx="152.63" cy="513.05" r="1.45"/></g>
<g fill="#f8f6fd"><circle cx="167.31" cy="491.15" r="1.45"/><circle cx="156.30" cy="505.75" r="1.45"/></g>
<g fill="#ede7f9"><circle cx="174.65" cy="491.15" r="1.45"/></g>
<g fill="#f7f5fc"><circle cx="193.00" cy="491.15" r="1.45"/></g>
<g fill="#e4def7"><circle cx="152.63" cy="498.45" r="1.45"/></g>
<g fill="#faf2ef"><circle cx="167.31" cy="498.45" r="1.45"/></g>
<g fill="#f1ecfa"><circle cx="189.33" cy="498.45" r="1.45"/><circle cx="148.96" cy="513.05" r="1.45"/></g>
<g fill="#f2effb"><circle cx="141.62" cy="502.10" r="1.45"/></g>
<g fill="#f9e6de"><circle cx="204.01" cy="502.10" r="1.45"/></g>
<g fill="#0e0efa"><circle cx="123.27" cy="505.75" r="1.45"/></g>
<g fill="#faeeea"><circle cx="189.33" cy="505.75" r="1.45"/></g>
<g fill="#ebe5f8"><circle cx="126.94" cy="509.40" r="1.45"/></g>
<g fill="#f9e6df"><circle cx="148.96" cy="509.40" r="1.45"/></g>
<g fill="#faeae4"><circle cx="152.63" cy="509.40" r="1.45"/><circle cx="167.31" cy="509.40" r="1.45"/><circle cx="167.31" cy="513.05" r="1.45"/><circle cx="196.67" cy="520.35" r="1.45"/></g>
<g fill="#faf1ef"><circle cx="156.30" cy="509.40" r="1.45"/></g>
<g fill="#e8e1f8"><circle cx="163.64" cy="509.40" r="1.45"/></g>
<g fill="#faf2f0"><circle cx="130.61" cy="513.05" r="1.45"/></g>
<g fill="#faede8"><circle cx="204.01" cy="513.05" r="1.45"/><circle cx="152.63" cy="516.70" r="1.45"/></g>
<g fill="#e5def7"><circle cx="189.33" cy="516.70" r="1.45"/><circle cx="170.98" cy="520.35" r="1.45"/></g>
<g fill="#766df2"><circle cx="196.67" cy="516.70" r="1.45"/></g>
<g fill="#efebfa"><circle cx="167.31" cy="520.35" r="1.45"/><circle cx="181.99" cy="520.35" r="1.45"/></g>
<g fill="#fbf8f8"><circle cx="204.01" cy="520.35" r="1.45"/></g>
</g>
<text x="119.60" y="460.50" class="s" font-size="2.6" text-anchor="middle" fill="#585858">1</text>
<text x="123.27" y="460.50" class="s" font-size="2.6" text-anchor="middle" fill="#585858">2</text>
<text x="126.94" y="460.50" class="s" font-size="2.6" text-anchor="middle" fill="#585858">3</text>
<text x="130.61" y="460.50" class="s" font-size="2.6" text-anchor="middle" fill="#585858">4</text>
<text x="134.28" y="460.50" class="s" font-size="2.6" text-anchor="middle" fill="#585858">5</text>
<text x="137.95" y="460.50" class="s" font-size="2.6" text-anchor="middle" fill="#585858">6</text>
<text x="141.62" y="460.50" class="s" font-size="2.6" text-anchor="middle" fill="#585858">7</text>
<text x="145.29" y="460.50" class="s" font-size="2.6" text-anchor="middle" fill="#585858">8</text>
<text x="148.96" y="460.50" class="s" font-size="2.6" text-anchor="middle" fill="#585858">9</text>
<text x="152.63" y="460.50" class="s" font-size="2.6" text-anchor="middle" fill="#585858">10</text>
<text x="156.30" y="460.50" class="s" font-size="2.6" text-anchor="middle" fill="#585858">11</text>
<text x="159.97" y="460.50" class="s" font-size="2.6" text-anchor="middle" fill="#585858">12</text>
<text x="163.64" y="460.50" class="s" font-size="2.6" text-anchor="middle" fill="#585858">13</text>
<text x="167.31" y="460.50" class="s" font-size="2.6" text-anchor="middle" fill="#585858">14</text>
<text x="170.98" y="460.50" class="s" font-size="2.6" text-anchor="middle" fill="#585858">15</text>
<text x="174.65" y="460.50" class="s" font-size="2.6" text-anchor="middle" fill="#585858">16</text>
<text x="178.32" y="460.50" class="s" font-size="2.6" text-anchor="middle" fill="#585858">17</text>
<text x="181.99" y="460.50" class="s" font-size="2.6" text-anchor="middle" fill="#585858">18</text>
<text x="185.66" y="460.50" class="s" font-size="2.6" text-anchor="middle" fill="#585858">19</text>
<text x="189.33" y="460.50" class="s" font-size="2.6" text-anchor="middle" fill="#585858">20</text>
<text x="193.00" y="460.50" class="s" font-size="2.6" text-anchor="middle" fill="#585858">21</text>
<text x="196.67" y="460.50" class="s" font-size="2.6" text-anchor="middle" fill="#585858">22</text>
<text x="200.34" y="460.50" class="s" font-size="2.6" text-anchor="middle" fill="#585858">23</text>
<text x="204.01" y="460.50" class="s" font-size="2.6" text-anchor="middle" fill="#585858">24</text>
<text x="112.70" y="466.55" class="s" font-size="2.5" text-anchor="end" fill="#666">A</text>
<text x="112.70" y="470.20" class="s" font-size="2.5" text-anchor="end" fill="#666">B</text>
<text x="112.70" y="473.85" class="s" font-size="2.5" text-anchor="end" fill="#666">C</text>
<text x="112.70" y="477.50" class="s" font-size="2.5" text-anchor="end" fill="#666">D</text>
<text x="112.70" y="481.15" class="s" font-size="2.5" text-anchor="end" fill="#666">E</text>
<text x="112.70" y="484.80" class="s" font-size="2.5" text-anchor="end" fill="#666">F</text>
<text x="112.70" y="488.45" class="s" font-size="2.5" text-anchor="end" fill="#666">G</text>
<text x="112.70" y="492.10" class="s" font-size="2.5" text-anchor="end" fill="#666">H</text>
<text x="112.70" y="495.75" class="s" font-size="2.5" text-anchor="end" fill="#666">I</text>
<text x="112.70" y="499.40" class="s" font-size="2.5" text-anchor="end" fill="#666">J</text>
<text x="112.70" y="503.05" class="s" font-size="2.5" text-anchor="end" fill="#666">K</text>
<text x="112.70" y="506.70" class="s" font-size="2.5" text-anchor="end" fill="#666">L</text>
<text x="112.70" y="510.35" class="s" font-size="2.5" text-anchor="end" fill="#666">M</text>
<text x="112.70" y="514.00" class="s" font-size="2.5" text-anchor="end" fill="#666">N</text>
<text x="112.70" y="517.65" class="s" font-size="2.5" text-anchor="end" fill="#666">O</text>
<text x="112.70" y="521.30" class="s" font-size="2.5" text-anchor="end" fill="#666">P</text>
<text x="161.50" y="534.00" class="r" font-size="9.7" text-anchor="middle" textLength="45.1" lengthAdjust="spacingAndGlyphs">Day 7 fixed</text>
<text x="161.70" y="544.60" class="r" font-size="9.7" text-anchor="middle" textLength="51.9" lengthAdjust="spacingAndGlyphs">Cytation C10</text>
<rect x="216.20" y="461.40" width="97.1" height="63.2" fill="#fff" stroke="#c4c4c4" stroke-width="0.5"/>
<g stroke="#a4a4a4" stroke-width="0.44">
<g fill="#dad2f6"><circle cx="222.50" cy="465.60" r="1.45"/><circle cx="240.85" cy="469.25" r="1.45"/><circle cx="251.86" cy="469.25" r="1.45"/><circle cx="226.17" cy="472.90" r="1.45"/><circle cx="226.17" cy="476.55" r="1.45"/><circle cx="240.85" cy="480.20" r="1.45"/><circle cx="262.87" cy="480.20" r="1.45"/><circle cx="248.19" cy="494.80" r="1.45"/><circle cx="222.50" cy="502.10" r="1.45"/><circle cx="284.89" cy="502.10" r="1.45"/><circle cx="262.87" cy="505.75" r="1.45"/><circle cx="281.22" cy="505.75" r="1.45"/><circle cx="244.52" cy="509.40" r="1.45"/><circle cx="288.56" cy="513.05" r="1.45"/><circle cx="222.50" cy="516.70" r="1.45"/><circle cx="222.50" cy="520.35" r="1.45"/><circle cx="306.91" cy="520.35" r="1.45"/></g>
<g fill="#0e0efa"><circle cx="226.17" cy="465.60" r="1.45"/><circle cx="248.19" cy="465.60" r="1.45"/><circle cx="295.90" cy="465.60" r="1.45"/><circle cx="303.24" cy="465.60" r="1.45"/><circle cx="303.24" cy="469.25" r="1.45"/><circle cx="222.50" cy="472.90" r="1.45"/><circle cx="281.22" cy="472.90" r="1.45"/><circle cx="284.89" cy="472.90" r="1.45"/><circle cx="288.56" cy="472.90" r="1.45"/><circle cx="222.50" cy="476.55" r="1.45"/><circle cx="299.57" cy="476.55" r="1.45"/><circle cx="266.54" cy="480.20" r="1.45"/><circle cx="299.57" cy="480.20" r="1.45"/><circle cx="303.24" cy="480.20" r="1.45"/><circle cx="262.87" cy="483.85" r="1.45"/><circle cx="266.54" cy="483.85" r="1.45"/><circle cx="303.24" cy="483.85" r="1.45"/><circle cx="222.50" cy="487.50" r="1.45"/><circle cx="299.57" cy="487.50" r="1.45"/><circle cx="266.54" cy="491.15" r="1.45"/><circle cx="262.87" cy="494.80" r="1.45"/><circle cx="281.22" cy="494.80" r="1.45"/><circle cx="284.89" cy="494.80" r="1.45"/><circle cx="288.56" cy="494.80" r="1.45"/><circle cx="292.23" cy="494.80" r="1.45"/><circle cx="295.90" cy="494.80" r="1.45"/><circle cx="303.24" cy="498.45" r="1.45"/><circle cx="303.24" cy="502.10" r="1.45"/><circle cx="226.17" cy="505.75" r="1.45"/><circle cx="229.84" cy="505.75" r="1.45"/><circle cx="222.50" cy="509.40" r="1.45"/><circle cx="299.57" cy="509.40" r="1.45"/><circle cx="284.89" cy="513.05" r="1.45"/><circle cx="292.23" cy="513.05" r="1.45"/><circle cx="295.90" cy="513.05" r="1.45"/><circle cx="299.57" cy="516.70" r="1.45"/><circle cx="303.24" cy="516.70" r="1.45"/><circle cx="226.17" cy="520.35" r="1.45"/></g>
<g fill="#faeeea"><circle cx="229.84" cy="465.60" r="1.45"/><circle cx="299.57" cy="469.25" r="1.45"/><circle cx="277.55" cy="480.20" r="1.45"/><circle cx="306.91" cy="513.05" r="1.45"/><circle cx="229.84" cy="516.70" r="1.45"/><circle cx="237.18" cy="520.35" r="1.45"/></g>
<g fill="#faefeb"><circle cx="233.51" cy="465.60" r="1.45"/><circle cx="273.88" cy="465.60" r="1.45"/><circle cx="233.51" cy="469.25" r="1.45"/><circle cx="303.24" cy="476.55" r="1.45"/><circle cx="244.52" cy="480.20" r="1.45"/><circle cx="277.55" cy="483.85" r="1.45"/><circle cx="270.21" cy="498.45" r="1.45"/><circle cx="273.88" cy="502.10" r="1.45"/></g>
<g fill="#faebe6"><circle cx="237.18" cy="465.60" r="1.45"/><circle cx="288.56" cy="483.85" r="1.45"/><circle cx="248.19" cy="505.75" r="1.45"/><circle cx="262.87" cy="516.70" r="1.45"/></g>
<g fill="#faece7"><circle cx="240.85" cy="465.60" r="1.45"/><circle cx="240.85" cy="472.90" r="1.45"/><circle cx="292.23" cy="476.55" r="1.45"/><circle cx="251.86" cy="483.85" r="1.45"/><circle cx="306.91" cy="487.50" r="1.45"/><circle cx="233.51" cy="491.15" r="1.45"/><circle cx="248.19" cy="502.10" r="1.45"/><circle cx="222.50" cy="505.75" r="1.45"/><circle cx="259.20" cy="516.70" r="1.45"/></g>
<g fill="#faf1ef"><circle cx="244.52" cy="465.60" r="1.45"/><circle cx="266.54" cy="476.55" r="1.45"/><circle cx="237.18" cy="494.80" r="1.45"/><circle cx="270.21" cy="509.40" r="1.45"/><circle cx="292.23" cy="509.40" r="1.45"/></g>
<g fill="#f8d3c3"><circle cx="251.86" cy="465.60" r="1.45"/><circle cx="222.50" cy="469.25" r="1.45"/><circle cx="222.50" cy="483.85" r="1.45"/></g>
<g fill="#fbf4f2"><circle cx="255.53" cy="465.60" r="1.45"/><circle cx="229.84" cy="469.25" r="1.45"/><circle cx="284.89" cy="469.25" r="1.45"/><circle cx="273.88" cy="472.90" r="1.45"/><circle cx="303.24" cy="487.50" r="1.45"/><circle cx="251.86" cy="502.10" r="1.45"/><circle cx="306.91" cy="509.40" r="1.45"/></g>
<g fill="#f6f4fc"><circle cx="259.20" cy="465.60" r="1.45"/><circle cx="299.57" cy="513.05" r="1.45"/></g>
<g fill="#f5f2fc"><circle cx="262.87" cy="465.60" r="1.45"/><circle cx="273.88" cy="509.40" r="1.45"/></g>
<g fill="#f9e8e1"><circle cx="266.54" cy="465.60" r="1.45"/><circle cx="244.52" cy="476.55" r="1.45"/><circle cx="299.57" cy="483.85" r="1.45"/><circle cx="255.53" cy="502.10" r="1.45"/><circle cx="277.55" cy="516.70" r="1.45"/><circle cx="266.54" cy="520.35" r="1.45"/></g>
<g fill="#f3f0fb"><circle cx="270.21" cy="465.60" r="1.45"/><circle cx="244.52" cy="469.25" r="1.45"/><circle cx="273.88" cy="480.20" r="1.45"/><circle cx="273.88" cy="498.45" r="1.45"/></g>
<g fill="#f6f3fc"><circle cx="277.55" cy="465.60" r="1.45"/><circle cx="259.20" cy="472.90" r="1.45"/><circle cx="226.17" cy="491.15" r="1.45"/><circle cx="244.52" cy="491.15" r="1.45"/><circle cx="226.17" cy="498.45" r="1.45"/><circle cx="244.52" cy="513.05" r="1.45"/><circle cx="237.18" cy="516.70" r="1.45"/><circle cx="306.91" cy="516.70" r="1.45"/><circle cx="277.55" cy="520.35" r="1.45"/></g>
<g fill="#faf1ee"><circle cx="281.22" cy="465.60" r="1.45"/><circle cx="222.50" cy="480.20" r="1.45"/><circle cx="288.56" cy="502.10" r="1.45"/></g>
<g fill="#fae9e3"><circle cx="284.89" cy="465.60" r="1.45"/><circle cx="240.85" cy="487.50" r="1.45"/><circle cx="255.53" cy="491.15" r="1.45"/><circle cx="259.20" cy="498.45" r="1.45"/><circle cx="273.88" cy="516.70" r="1.45"/></g>
<g fill="#faefec"><circle cx="288.56" cy="465.60" r="1.45"/><circle cx="233.51" cy="476.55" r="1.45"/><circle cx="229.84" cy="491.15" r="1.45"/><circle cx="295.90" cy="491.15" r="1.45"/><circle cx="299.57" cy="494.80" r="1.45"/><circle cx="306.91" cy="494.80" r="1.45"/><circle cx="281.22" cy="498.45" r="1.45"/><circle cx="229.84" cy="502.10" r="1.45"/><circle cx="237.18" cy="502.10" r="1.45"/><circle cx="251.86" cy="505.75" r="1.45"/><circle cx="229.84" cy="509.40" r="1.45"/><circle cx="303.24" cy="509.40" r="1.45"/><circle cx="277.55" cy="513.05" r="1.45"/><circle cx="292.23" cy="516.70" r="1.45"/></g>
<g fill="#fbf4f3"><circle cx="292.23" cy="465.60" r="1.45"/><circle cx="233.51" cy="472.90" r="1.45"/><circle cx="237.18" cy="472.90" r="1.45"/><circle cx="251.86" cy="472.90" r="1.45"/><circle cx="306.91" cy="472.90" r="1.45"/><circle cx="237.18" cy="476.55" r="1.45"/><circle cx="306.91" cy="483.85" r="1.45"/><circle cx="240.85" cy="491.15" r="1.45"/><circle cx="273.88" cy="491.15" r="1.45"/><circle cx="270.21" cy="494.80" r="1.45"/><circle cx="284.89" cy="516.70" r="1.45"/><circle cx="295.90" cy="520.35" r="1.45"/></g>
<g fill="#fbf5f5"><circle cx="299.57" cy="465.60" r="1.45"/><circle cx="277.55" cy="472.90" r="1.45"/><circle cx="299.57" cy="472.90" r="1.45"/><circle cx="292.23" cy="498.45" r="1.45"/><circle cx="292.23" cy="502.10" r="1.45"/></g>
<g fill="#f4f1fb"><circle cx="306.91" cy="465.60" r="1.45"/><circle cx="306.91" cy="469.25" r="1.45"/><circle cx="229.84" cy="476.55" r="1.45"/><circle cx="244.52" cy="483.85" r="1.45"/><circle cx="292.23" cy="483.85" r="1.45"/><circle cx="270.21" cy="491.15" r="1.45"/><circle cx="229.84" cy="494.80" r="1.45"/><circle cx="248.19" cy="498.45" r="1.45"/><circle cx="244.52" cy="502.10" r="1.45"/><circle cx="288.56" cy="505.75" r="1.45"/><circle cx="237.18" cy="509.40" r="1.45"/><circle cx="248.19" cy="509.40" r="1.45"/><circle cx="240.85" cy="513.05" r="1.45"/><circle cx="233.51" cy="516.70" r="1.45"/><circle cx="255.53" cy="516.70" r="1.45"/><circle cx="292.23" cy="520.35" r="1.45"/></g>
<g fill="#f2eefb"><circle cx="226.17" cy="469.25" r="1.45"/><circle cx="255.53" cy="469.25" r="1.45"/><circle cx="259.20" cy="469.25" r="1.45"/><circle cx="277.55" cy="469.25" r="1.45"/><circle cx="295.90" cy="480.20" r="1.45"/><circle cx="270.21" cy="487.50" r="1.45"/><circle cx="295.90" cy="487.50" r="1.45"/><circle cx="281.22" cy="491.15" r="1.45"/><circle cx="288.56" cy="491.15" r="1.45"/><circle cx="299.57" cy="498.45" r="1.45"/><circle cx="303.24" cy="513.05" r="1.45"/><circle cx="251.86" cy="520.35" r="1.45"/></g>
<g fill="#faebe5"><circle cx="237.18" cy="469.25" r="1.45"/><circle cx="233.51" cy="480.20" r="1.45"/><circle cx="229.84" cy="483.85" r="1.45"/></g>
<g fill="#a89cf1"><circle cx="248.19" cy="469.25" r="1.45"/><circle cx="270.21" cy="469.25" r="1.45"/><circle cx="295.90" cy="472.90" r="1.45"/><circle cx="273.88" cy="483.85" r="1.45"/><circle cx="222.50" cy="491.15" r="1.45"/><circle cx="244.52" cy="494.80" r="1.45"/><circle cx="266.54" cy="505.75" r="1.45"/><circle cx="273.88" cy="505.75" r="1.45"/><circle cx="281.22" cy="513.05" r="1.45"/><circle cx="303.24" cy="520.35" r="1.45"/></g>
<g fill="#5650f4"><circle cx="262.87" cy="469.25" r="1.45"/><circle cx="266.54" cy="469.25" r="1.45"/><circle cx="262.87" cy="472.90" r="1.45"/><circle cx="266.54" cy="498.45" r="1.45"/><circle cx="270.21" cy="505.75" r="1.45"/></g>
<g fill="#c9bef4"><circle cx="273.88" cy="469.25" r="1.45"/></g>
<g fill="#f8f6fc"><circle cx="281.22" cy="469.25" r="1.45"/><circle cx="288.56" cy="476.55" r="1.45"/></g>
<g fill="#faf0ec"><circle cx="288.56" cy="469.25" r="1.45"/><circle cx="251.86" cy="480.20" r="1.45"/><circle cx="266.54" cy="487.50" r="1.45"/></g>
<g fill="#faede9"><circle cx="292.23" cy="469.25" r="1.45"/><circle cx="281.22" cy="476.55" r="1.45"/><circle cx="233.51" cy="513.05" r="1.45"/></g>
<g fill="#f7f5fc"><circle cx="295.90" cy="469.25" r="1.45"/><circle cx="244.52" cy="487.50" r="1.45"/></g>
<g fill="#fbf6f6"><circle cx="229.84" cy="472.90" r="1.45"/><circle cx="255.53" cy="476.55" r="1.45"/></g>
<g fill="#beb2f3"><circle cx="244.52" cy="472.90" r="1.45"/><circle cx="273.88" cy="476.55" r="1.45"/><circle cx="277.55" cy="505.75" r="1.45"/><circle cx="284.89" cy="509.40" r="1.45"/><circle cx="229.84" cy="520.35" r="1.45"/></g>
<g fill="#efeafa"><circle cx="248.19" cy="472.90" r="1.45"/><circle cx="255.53" cy="483.85" r="1.45"/><circle cx="240.85" cy="505.75" r="1.45"/><circle cx="255.53" cy="509.40" r="1.45"/><circle cx="251.86" cy="513.05" r="1.45"/></g>
<g fill="#efebfa"><circle cx="255.53" cy="472.90" r="1.45"/><circle cx="248.19" cy="483.85" r="1.45"/><circle cx="273.88" cy="487.50" r="1.45"/><circle cx="277.55" cy="487.50" r="1.45"/><circle cx="240.85" cy="494.80" r="1.45"/><circle cx="237.18" cy="498.45" r="1.45"/><circle cx="281.22" cy="516.70" r="1.45"/></g>
<g fill="#fbf6f5"><circle cx="266.54" cy="472.90" r="1.45"/><circle cx="262.87" cy="476.55" r="1.45"/><circle cx="237.18" cy="483.85" r="1.45"/><circle cx="284.89" cy="483.85" r="1.45"/><circle cx="259.20" cy="494.80" r="1.45"/><circle cx="244.52" cy="505.75" r="1.45"/><circle cx="266.54" cy="509.40" r="1.45"/><circle cx="259.20" cy="520.35" r="1.45"/><circle cx="262.87" cy="520.35" r="1.45"/></g>
<g fill="#fbf5f4"><circle cx="270.21" cy="472.90" r="1.45"/><circle cx="270.21" cy="476.55" r="1.45"/><circle cx="288.56" cy="480.20" r="1.45"/><circle cx="233.51" cy="483.85" r="1.45"/><circle cx="281.22" cy="483.85" r="1.45"/><circle cx="262.87" cy="487.50" r="1.45"/><circle cx="237.18" cy="491.15" r="1.45"/><circle cx="255.53" cy="494.80" r="1.45"/><circle cx="277.55" cy="494.80" r="1.45"/><circle cx="306.91" cy="502.10" r="1.45"/><circle cx="284.89" cy="505.75" r="1.45"/><circle cx="299.57" cy="505.75" r="1.45"/><circle cx="259.20" cy="509.40" r="1.45"/></g>
<g fill="#faeae5"><circle cx="292.23" cy="472.90" r="1.45"/><circle cx="251.86" cy="491.15" r="1.45"/><circle cx="251.86" cy="494.80" r="1.45"/><circle cx="306.91" cy="505.75" r="1.45"/></g>
<g fill="#faf3f1"><circle cx="303.24" cy="472.90" r="1.45"/><circle cx="251.86" cy="476.55" r="1.45"/><circle cx="226.17" cy="487.50" r="1.45"/><circle cx="233.51" cy="487.50" r="1.45"/><circle cx="292.23" cy="491.15" r="1.45"/><circle cx="229.84" cy="498.45" r="1.45"/><circle cx="288.56" cy="520.35" r="1.45"/></g>
<g fill="#fae9e2"><circle cx="240.85" cy="476.55" r="1.45"/><circle cx="306.91" cy="498.45" r="1.45"/><circle cx="299.57" cy="502.10" r="1.45"/><circle cx="233.51" cy="520.35" r="1.45"/></g>
<g fill="#f1edfa"><circle cx="248.19" cy="476.55" r="1.45"/><circle cx="288.56" cy="487.50" r="1.45"/><circle cx="277.55" cy="491.15" r="1.45"/><circle cx="306.91" cy="491.15" r="1.45"/><circle cx="262.87" cy="498.45" r="1.45"/><circle cx="240.85" cy="509.40" r="1.45"/><circle cx="226.17" cy="513.05" r="1.45"/><circle cx="273.88" cy="513.05" r="1.45"/><circle cx="226.17" cy="516.70" r="1.45"/></g>
<g fill="#f0ebfa"><circle cx="259.20" cy="476.55" r="1.45"/><circle cx="259.20" cy="483.85" r="1.45"/><circle cx="281.22" cy="487.50" r="1.45"/><circle cx="284.89" cy="491.15" r="1.45"/><circle cx="266.54" cy="502.10" r="1.45"/></g>
<g fill="#f0ecfa"><circle cx="277.55" cy="476.55" r="1.45"/><circle cx="259.20" cy="491.15" r="1.45"/><circle cx="259.20" cy="513.05" r="1.45"/><circle cx="270.21" cy="516.70" r="1.45"/><circle cx="240.85" cy="520.35" r="1.45"/></g>
<g fill="#faede8"><circle cx="284.89" cy="476.55" r="1.45"/><circle cx="306.91" cy="480.20" r="1.45"/><circle cx="262.87" cy="502.10" r="1.45"/></g>
<g fill="#fbf8f9"><circle cx="295.90" cy="476.55" r="1.45"/><circle cx="233.51" cy="502.10" r="1.45"/></g>
<g fill="#f4f0fb"><circle cx="306.91" cy="476.55" r="1.45"/><circle cx="255.53" cy="480.20" r="1.45"/><circle cx="240.85" cy="483.85" r="1.45"/><circle cx="222.50" cy="494.80" r="1.45"/><circle cx="244.52" cy="498.45" r="1.45"/><circle cx="277.55" cy="502.10" r="1.45"/><circle cx="248.19" cy="520.35" r="1.45"/><circle cx="270.21" cy="520.35" r="1.45"/></g>
<g fill="#faf0ed"><circle cx="237.18" cy="480.20" r="1.45"/><circle cx="273.88" cy="494.80" r="1.45"/><circle cx="295.90" cy="498.45" r="1.45"/><circle cx="262.87" cy="513.05" r="1.45"/></g>
<g fill="#faf8fd"><circle cx="248.19" cy="480.20" r="1.45"/><circle cx="284.89" cy="480.20" r="1.45"/><circle cx="251.86" cy="516.70" r="1.45"/><circle cx="288.56" cy="516.70" r="1.45"/></g>
<g fill="#eeeafa"><circle cx="259.20" cy="480.20" r="1.45"/><circle cx="292.23" cy="487.50" r="1.45"/></g>
<g fill="#f5f1fb"><circle cx="270.21" cy="480.20" r="1.45"/><circle cx="281.22" cy="480.20" r="1.45"/><circle cx="295.90" cy="502.10" r="1.45"/></g>
<g fill="#f9f7fd"><circle cx="292.23" cy="480.20" r="1.45"/><circle cx="248.19" cy="487.50" r="1.45"/><circle cx="284.89" cy="487.50" r="1.45"/><circle cx="259.20" cy="502.10" r="1.45"/><circle cx="255.53" cy="513.05" r="1.45"/></g>
<g fill="#766df2"><circle cx="270.21" cy="483.85" r="1.45"/></g>
<g fill="#faeae4"><circle cx="295.90" cy="483.85" r="1.45"/><circle cx="266.54" cy="494.80" r="1.45"/></g>
<g fill="#f7f4fc"><circle cx="229.84" cy="487.50" r="1.45"/><circle cx="295.90" cy="509.40" r="1.45"/><circle cx="273.88" cy="520.35" r="1.45"/></g>
<g fill="#f9e7df"><circle cx="237.18" cy="487.50" r="1.45"/><circle cx="259.20" cy="487.50" r="1.45"/><circle cx="248.19" cy="491.15" r="1.45"/><circle cx="233.51" cy="498.45" r="1.45"/><circle cx="292.23" cy="505.75" r="1.45"/><circle cx="251.86" cy="509.40" r="1.45"/><circle cx="255.53" cy="520.35" r="1.45"/></g>
<g fill="#f9e6de"><circle cx="251.86" cy="487.50" r="1.45"/><circle cx="277.55" cy="498.45" r="1.45"/></g>
<g fill="#faece6"><circle cx="255.53" cy="487.50" r="1.45"/><circle cx="262.87" cy="491.15" r="1.45"/></g>
<g fill="#f6f2fc"><circle cx="299.57" cy="491.15" r="1.45"/><circle cx="226.17" cy="494.80" r="1.45"/></g>
<g fill="#faf3f2"><circle cx="233.51" cy="494.80" r="1.45"/><circle cx="303.24" cy="505.75" r="1.45"/><circle cx="248.19" cy="513.05" r="1.45"/></g>
<g fill="#f9e7e0"><circle cx="222.50" cy="498.45" r="1.45"/><circle cx="251.86" cy="498.45" r="1.45"/><circle cx="240.85" cy="502.10" r="1.45"/><circle cx="270.21" cy="502.10" r="1.45"/><circle cx="222.50" cy="513.05" r="1.45"/><circle cx="248.19" cy="516.70" r="1.45"/></g>
<g fill="#fbf7f8"><circle cx="240.85" cy="498.45" r="1.45"/><circle cx="299.57" cy="520.35" r="1.45"/></g>
<g fill="#f5f2fb"><circle cx="255.53" cy="498.45" r="1.45"/><circle cx="259.20" cy="505.75" r="1.45"/><circle cx="262.87" cy="509.40" r="1.45"/></g>
<g fill="#f9f6fd"><circle cx="284.89" cy="498.45" r="1.45"/><circle cx="288.56" cy="498.45" r="1.45"/><circle cx="226.17" cy="509.40" r="1.45"/><circle cx="288.56" cy="509.40" r="1.45"/></g>
<g fill="#887df1"><circle cx="281.22" cy="502.10" r="1.45"/></g>
<g fill="#faf2ef"><circle cx="233.51" cy="505.75" r="1.45"/><circle cx="284.89" cy="520.35" r="1.45"/></g>
<g fill="#fbf8f8"><circle cx="237.18" cy="505.75" r="1.45"/><circle cx="295.90" cy="505.75" r="1.45"/></g>
<g fill="#f9e6df"><circle cx="255.53" cy="505.75" r="1.45"/><circle cx="281.22" cy="509.40" r="1.45"/></g>
<g fill="#fbf5f3"><circle cx="233.51" cy="509.40" r="1.45"/></g>
<g fill="#faf7fd"><circle cx="277.55" cy="509.40" r="1.45"/></g>
<g fill="#f3effb"><circle cx="229.84" cy="513.05" r="1.45"/><circle cx="270.21" cy="513.05" r="1.45"/></g>
<g fill="#faece8"><circle cx="237.18" cy="513.05" r="1.45"/></g>
<g fill="#f9e8e2"><circle cx="266.54" cy="513.05" r="1.45"/></g>
<g fill="#fbf9fa"><circle cx="240.85" cy="516.70" r="1.45"/></g>
<g fill="#faeee9"><circle cx="244.52" cy="516.70" r="1.45"/><circle cx="266.54" cy="516.70" r="1.45"/></g>
<g fill="#eee9fa"><circle cx="295.90" cy="516.70" r="1.45"/></g>
<g fill="#f1ecfa"><circle cx="244.52" cy="520.35" r="1.45"/></g>
<g fill="#fbf7f7"><circle cx="281.22" cy="520.35" r="1.45"/></g>
</g>
<rect x="224.27" y="478.30" width="3.8" height="3.8" fill="#fff"/>
<rect x="227.94" y="478.30" width="3.8" height="3.8" fill="#fff"/>
<rect x="224.27" y="481.95" width="3.8" height="3.8" fill="#fff"/>
<rect x="301.34" y="489.25" width="3.8" height="3.8" fill="#fff"/>
<rect x="301.34" y="492.90" width="3.8" height="3.8" fill="#fff"/>
<rect x="224.27" y="500.20" width="3.8" height="3.8" fill="#fff"/>
<text x="222.50" y="460.50" class="s" font-size="2.6" text-anchor="middle" fill="#585858">1</text>
<text x="226.17" y="460.50" class="s" font-size="2.6" text-anchor="middle" fill="#585858">2</text>
<text x="229.84" y="460.50" class="s" font-size="2.6" text-anchor="middle" fill="#585858">3</text>
<text x="233.51" y="460.50" class="s" font-size="2.6" text-anchor="middle" fill="#585858">4</text>
<text x="237.18" y="460.50" class="s" font-size="2.6" text-anchor="middle" fill="#585858">5</text>
<text x="240.85" y="460.50" class="s" font-size="2.6" text-anchor="middle" fill="#585858">6</text>
<text x="244.52" y="460.50" class="s" font-size="2.6" text-anchor="middle" fill="#585858">7</text>
<text x="248.19" y="460.50" class="s" font-size="2.6" text-anchor="middle" fill="#585858">8</text>
<text x="251.86" y="460.50" class="s" font-size="2.6" text-anchor="middle" fill="#585858">9</text>
<text x="255.53" y="460.50" class="s" font-size="2.6" text-anchor="middle" fill="#585858">10</text>
<text x="259.20" y="460.50" class="s" font-size="2.6" text-anchor="middle" fill="#585858">11</text>
<text x="262.87" y="460.50" class="s" font-size="2.6" text-anchor="middle" fill="#585858">12</text>
<text x="266.54" y="460.50" class="s" font-size="2.6" text-anchor="middle" fill="#585858">13</text>
<text x="270.21" y="460.50" class="s" font-size="2.6" text-anchor="middle" fill="#585858">14</text>
<text x="273.88" y="460.50" class="s" font-size="2.6" text-anchor="middle" fill="#585858">15</text>
<text x="277.55" y="460.50" class="s" font-size="2.6" text-anchor="middle" fill="#585858">16</text>
<text x="281.22" y="460.50" class="s" font-size="2.6" text-anchor="middle" fill="#585858">17</text>
<text x="284.89" y="460.50" class="s" font-size="2.6" text-anchor="middle" fill="#585858">18</text>
<text x="288.56" y="460.50" class="s" font-size="2.6" text-anchor="middle" fill="#585858">19</text>
<text x="292.23" y="460.50" class="s" font-size="2.6" text-anchor="middle" fill="#585858">20</text>
<text x="295.90" y="460.50" class="s" font-size="2.6" text-anchor="middle" fill="#585858">21</text>
<text x="299.57" y="460.50" class="s" font-size="2.6" text-anchor="middle" fill="#585858">22</text>
<text x="303.24" y="460.50" class="s" font-size="2.6" text-anchor="middle" fill="#585858">23</text>
<text x="306.91" y="460.50" class="s" font-size="2.6" text-anchor="middle" fill="#585858">24</text>
<text x="215.40" y="466.55" class="s" font-size="2.5" text-anchor="end" fill="#666">A</text>
<text x="215.40" y="470.20" class="s" font-size="2.5" text-anchor="end" fill="#666">B</text>
<text x="215.40" y="473.85" class="s" font-size="2.5" text-anchor="end" fill="#666">C</text>
<text x="215.40" y="477.50" class="s" font-size="2.5" text-anchor="end" fill="#666">D</text>
<text x="215.40" y="481.15" class="s" font-size="2.5" text-anchor="end" fill="#666">E</text>
<text x="215.40" y="484.80" class="s" font-size="2.5" text-anchor="end" fill="#666">F</text>
<text x="215.40" y="488.45" class="s" font-size="2.5" text-anchor="end" fill="#666">G</text>
<text x="215.40" y="492.10" class="s" font-size="2.5" text-anchor="end" fill="#666">H</text>
<text x="215.40" y="495.75" class="s" font-size="2.5" text-anchor="end" fill="#666">I</text>
<text x="215.40" y="499.40" class="s" font-size="2.5" text-anchor="end" fill="#666">J</text>
<text x="215.40" y="503.05" class="s" font-size="2.5" text-anchor="end" fill="#666">K</text>
<text x="215.40" y="506.70" class="s" font-size="2.5" text-anchor="end" fill="#666">L</text>
<text x="215.40" y="510.35" class="s" font-size="2.5" text-anchor="end" fill="#666">M</text>
<text x="215.40" y="514.00" class="s" font-size="2.5" text-anchor="end" fill="#666">N</text>
<text x="215.40" y="517.65" class="s" font-size="2.5" text-anchor="end" fill="#666">O</text>
<text x="215.40" y="521.30" class="s" font-size="2.5" text-anchor="end" fill="#666">P</text>
<text x="267.00" y="534.00" class="r" font-size="9.7" text-anchor="middle" textLength="45.4" lengthAdjust="spacingAndGlyphs">Day 7 fixed</text>
<text x="267.60" y="544.60" class="r" font-size="9.7" text-anchor="middle" textLength="83.0" lengthAdjust="spacingAndGlyphs">CellInsight CX7-LZR</text>
<defs><linearGradient id="cb" x1="0" y1="0" x2="0" y2="1">
<stop offset="0" stop-color="#f1edfb"/>
<stop offset="0.12" stop-color="#e3dcf8"/>
<stop offset="0.35" stop-color="#b9adf3"/>
<stop offset="0.62" stop-color="#7f77f2"/>
<stop offset="0.85" stop-color="#3d3bf6"/>
<stop offset="1" stop-color="#0f0ffb"/>
</linearGradient></defs>
<rect x="326.4" y="437.4" width="12.9" height="10.6" fill="#f8d0bd"/>
<rect x="326.4" y="451.4" width="12.9" height="52.6" fill="url(#cb)"/>
<path d="M322 442.3H339.3M322 460.2H339.3M322.3 460.2V466" stroke="#666" stroke-width="0.55" fill="none"/>
<path d="M320.9 465.2L322.3 468.4L323.7 465.2Z" fill="#111"/>
<path d="M326.2 450.7H339.5" stroke="#000" stroke-width="1.3"/>
<text x="321.20" y="429.40" class="r" font-size="8.6" textLength="26.4" lengthAdjust="spacingAndGlyphs">Z-score</text>
<text x="341.60" y="442.10" class="r" font-size="8.4">3</text>
<text x="341.60" y="453.80" class="r" font-size="8.4">0</text>
<text x="341.60" y="469.70" class="r" font-size="8.4">−5</text>
<text x="341.60" y="488.30" class="r" font-size="8.4">− 10</text>
<text x="341.60" y="506.50" class="r" font-size="8.4">− 15</text>
<g transform="translate(324.0 490.4) rotate(-90)">
<text x="0.00" y="0.00" class="r" font-size="8.6" font-style="italic" text-anchor="middle" textLength="35.4" lengthAdjust="spacingAndGlyphs">significant</text>
</g>
</g>
</svg>
</body>
</html>
